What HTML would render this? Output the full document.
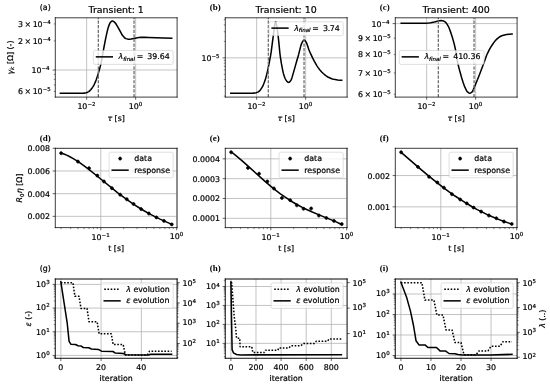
<!DOCTYPE html>
<html lang="en">
<head>
<meta charset="utf-8">
<title>Figure</title>
<style>html,body{margin:0;padding:0;background:#fff;width:550px;height:385px;overflow:hidden}svg text{font-family:"DejaVu Sans","Liberation Sans",sans-serif;stroke:#000;stroke-width:0.28px;paint-order:stroke}svg g[id^=plabel] text{stroke:none;font-family:"Liberation Serif",serif}</style>
</head>
<body>
<svg width="550" height="385" viewBox="0 0 720 504" style="display:block;position:absolute;left:0;top:0">
 <defs>
  <style type="text/css">*{stroke-linejoin: round; stroke-linecap: butt}</style>
 </defs>
 <g id="figure_1">
  <g id="patch_1">
   <path d="M 0 504 L 720 504 L 720 0 L 0 0 z" style="fill: #ffffff"/>
  </g>
  <g id="axes_1">
   <g id="patch_2">
    <path d="M 72.392727 127.112727 L 231.84 127.112727 L 231.84 23.301818 L 72.392727 23.301818 z" style="fill: #ffffff"/>
   </g>
   <g id="matplotlib.axis_1">
    <g id="xtick_1">
     <g id="line2d_1">
      <path d="M 113.432727 127.112727 L 113.432727 23.301818" clip-path="url(#pb1dede0f49)" style="fill: none; stroke: #b0b0b0; stroke-linecap: square"/>
     </g>
     <g id="line2d_2">
      <g>
       <path d="M 0 0 L 0 3.5" transform="translate(113.432727 127.112727)" style="stroke: #000000; stroke-width: 0.8; stroke: #000000; stroke-width: 0.8"/>
      </g>
     </g>
     <g id="text_1">
      <g transform="translate(101.330227 143.439118)">
       <text xml:space="preserve"><tspan x="0 6.521" y="-0.977" style="font-size: 10.3px; font-family: 'DejaVu Sans', 'Liberation Sans', sans-serif">10</tspan><tspan x="13.138 19.15" y="-4.805" style="font-size: 7.21px; font-family: 'DejaVu Sans', 'Liberation Sans', sans-serif">−2</tspan></text>
      </g>
     </g>
    </g>
    <g id="xtick_2">
     <g id="line2d_3">
      <path d="M 177.578182 127.112727 L 177.578182 23.301818" clip-path="url(#pb1dede0f49)" style="fill: none; stroke: #b0b0b0; stroke-linecap: square"/>
     </g>
     <g id="line2d_4">
      <g>
       <path d="M 0 0 L 0 3.5" transform="translate(177.578182 127.112727)" style="stroke: #000000; stroke-width: 0.8; stroke: #000000; stroke-width: 0.8"/>
      </g>
     </g>
     <g id="text_2">
      <g transform="translate(168.514182 143.439118)">
       <text xml:space="preserve"><tspan x="0 6.521" y="-0.977" style="font-size: 10.3px; font-family: 'DejaVu Sans', 'Liberation Sans', sans-serif">10</tspan><tspan x="13.138" y="-4.805" style="font-size: 7.21px; font-family: 'DejaVu Sans', 'Liberation Sans', sans-serif">0</tspan></text>
      </g>
     </g>
    </g>
    <g id="text_3">
     <g transform="translate(140.631864 158.407587)">
      <text xml:space="preserve"><tspan x="0" y="-0.406" style="font-style: oblique; font-size: 10.3px; font-family: 'DejaVu Sans', 'Liberation Sans', sans-serif">τ</tspan><tspan x="6.171 9.429 13.428 18.768" y="-0.406" style="font-size: 10.3px; font-family: 'DejaVu Sans', 'Liberation Sans', sans-serif"> [s]</tspan></text>
     </g>
    </g>
   </g>
   <g id="matplotlib.axis_2">
    <g id="ytick_1">
     <g id="line2d_5">
      <path d="M 72.392727 91.636364 L 231.84 91.636364" clip-path="url(#pb1dede0f49)" style="fill: none; stroke: #b0b0b0; stroke-linecap: square"/>
     </g>
     <g id="line2d_6">
      <g>
       <path d="M 0 0 L -3.5 0" transform="translate(72.392727 91.636364)" style="stroke: #000000; stroke-width: 0.8; stroke: #000000; stroke-width: 0.8"/>
      </g>
     </g>
     <g id="text_4">
      <g transform="translate(41.187727 95.549559)">
       <text xml:space="preserve"><tspan x="0 6.521" y="-0.064" style="font-size: 10.3px; font-family: 'DejaVu Sans', 'Liberation Sans', sans-serif">10</tspan><tspan x="13.138 19.15" y="-3.892" style="font-size: 7.21px; font-family: 'DejaVu Sans', 'Liberation Sans', sans-serif">−4</tspan></text>
      </g>
     </g>
    </g>
    <g id="ytick_2">
     <g id="line2d_7">
      <g>
       <path d="M 0 0 L -2 0" transform="translate(72.392727 119.690953)" style="stroke: #000000; stroke-width: 0.6; stroke: #000000; stroke-width: 0.6"/>
      </g>
     </g>
     <g id="text_5">
      <g transform="translate(23.629727 123.604148)">
       <text xml:space="preserve"><tspan x="0 8.518 19.104 25.625" y="-0.064" style="font-size: 10.3px; font-family: 'DejaVu Sans', 'Liberation Sans', sans-serif">6×10</tspan><tspan x="32.242 38.254" y="-3.892" style="font-size: 7.21px; font-family: 'DejaVu Sans', 'Liberation Sans', sans-serif">−5</tspan></text>
      </g>
     </g>
    </g>
    <g id="ytick_3">
     <g id="line2d_8">
      <g>
       <path d="M 0 0 L -2 0" transform="translate(72.392727 111.224984)" style="stroke: #000000; stroke-width: 0.6; stroke: #000000; stroke-width: 0.6"/>
      </g>
     </g>
    </g>
    <g id="ytick_4">
     <g id="line2d_9">
      <g>
       <path d="M 0 0 L -2 0" transform="translate(72.392727 103.891428)" style="stroke: #000000; stroke-width: 0.6; stroke: #000000; stroke-width: 0.6"/>
      </g>
     </g>
    </g>
    <g id="ytick_5">
     <g id="line2d_10">
      <g>
       <path d="M 0 0 L -2 0" transform="translate(72.392727 97.422773)" style="stroke: #000000; stroke-width: 0.6; stroke: #000000; stroke-width: 0.6"/>
      </g>
     </g>
    </g>
    <g id="ytick_6">
     <g id="line2d_11">
      <g>
       <path d="M 0 0 L -2 0" transform="translate(72.392727 53.568658)" style="stroke: #000000; stroke-width: 0.6; stroke: #000000; stroke-width: 0.6"/>
      </g>
     </g>
     <g id="text_6">
      <g transform="translate(23.629727 57.481853)">
       <text xml:space="preserve"><tspan x="0 8.518 19.104 25.625" y="-0.064" style="font-size: 10.3px; font-family: 'DejaVu Sans', 'Liberation Sans', sans-serif">2×10</tspan><tspan x="32.242 38.254" y="-3.892" style="font-size: 7.21px; font-family: 'DejaVu Sans', 'Liberation Sans', sans-serif">−4</tspan></text>
      </g>
     </g>
    </g>
    <g id="ytick_7">
     <g id="line2d_12">
      <g>
       <path d="M 0 0 L -2 0" transform="translate(72.392727 31.300477)" style="stroke: #000000; stroke-width: 0.6; stroke: #000000; stroke-width: 0.6"/>
      </g>
     </g>
     <g id="text_7">
      <g transform="translate(23.629727 35.213673)">
       <text xml:space="preserve"><tspan x="0 8.518 19.104 25.625" y="-0.064" style="font-size: 10.3px; font-family: 'DejaVu Sans', 'Liberation Sans', sans-serif">3×10</tspan><tspan x="32.242 38.254" y="-3.892" style="font-size: 7.21px; font-family: 'DejaVu Sans', 'Liberation Sans', sans-serif">−4</tspan></text>
      </g>
     </g>
    </g>
    <g id="text_8">
     <g transform="translate(17.466727 97.609773) rotate(-90)">
      <text xml:space="preserve"><tspan x="0" y="-0.406" style="font-style: oblique; font-size: 10.3px; font-family: 'DejaVu Sans', 'Liberation Sans', sans-serif">γ</tspan><tspan x="6.066" y="1.234" style="font-style: oblique; font-size: 7.21px; font-family: 'DejaVu Sans', 'Liberation Sans', sans-serif">k</tspan><tspan x="10.494 13.753 17.751 25.584 29.583 32.841 36.84 40.539" y="-0.406" style="font-size: 10.3px; font-family: 'DejaVu Sans', 'Liberation Sans', sans-serif"> [Ω] (-)</tspan></text>
     </g>
    </g>
   </g>
   <g id="line2d_13">
    <path d="M 79.069091 122.007273 L 109.72779 121.907386 L 111.479716 121.762266 L 112.939654 121.374355 L 114.69158 120.666497 L 116.151518 119.905834 L 117.319468 118.953635 L 118.779406 117.393918 L 120.823319 114.811337 L 121.99127 113.013508 L 123.451208 110.329868 L 124.911146 107.218744 L 126.079096 104.166756 L 128.12301 98.008544 L 129.874935 92.159902 L 131.626861 85.62304 L 132.502824 81.677151 L 133.962762 73.61335 L 136.006675 62.199534 L 138.342576 50.257694 L 140.678477 39.763743 L 141.846427 35.511917 L 143.306365 31.579251 L 144.182328 29.819543 L 144.766304 29.076799 L 145.934254 27.991368 L 146.518229 27.636454 L 147.102204 27.491545 L 147.68618 27.578454 L 148.562142 28.0222 L 149.730093 28.968817 L 151.190031 30.428769 L 152.357981 32.133916 L 154.693882 36.113827 L 159.365684 44.768052 L 160.533635 46.490426 L 162.869535 49.165682 L 164.037486 50.135105 L 164.913449 50.565864 L 166.957362 51.186299 L 168.4173 51.423478 L 169.877238 51.403213 L 171.629164 51.108335 L 178.636866 49.589699 L 181.556743 49.15656 L 185.060594 48.936782 L 189.440408 48.8301 L 194.404197 48.969861 L 213.967367 49.761663 L 224.770909 50.007273 L 224.770909 50.007273" clip-path="url(#pb1dede0f49)" style="fill: none; stroke: #000000; stroke-width: 2; stroke-linecap: square"/>
   </g>
   <g id="line2d_14">
    <path d="M 128.735307 127.112727 L 128.735307 23.301818" clip-path="url(#pb1dede0f49)" style="fill: none; stroke-dasharray: 4.2,1.8025; stroke-dashoffset: 0; stroke: #707070; stroke-width: 1.75"/>
   </g>
   <g id="line2d_15">
    <path d="M 175.477369 127.112727 L 175.477369 23.301818" clip-path="url(#pb1dede0f49)" style="fill: none; stroke-dasharray: 4.2,1.8025; stroke-dashoffset: 0; stroke: #707070; stroke-width: 1.75"/>
   </g>
   <g id="patch_3">
    <path d="M 72.392727 127.112727 L 72.392727 23.301818" style="fill: none; stroke: #000000; stroke-linejoin: miter; stroke-linecap: square"/>
   </g>
   <g id="patch_4">
    <path d="M 231.84 127.112727 L 231.84 23.301818" style="fill: none; stroke: #000000; stroke-linejoin: miter; stroke-linecap: square"/>
   </g>
   <g id="patch_5">
    <path d="M 72.392727 127.112727 L 231.84 127.112727" style="fill: none; stroke: #000000; stroke-linejoin: miter; stroke-linecap: square"/>
   </g>
   <g id="patch_6">
    <path d="M 72.392727 23.301818 L 231.84 23.301818" style="fill: none; stroke: #000000; stroke-linejoin: miter; stroke-linecap: square"/>
   </g>
   <g id="text_9">
    <text style="font-size: 12.36px; font-family: 'DejaVu Sans', 'Liberation Sans', sans-serif; text-anchor: middle" x="152.116364" y="17.301818" transform="rotate(-0 152.116364 17.301818)">Transient: 1</text>
   </g>
   <g id="legend_1">
    <g id="patch_7">
     <path d="M 124.308 84.311507 L 224.63 84.311507 Q 226.69 84.311507 226.69 82.251507 L 226.69 68.163038 Q 226.69 66.103038 224.63 66.103038 L 124.308 66.103038 Q 122.248 66.103038 122.248 68.163038 L 122.248 82.251507 Q 122.248 84.311507 124.308 84.311507 z" style="fill: #ffffff; opacity: 0.8; stroke: #cccccc; stroke-linejoin: miter"/>
    </g>
    <g id="line2d_16">
     <path d="M 126.368 74.444429 L 136.668 74.444429 L 146.968 74.444429" style="fill: none; stroke: #000000; stroke-width: 2; stroke-linecap: square"/>
    </g>
    <g id="text_10">
     <g transform="translate(155.208 78.049429)">
      <text xml:space="preserve"><tspan x="0" y="-0.406" style="font-style: oblique; font-size: 10.3px; font-family: 'DejaVu Sans', 'Liberation Sans', sans-serif">λ</tspan><tspan x="6.066 8.592 10.585 15.133 19.53" y="1.234" style="font-style: oblique; font-size: 7.21px; font-family: 'DejaVu Sans', 'Liberation Sans', sans-serif">final</tspan><tspan x="23.793 34.379 37.637 44.158 50.68 53.938 60.459" y="-0.406" style="font-size: 10.3px; font-family: 'DejaVu Sans', 'Liberation Sans', sans-serif">= 39.64</tspan></text>
     </g>
    </g>
   </g>
  </g>
  <g id="axes_2">
   <g id="patch_8">
    <path d="M 294.938182 127.112727 L 454.385455 127.112727 L 454.385455 23.301818 L 294.938182 23.301818 z" style="fill: #ffffff"/>
   </g>
   <g id="matplotlib.axis_3">
    <g id="xtick_3">
     <g id="line2d_17">
      <path d="M 335.978182 127.112727 L 335.978182 23.301818" clip-path="url(#p7236c7cf03)" style="fill: none; stroke: #b0b0b0; stroke-linecap: square"/>
     </g>
     <g id="line2d_18">
      <g>
       <path d="M 0 0 L 0 3.5" transform="translate(335.978182 127.112727)" style="stroke: #000000; stroke-width: 0.8; stroke: #000000; stroke-width: 0.8"/>
      </g>
     </g>
     <g id="text_11">
      <g transform="translate(323.875682 143.439118)">
       <text xml:space="preserve"><tspan x="0 6.521" y="-0.977" style="font-size: 10.3px; font-family: 'DejaVu Sans', 'Liberation Sans', sans-serif">10</tspan><tspan x="13.138 19.15" y="-4.805" style="font-size: 7.21px; font-family: 'DejaVu Sans', 'Liberation Sans', sans-serif">−2</tspan></text>
      </g>
     </g>
    </g>
    <g id="xtick_4">
     <g id="line2d_19">
      <path d="M 400.123636 127.112727 L 400.123636 23.301818" clip-path="url(#p7236c7cf03)" style="fill: none; stroke: #b0b0b0; stroke-linecap: square"/>
     </g>
     <g id="line2d_20">
      <g>
       <path d="M 0 0 L 0 3.5" transform="translate(400.123636 127.112727)" style="stroke: #000000; stroke-width: 0.8; stroke: #000000; stroke-width: 0.8"/>
      </g>
     </g>
     <g id="text_12">
      <g transform="translate(391.059636 143.439118)">
       <text xml:space="preserve"><tspan x="0 6.521" y="-0.977" style="font-size: 10.3px; font-family: 'DejaVu Sans', 'Liberation Sans', sans-serif">10</tspan><tspan x="13.138" y="-4.805" style="font-size: 7.21px; font-family: 'DejaVu Sans', 'Liberation Sans', sans-serif">0</tspan></text>
      </g>
     </g>
    </g>
    <g id="text_13">
     <g transform="translate(363.177318 158.407587)">
      <text xml:space="preserve"><tspan x="0" y="-0.406" style="font-style: oblique; font-size: 10.3px; font-family: 'DejaVu Sans', 'Liberation Sans', sans-serif">τ</tspan><tspan x="6.171 9.429 13.428 18.768" y="-0.406" style="font-size: 10.3px; font-family: 'DejaVu Sans', 'Liberation Sans', sans-serif"> [s]</tspan></text>
     </g>
    </g>
   </g>
   <g id="matplotlib.axis_4">
    <g id="ytick_8">
     <g id="line2d_21">
      <path d="M 294.938182 75.730909 L 454.385455 75.730909" clip-path="url(#p7236c7cf03)" style="fill: none; stroke: #b0b0b0; stroke-linecap: square"/>
     </g>
     <g id="line2d_22">
      <g>
       <path d="M 0 0 L -3.5 0" transform="translate(294.938182 75.730909)" style="stroke: #000000; stroke-width: 0.8; stroke: #000000; stroke-width: 0.8"/>
      </g>
     </g>
     <g id="text_14">
      <g transform="translate(263.733182 79.644104)">
       <text xml:space="preserve"><tspan x="0 6.521" y="-0.064" style="font-size: 10.3px; font-family: 'DejaVu Sans', 'Liberation Sans', sans-serif">10</tspan><tspan x="13.138 19.15" y="-3.892" style="font-size: 7.21px; font-family: 'DejaVu Sans', 'Liberation Sans', sans-serif">−5</tspan></text>
      </g>
     </g>
    </g>
    <g id="ytick_9">
     <g id="line2d_23">
      <g>
       <path d="M 0 0 L -2 0" transform="translate(294.938182 125.782245)" style="stroke: #000000; stroke-width: 0.6; stroke: #000000; stroke-width: 0.6"/>
      </g>
     </g>
    </g>
    <g id="ytick_10">
     <g id="line2d_24">
      <g>
       <path d="M 0 0 L -2 0" transform="translate(294.938182 113.17283)" style="stroke: #000000; stroke-width: 0.6; stroke: #000000; stroke-width: 0.6"/>
      </g>
     </g>
    </g>
    <g id="ytick_11">
     <g id="line2d_25">
      <g>
       <path d="M 0 0 L -2 0" transform="translate(294.938182 104.226308)" style="stroke: #000000; stroke-width: 0.6; stroke: #000000; stroke-width: 0.6"/>
      </g>
     </g>
    </g>
    <g id="ytick_12">
     <g id="line2d_26">
      <g>
       <path d="M 0 0 L -2 0" transform="translate(294.938182 97.286846)" style="stroke: #000000; stroke-width: 0.6; stroke: #000000; stroke-width: 0.6"/>
      </g>
     </g>
    </g>
    <g id="ytick_13">
     <g id="line2d_27">
      <g>
       <path d="M 0 0 L -2 0" transform="translate(294.938182 91.616893)" style="stroke: #000000; stroke-width: 0.6; stroke: #000000; stroke-width: 0.6"/>
      </g>
     </g>
    </g>
    <g id="ytick_14">
     <g id="line2d_28">
      <g>
       <path d="M 0 0 L -2 0" transform="translate(294.938182 86.823016)" style="stroke: #000000; stroke-width: 0.6; stroke: #000000; stroke-width: 0.6"/>
      </g>
     </g>
    </g>
    <g id="ytick_15">
     <g id="line2d_29">
      <g>
       <path d="M 0 0 L -2 0" transform="translate(294.938182 82.670371)" style="stroke: #000000; stroke-width: 0.6; stroke: #000000; stroke-width: 0.6"/>
      </g>
     </g>
    </g>
    <g id="ytick_16">
     <g id="line2d_30">
      <g>
       <path d="M 0 0 L -2 0" transform="translate(294.938182 79.007478)" style="stroke: #000000; stroke-width: 0.6; stroke: #000000; stroke-width: 0.6"/>
      </g>
     </g>
    </g>
    <g id="ytick_17">
     <g id="line2d_31">
      <g>
       <path d="M 0 0 L -2 0" transform="translate(294.938182 54.174972)" style="stroke: #000000; stroke-width: 0.6; stroke: #000000; stroke-width: 0.6"/>
      </g>
     </g>
    </g>
    <g id="ytick_18">
     <g id="line2d_32">
      <g>
       <path d="M 0 0 L -2 0" transform="translate(294.938182 41.565557)" style="stroke: #000000; stroke-width: 0.6; stroke: #000000; stroke-width: 0.6"/>
      </g>
     </g>
    </g>
    <g id="ytick_19">
     <g id="line2d_33">
      <g>
       <path d="M 0 0 L -2 0" transform="translate(294.938182 32.619035)" style="stroke: #000000; stroke-width: 0.6; stroke: #000000; stroke-width: 0.6"/>
      </g>
     </g>
    </g>
    <g id="ytick_20">
     <g id="line2d_34">
      <g>
       <path d="M 0 0 L -2 0" transform="translate(294.938182 25.679573)" style="stroke: #000000; stroke-width: 0.6; stroke: #000000; stroke-width: 0.6"/>
      </g>
     </g>
    </g>
   </g>
   <g id="line2d_35">
    <path d="M 302.138182 122.007273 L 331.522944 121.903623 L 333.559512 121.718175 L 335.305141 121.311092 L 337.341709 120.588964 L 338.505462 120.036613 L 339.378277 119.348882 L 340.54203 118.074339 L 341.996721 116.065172 L 343.451412 113.748193 L 344.615165 111.338572 L 346.069856 107.630965 L 347.524547 103.375731 L 348.6883 99.300223 L 350.142991 93.350143 L 351.306744 87.755292 L 353.343312 77.290465 L 354.216127 72.887484 L 355.088942 67.356886 L 356.543633 56.255505 L 359.453015 33.486517 L 360.32583 29.382414 L 360.616768 28.618304 L 360.907706 28.420589 L 361.198645 28.866487 L 361.780521 31.118436 L 362.944274 37.568557 L 364.108027 46.841004 L 364.980842 55.136455 L 366.435533 70.021083 L 367.308348 76.561022 L 368.472101 83.704777 L 370.21773 92.764853 L 371.090545 96.411561 L 372.254298 100.140229 L 373.127112 102.399205 L 373.999927 104.141301 L 375.16368 105.973443 L 376.036495 106.872244 L 377.200248 107.671125 L 377.782124 107.85951 L 378.364001 107.782969 L 378.945877 107.426854 L 379.818692 106.518265 L 380.982445 104.90155 L 381.564321 103.594649 L 382.437136 100.96855 L 385.928395 88.830408 L 388.255901 80.612255 L 390.874345 71.573775 L 393.783727 60.002612 L 394.94748 56.77359 L 395.820295 54.991939 L 397.274986 53.037456 L 397.856863 52.585594 L 398.438739 52.523661 L 399.020616 52.866689 L 399.602492 53.513009 L 400.766245 55.297244 L 401.348122 56.356985 L 402.220936 58.725969 L 404.257504 64.831327 L 406.294072 69.610343 L 409.203454 75.796268 L 411.53096 80.292227 L 414.731281 85.890235 L 416.47691 88.521737 L 418.804416 91.527152 L 421.131922 94.168205 L 423.16849 96.163484 L 426.077872 98.659231 L 428.11444 100.150998 L 429.860069 101.170078 L 432.769452 102.502843 L 435.096958 103.321451 L 437.133525 103.784982 L 442.079475 104.608677 L 445.279796 104.925498 L 447.316364 104.989091 L 447.316364 104.989091" clip-path="url(#p7236c7cf03)" style="fill: none; stroke: #000000; stroke-width: 2; stroke-linecap: square"/>
   </g>
   <g id="line2d_36">
    <path d="M 351.280762 127.112727 L 351.280762 23.301818" clip-path="url(#p7236c7cf03)" style="fill: none; stroke-dasharray: 4.2,1.8025; stroke-dashoffset: 0; stroke: #707070; stroke-width: 1.75"/>
   </g>
   <g id="line2d_37">
    <path d="M 398.022823 127.112727 L 398.022823 23.301818" clip-path="url(#p7236c7cf03)" style="fill: none; stroke-dasharray: 4.2,1.8025; stroke-dashoffset: 0; stroke: #707070; stroke-width: 1.75"/>
   </g>
   <g id="patch_9">
    <path d="M 294.938182 127.112727 L 294.938182 23.301818" style="fill: none; stroke: #000000; stroke-linejoin: miter; stroke-linecap: square"/>
   </g>
   <g id="patch_10">
    <path d="M 454.385455 127.112727 L 454.385455 23.301818" style="fill: none; stroke: #000000; stroke-linejoin: miter; stroke-linecap: square"/>
   </g>
   <g id="patch_11">
    <path d="M 294.938182 127.112727 L 454.385455 127.112727" style="fill: none; stroke: #000000; stroke-linejoin: miter; stroke-linecap: square"/>
   </g>
   <g id="patch_12">
    <path d="M 294.938182 23.301818 L 454.385455 23.301818" style="fill: none; stroke: #000000; stroke-linejoin: miter; stroke-linecap: square"/>
   </g>
   <g id="text_15">
    <text style="font-size: 12.36px; font-family: 'DejaVu Sans', 'Liberation Sans', sans-serif; text-anchor: middle" x="374.661818" y="17.301818" transform="rotate(-0 374.661818 17.301818)">Transient: 10</text>
   </g>
   <g id="legend_2">
    <g id="patch_13">
     <path d="M 354.166455 46.660287 L 447.175455 46.660287 Q 449.235455 46.660287 449.235455 44.600287 L 449.235455 30.511818 Q 449.235455 28.451818 447.175455 28.451818 L 354.166455 28.451818 Q 352.106455 28.451818 352.106455 30.511818 L 352.106455 44.600287 Q 352.106455 46.660287 354.166455 46.660287 z" style="fill: #ffffff; opacity: 0.8; stroke: #cccccc; stroke-linejoin: miter"/>
    </g>
    <g id="line2d_38">
     <path d="M 356.226455 36.793209 L 366.526455 36.793209 L 376.826455 36.793209" style="fill: none; stroke: #000000; stroke-width: 2; stroke-linecap: square"/>
    </g>
    <g id="text_16">
     <g transform="translate(385.066455 40.398209)">
      <text xml:space="preserve"><tspan x="0" y="-0.406" style="font-style: oblique; font-size: 10.3px; font-family: 'DejaVu Sans', 'Liberation Sans', sans-serif">λ</tspan><tspan x="6.066 8.592 10.585 15.133 19.53" y="1.234" style="font-style: oblique; font-size: 7.21px; font-family: 'DejaVu Sans', 'Liberation Sans', sans-serif">final</tspan><tspan x="23.793 34.379 37.637 44.158 46.666 53.188" y="-0.406" style="font-size: 10.3px; font-family: 'DejaVu Sans', 'Liberation Sans', sans-serif">= 3.74</tspan></text>
     </g>
    </g>
   </g>
  </g>
  <g id="axes_3">
   <g id="patch_14">
    <path d="M 517.483636 127.112727 L 676.930909 127.112727 L 676.930909 23.301818 L 517.483636 23.301818 z" style="fill: #ffffff"/>
   </g>
   <g id="matplotlib.axis_5">
    <g id="xtick_5">
     <g id="line2d_39">
      <path d="M 558.523636 127.112727 L 558.523636 23.301818" clip-path="url(#p503ab55e07)" style="fill: none; stroke: #b0b0b0; stroke-linecap: square"/>
     </g>
     <g id="line2d_40">
      <g>
       <path d="M 0 0 L 0 3.5" transform="translate(558.523636 127.112727)" style="stroke: #000000; stroke-width: 0.8; stroke: #000000; stroke-width: 0.8"/>
      </g>
     </g>
     <g id="text_17">
      <g transform="translate(546.421136 143.439118)">
       <text xml:space="preserve"><tspan x="0 6.521" y="-0.977" style="font-size: 10.3px; font-family: 'DejaVu Sans', 'Liberation Sans', sans-serif">10</tspan><tspan x="13.138 19.15" y="-4.805" style="font-size: 7.21px; font-family: 'DejaVu Sans', 'Liberation Sans', sans-serif">−2</tspan></text>
      </g>
     </g>
    </g>
    <g id="xtick_6">
     <g id="line2d_41">
      <path d="M 622.669091 127.112727 L 622.669091 23.301818" clip-path="url(#p503ab55e07)" style="fill: none; stroke: #b0b0b0; stroke-linecap: square"/>
     </g>
     <g id="line2d_42">
      <g>
       <path d="M 0 0 L 0 3.5" transform="translate(622.669091 127.112727)" style="stroke: #000000; stroke-width: 0.8; stroke: #000000; stroke-width: 0.8"/>
      </g>
     </g>
     <g id="text_18">
      <g transform="translate(613.605091 143.439118)">
       <text xml:space="preserve"><tspan x="0 6.521" y="-0.977" style="font-size: 10.3px; font-family: 'DejaVu Sans', 'Liberation Sans', sans-serif">10</tspan><tspan x="13.138" y="-4.805" style="font-size: 7.21px; font-family: 'DejaVu Sans', 'Liberation Sans', sans-serif">0</tspan></text>
      </g>
     </g>
    </g>
    <g id="text_19">
     <g transform="translate(585.722773 158.407587)">
      <text xml:space="preserve"><tspan x="0" y="-0.406" style="font-style: oblique; font-size: 10.3px; font-family: 'DejaVu Sans', 'Liberation Sans', sans-serif">τ</tspan><tspan x="6.171 9.429 13.428 18.768" y="-0.406" style="font-size: 10.3px; font-family: 'DejaVu Sans', 'Liberation Sans', sans-serif"> [s]</tspan></text>
     </g>
    </g>
   </g>
   <g id="matplotlib.axis_6">
    <g id="ytick_21">
     <g id="line2d_43">
      <path d="M 517.483636 30.894545 L 676.930909 30.894545" clip-path="url(#p503ab55e07)" style="fill: none; stroke: #b0b0b0; stroke-linecap: square"/>
     </g>
     <g id="line2d_44">
      <g>
       <path d="M 0 0 L -3.5 0" transform="translate(517.483636 30.894545)" style="stroke: #000000; stroke-width: 0.8; stroke: #000000; stroke-width: 0.8"/>
      </g>
     </g>
     <g id="text_20">
      <g transform="translate(486.278636 34.807741)">
       <text xml:space="preserve"><tspan x="0 6.521" y="-0.064" style="font-size: 10.3px; font-family: 'DejaVu Sans', 'Liberation Sans', sans-serif">10</tspan><tspan x="13.138 19.15" y="-3.892" style="font-size: 7.21px; font-family: 'DejaVu Sans', 'Liberation Sans', sans-serif">−4</tspan></text>
      </g>
     </g>
    </g>
    <g id="ytick_22">
     <g id="line2d_45">
      <g>
       <path d="M 0 0 L -2 0" transform="translate(517.483636 123.393373)" style="stroke: #000000; stroke-width: 0.6; stroke: #000000; stroke-width: 0.6"/>
      </g>
     </g>
     <g id="text_21">
      <g transform="translate(468.720636 127.306569)">
       <text xml:space="preserve"><tspan x="0 8.518 19.104 25.625" y="-0.064" style="font-size: 10.3px; font-family: 'DejaVu Sans', 'Liberation Sans', sans-serif">6×10</tspan><tspan x="32.242 38.254" y="-3.892" style="font-size: 7.21px; font-family: 'DejaVu Sans', 'Liberation Sans', sans-serif">−5</tspan></text>
      </g>
     </g>
    </g>
    <g id="ytick_23">
     <g id="line2d_46">
      <g>
       <path d="M 0 0 L -2 0" transform="translate(517.483636 95.480214)" style="stroke: #000000; stroke-width: 0.6; stroke: #000000; stroke-width: 0.6"/>
      </g>
     </g>
     <g id="text_22">
      <g transform="translate(468.720636 99.393409)">
       <text xml:space="preserve"><tspan x="0 8.518 19.104 25.625" y="-0.064" style="font-size: 10.3px; font-family: 'DejaVu Sans', 'Liberation Sans', sans-serif">7×10</tspan><tspan x="32.242 38.254" y="-3.892" style="font-size: 7.21px; font-family: 'DejaVu Sans', 'Liberation Sans', sans-serif">−5</tspan></text>
      </g>
     </g>
    </g>
    <g id="ytick_24">
     <g id="line2d_47">
      <g>
       <path d="M 0 0 L -2 0" transform="translate(517.483636 71.300735)" style="stroke: #000000; stroke-width: 0.6; stroke: #000000; stroke-width: 0.6"/>
      </g>
     </g>
     <g id="text_23">
      <g transform="translate(468.720636 75.21393)">
       <text xml:space="preserve"><tspan x="0 8.518 19.104 25.625" y="-0.064" style="font-size: 10.3px; font-family: 'DejaVu Sans', 'Liberation Sans', sans-serif">8×10</tspan><tspan x="32.242 38.254" y="-3.892" style="font-size: 7.21px; font-family: 'DejaVu Sans', 'Liberation Sans', sans-serif">−5</tspan></text>
      </g>
     </g>
    </g>
    <g id="ytick_25">
     <g id="line2d_48">
      <g>
       <path d="M 0 0 L -2 0" transform="translate(517.483636 49.972923)" style="stroke: #000000; stroke-width: 0.6; stroke: #000000; stroke-width: 0.6"/>
      </g>
     </g>
     <g id="text_24">
      <g transform="translate(468.720636 53.886118)">
       <text xml:space="preserve"><tspan x="0 8.518 19.104 25.625" y="-0.064" style="font-size: 10.3px; font-family: 'DejaVu Sans', 'Liberation Sans', sans-serif">9×10</tspan><tspan x="32.242 38.254" y="-3.892" style="font-size: 7.21px; font-family: 'DejaVu Sans', 'Liberation Sans', sans-serif">−5</tspan></text>
      </g>
     </g>
    </g>
   </g>
   <g id="line2d_49">
    <path d="M 525.207273 30.501818 L 557.792356 30.397783 L 560.992676 30.222471 L 563.902059 29.803004 L 568.557071 28.896662 L 575.24865 27.256458 L 577.576156 26.975098 L 578.739909 27.027174 L 579.903662 27.309565 L 581.358353 27.893493 L 582.522106 28.4925 L 583.394921 29.237605 L 584.558674 30.646109 L 586.013365 32.846745 L 586.88618 34.378898 L 588.049933 37.06457 L 590.377439 43.38187 L 592.123068 48.679305 L 593.868697 54.780718 L 595.323389 60.599118 L 596.487142 66.050567 L 597.359956 71.428353 L 598.523709 79.021554 L 599.396524 83.278331 L 600.851215 89.157534 L 604.342474 101.78353 L 606.379042 108.229852 L 607.833733 112.397192 L 608.997486 115.130427 L 610.743115 118.634464 L 611.61593 119.910116 L 612.488745 120.730841 L 613.652498 121.606166 L 614.525312 121.969728 L 615.107189 121.993587 L 615.980004 121.715812 L 616.852818 121.164272 L 618.016571 120.18478 L 618.598448 119.384797 L 619.471263 117.630878 L 625.290027 103.835446 L 628.490348 95.57677 L 634.890989 78.496377 L 636.927557 72.736353 L 638.382248 69.429721 L 640.418816 65.331056 L 642.455383 61.723629 L 644.491951 58.544411 L 647.110395 54.82308 L 648.856025 52.667777 L 650.310716 51.176182 L 652.347284 49.513562 L 654.383851 48.097193 L 656.129481 47.134345 L 657.87511 46.452817 L 660.493554 45.699925 L 663.111999 45.171253 L 666.603257 44.744629 L 669.803578 44.520367 L 670.385455 44.509091 L 670.385455 44.509091" clip-path="url(#p503ab55e07)" style="fill: none; stroke: #000000; stroke-width: 2; stroke-linecap: square"/>
   </g>
   <g id="line2d_50">
    <path d="M 573.826216 127.112727 L 573.826216 23.301818" clip-path="url(#p503ab55e07)" style="fill: none; stroke-dasharray: 4.2,1.8025; stroke-dashoffset: 0; stroke: #707070; stroke-width: 1.75"/>
   </g>
   <g id="line2d_51">
    <path d="M 620.568278 127.112727 L 620.568278 23.301818" clip-path="url(#p503ab55e07)" style="fill: none; stroke-dasharray: 4.2,1.8025; stroke-dashoffset: 0; stroke: #707070; stroke-width: 1.75"/>
   </g>
   <g id="patch_15">
    <path d="M 517.483636 127.112727 L 517.483636 23.301818" style="fill: none; stroke: #000000; stroke-linejoin: miter; stroke-linecap: square"/>
   </g>
   <g id="patch_16">
    <path d="M 676.930909 127.112727 L 676.930909 23.301818" style="fill: none; stroke: #000000; stroke-linejoin: miter; stroke-linecap: square"/>
   </g>
   <g id="patch_17">
    <path d="M 517.483636 127.112727 L 676.930909 127.112727" style="fill: none; stroke: #000000; stroke-linejoin: miter; stroke-linecap: square"/>
   </g>
   <g id="patch_18">
    <path d="M 517.483636 23.301818 L 676.930909 23.301818" style="fill: none; stroke: #000000; stroke-linejoin: miter; stroke-linecap: square"/>
   </g>
   <g id="text_25">
    <text style="font-size: 12.36px; font-family: 'DejaVu Sans', 'Liberation Sans', sans-serif; text-anchor: middle" x="597.207273" y="17.301818" transform="rotate(-0 597.207273 17.301818)">Transient: 400</text>
   </g>
   <g id="legend_3">
    <g id="patch_19">
     <path d="M 524.693636 84.311507 L 631.607636 84.311507 Q 633.667636 84.311507 633.667636 82.251507 L 633.667636 68.163038 Q 633.667636 66.103038 631.607636 66.103038 L 524.693636 66.103038 Q 522.633636 66.103038 522.633636 68.163038 L 522.633636 82.251507 Q 522.633636 84.311507 524.693636 84.311507 z" style="fill: #ffffff; opacity: 0.8; stroke: #cccccc; stroke-linejoin: miter"/>
    </g>
    <g id="line2d_52">
     <path d="M 526.753636 74.444429 L 537.053636 74.444429 L 547.353636 74.444429" style="fill: none; stroke: #000000; stroke-width: 2; stroke-linecap: square"/>
    </g>
    <g id="text_26">
     <g transform="translate(555.593636 78.049429)">
      <text xml:space="preserve"><tspan x="0" y="-0.406" style="font-style: oblique; font-size: 10.3px; font-family: 'DejaVu Sans', 'Liberation Sans', sans-serif">λ</tspan><tspan x="6.066 8.592 10.585 15.133 19.53" y="1.234" style="font-style: oblique; font-size: 7.21px; font-family: 'DejaVu Sans', 'Liberation Sans', sans-serif">final</tspan><tspan x="23.793 34.379 37.637 44.158 50.68 57.201 60.459 66.981" y="-0.406" style="font-size: 10.3px; font-family: 'DejaVu Sans', 'Liberation Sans', sans-serif">= 410.36</tspan></text>
     </g>
    </g>
   </g>
  </g>
  <g id="axes_4">
   <g id="patch_20">
    <path d="M 72.392727 297.949091 L 231.84 297.949091 L 231.84 194.138182 L 72.392727 194.138182 z" style="fill: #ffffff"/>
   </g>
   <g id="matplotlib.axis_7">
    <g id="xtick_7">
     <g id="line2d_53">
      <path d="M 131.956364 297.949091 L 131.956364 194.138182" clip-path="url(#p05bd576114)" style="fill: none; stroke: #b0b0b0; stroke-linecap: square"/>
     </g>
     <g id="line2d_54">
      <g>
       <path d="M 0 0 L 0 3.5" transform="translate(131.956364 297.949091)" style="stroke: #000000; stroke-width: 0.8; stroke: #000000; stroke-width: 0.8"/>
      </g>
     </g>
     <g id="text_27">
      <g transform="translate(119.853864 314.275482)">
       <text xml:space="preserve"><tspan x="0 6.521" y="-0.064" style="font-size: 10.3px; font-family: 'DejaVu Sans', 'Liberation Sans', sans-serif">10</tspan><tspan x="13.138 19.15" y="-3.892" style="font-size: 7.21px; font-family: 'DejaVu Sans', 'Liberation Sans', sans-serif">−1</tspan></text>
      </g>
     </g>
    </g>
    <g id="xtick_8">
     <g id="line2d_55">
      <path d="M 231.316364 297.949091 L 231.316364 194.138182" clip-path="url(#p05bd576114)" style="fill: none; stroke: #b0b0b0; stroke-linecap: square"/>
     </g>
     <g id="line2d_56">
      <g>
       <path d="M 0 0 L 0 3.5" transform="translate(231.316364 297.949091)" style="stroke: #000000; stroke-width: 0.8; stroke: #000000; stroke-width: 0.8"/>
      </g>
     </g>
     <g id="text_28">
      <g transform="translate(222.252364 314.275482)">
       <text xml:space="preserve"><tspan x="0 6.521" y="-0.977" style="font-size: 10.3px; font-family: 'DejaVu Sans', 'Liberation Sans', sans-serif">10</tspan><tspan x="13.138" y="-4.805" style="font-size: 7.21px; font-family: 'DejaVu Sans', 'Liberation Sans', sans-serif">0</tspan></text>
      </g>
     </g>
    </g>
    <g id="xtick_9">
     <g id="line2d_57">
      <g>
       <path d="M 0 0 L 0 2" transform="translate(80.003132 297.949091)" style="stroke: #000000; stroke-width: 0.6; stroke: #000000; stroke-width: 0.6"/>
      </g>
     </g>
    </g>
    <g id="xtick_10">
     <g id="line2d_58">
      <g>
       <path d="M 0 0 L 0 2" transform="translate(92.417044 297.949091)" style="stroke: #000000; stroke-width: 0.6; stroke: #000000; stroke-width: 0.6"/>
      </g>
     </g>
    </g>
    <g id="xtick_11">
     <g id="line2d_59">
      <g>
       <path d="M 0 0 L 0 2" transform="translate(102.046023 297.949091)" style="stroke: #000000; stroke-width: 0.6; stroke: #000000; stroke-width: 0.6"/>
      </g>
     </g>
    </g>
    <g id="xtick_12">
     <g id="line2d_60">
      <g>
       <path d="M 0 0 L 0 2" transform="translate(109.913472 297.949091)" style="stroke: #000000; stroke-width: 0.6; stroke: #000000; stroke-width: 0.6"/>
      </g>
     </g>
    </g>
    <g id="xtick_13">
     <g id="line2d_61">
      <g>
       <path d="M 0 0 L 0 2" transform="translate(116.565305 297.949091)" style="stroke: #000000; stroke-width: 0.6; stroke: #000000; stroke-width: 0.6"/>
      </g>
     </g>
    </g>
    <g id="xtick_14">
     <g id="line2d_62">
      <g>
       <path d="M 0 0 L 0 2" transform="translate(122.327385 297.949091)" style="stroke: #000000; stroke-width: 0.6; stroke: #000000; stroke-width: 0.6"/>
      </g>
     </g>
    </g>
    <g id="xtick_15">
     <g id="line2d_63">
      <g>
       <path d="M 0 0 L 0 2" transform="translate(127.409899 297.949091)" style="stroke: #000000; stroke-width: 0.6; stroke: #000000; stroke-width: 0.6"/>
      </g>
     </g>
    </g>
    <g id="xtick_16">
     <g id="line2d_64">
      <g>
       <path d="M 0 0 L 0 2" transform="translate(161.866704 297.949091)" style="stroke: #000000; stroke-width: 0.6; stroke: #000000; stroke-width: 0.6"/>
      </g>
     </g>
    </g>
    <g id="xtick_17">
     <g id="line2d_65">
      <g>
       <path d="M 0 0 L 0 2" transform="translate(179.363132 297.949091)" style="stroke: #000000; stroke-width: 0.6; stroke: #000000; stroke-width: 0.6"/>
      </g>
     </g>
    </g>
    <g id="xtick_18">
     <g id="line2d_66">
      <g>
       <path d="M 0 0 L 0 2" transform="translate(191.777044 297.949091)" style="stroke: #000000; stroke-width: 0.6; stroke: #000000; stroke-width: 0.6"/>
      </g>
     </g>
    </g>
    <g id="xtick_19">
     <g id="line2d_67">
      <g>
       <path d="M 0 0 L 0 2" transform="translate(201.406023 297.949091)" style="stroke: #000000; stroke-width: 0.6; stroke: #000000; stroke-width: 0.6"/>
      </g>
     </g>
    </g>
    <g id="xtick_20">
     <g id="line2d_68">
      <g>
       <path d="M 0 0 L 0 2" transform="translate(209.273472 297.949091)" style="stroke: #000000; stroke-width: 0.6; stroke: #000000; stroke-width: 0.6"/>
      </g>
     </g>
    </g>
    <g id="xtick_21">
     <g id="line2d_69">
      <g>
       <path d="M 0 0 L 0 2" transform="translate(215.925305 297.949091)" style="stroke: #000000; stroke-width: 0.6; stroke: #000000; stroke-width: 0.6"/>
      </g>
     </g>
    </g>
    <g id="xtick_22">
     <g id="line2d_70">
      <g>
       <path d="M 0 0 L 0 2" transform="translate(221.687385 297.949091)" style="stroke: #000000; stroke-width: 0.6; stroke: #000000; stroke-width: 0.6"/>
      </g>
     </g>
    </g>
    <g id="xtick_23">
     <g id="line2d_71">
      <g>
       <path d="M 0 0 L 0 2" transform="translate(226.769899 297.949091)" style="stroke: #000000; stroke-width: 0.6; stroke: #000000; stroke-width: 0.6"/>
      </g>
     </g>
    </g>
    <g id="text_29">
     <text style="font-size: 10.3px; font-family: 'DejaVu Sans', 'Liberation Sans', sans-serif; text-anchor: middle" x="152.116364" y="329.24395" transform="rotate(-0 152.116364 329.24395)">t [s]</text>
    </g>
   </g>
   <g id="matplotlib.axis_8">
    <g id="ytick_26">
     <g id="line2d_72">
      <path d="M 72.392727 283.203223 L 231.84 283.203223" clip-path="url(#p05bd576114)" style="fill: none; stroke: #b0b0b0; stroke-linecap: square"/>
     </g>
     <g id="line2d_73">
      <g>
       <path d="M 0 0 L -3.5 0" transform="translate(72.392727 283.203223)" style="stroke: #000000; stroke-width: 0.8; stroke: #000000; stroke-width: 0.8"/>
      </g>
     </g>
     <g id="text_30">
      <text style="font-size: 10.3px; font-family: 'DejaVu Sans', 'Liberation Sans', sans-serif; text-anchor: end" x="65.392727" y="287.116418" transform="rotate(-0 65.392727 287.116418)">0.002</text>
     </g>
    </g>
    <g id="ytick_27">
     <g id="line2d_74">
      <path d="M 72.392727 253.514876 L 231.84 253.514876" clip-path="url(#p05bd576114)" style="fill: none; stroke: #b0b0b0; stroke-linecap: square"/>
     </g>
     <g id="line2d_75">
      <g>
       <path d="M 0 0 L -3.5 0" transform="translate(72.392727 253.514876)" style="stroke: #000000; stroke-width: 0.8; stroke: #000000; stroke-width: 0.8"/>
      </g>
     </g>
     <g id="text_31">
      <text style="font-size: 10.3px; font-family: 'DejaVu Sans', 'Liberation Sans', sans-serif; text-anchor: end" x="65.392727" y="257.428071" transform="rotate(-0 65.392727 257.428071)">0.004</text>
     </g>
    </g>
    <g id="ytick_28">
     <g id="line2d_76">
      <path d="M 72.392727 223.826529 L 231.84 223.826529" clip-path="url(#p05bd576114)" style="fill: none; stroke: #b0b0b0; stroke-linecap: square"/>
     </g>
     <g id="line2d_77">
      <g>
       <path d="M 0 0 L -3.5 0" transform="translate(72.392727 223.826529)" style="stroke: #000000; stroke-width: 0.8; stroke: #000000; stroke-width: 0.8"/>
      </g>
     </g>
     <g id="text_32">
      <text style="font-size: 10.3px; font-family: 'DejaVu Sans', 'Liberation Sans', sans-serif; text-anchor: end" x="65.392727" y="227.739724" transform="rotate(-0 65.392727 227.739724)">0.006</text>
     </g>
    </g>
    <g id="ytick_29">
     <g id="line2d_78">
      <path d="M 72.392727 194.138182 L 231.84 194.138182" clip-path="url(#p05bd576114)" style="fill: none; stroke: #b0b0b0; stroke-linecap: square"/>
     </g>
     <g id="line2d_79">
      <g>
       <path d="M 0 0 L -3.5 0" transform="translate(72.392727 194.138182)" style="stroke: #000000; stroke-width: 0.8; stroke: #000000; stroke-width: 0.8"/>
      </g>
     </g>
     <g id="text_33">
      <text style="font-size: 10.3px; font-family: 'DejaVu Sans', 'Liberation Sans', sans-serif; text-anchor: end" x="65.392727" y="198.051377" transform="rotate(-0 65.392727 198.051377)">0.008</text>
     </g>
    </g>
    <g id="text_34">
     <g transform="translate(29.742759 264.944136) rotate(-90)">
      <text xml:space="preserve"><tspan x="0 11.96" y="-0.406" style="font-style: oblique; font-size: 10.3px; font-family: 'DejaVu Sans', 'Liberation Sans', sans-serif">Rη</tspan><tspan x="7.122" y="1.234" style="font-size: 7.21px; font-family: 'DejaVu Sans', 'Liberation Sans', sans-serif">0</tspan><tspan x="18.457 21.715 25.714 33.546" y="-0.406" style="font-size: 10.3px; font-family: 'DejaVu Sans', 'Liberation Sans', sans-serif"> [Ω]</tspan></text>
     </g>
    </g>
   </g>
   <g id="line2d_80">
    <g clip-path="url(#p05bd576114)">
     <path d="M 0 1.95 C 0.517146 1.95 1.013181 1.744536 1.378858 1.378858 C 1.744536 1.013181 1.95 0.517146 1.95 0 C 1.95 -0.517146 1.744536 -1.013181 1.378858 -1.378858 C 1.013181 -1.744536 0.517146 -1.95 0 -1.95 C -0.517146 -1.95 -1.013181 -1.744536 -1.378858 -1.378858 C -1.744536 -1.013181 -1.95 -0.517146 -1.95 0 C -1.95 0.517146 -1.744536 1.013181 -1.378858 1.378858 C -1.013181 1.744536 -0.517146 1.95 0 1.95 z" transform="translate(80.003132 200.552727)" style="stroke: #000000; stroke: #000000"/>
     <path d="M 0 1.95 C 0.517146 1.95 1.013181 1.744536 1.378858 1.378858 C 1.744536 1.013181 1.95 0.517146 1.95 0 C 1.95 -0.517146 1.744536 -1.013181 1.378858 -1.378858 C 1.013181 -1.744536 0.517146 -1.95 0 -1.95 C -0.517146 -1.95 -1.013181 -1.744536 -1.378858 -1.378858 C -1.744536 -1.013181 -1.95 -0.517146 -1.95 0 C -1.95 0.517146 -1.744536 1.013181 -1.378858 1.378858 C -1.013181 1.744536 -0.517146 1.95 0 1.95 z" transform="translate(102.046023 211.549091)" style="stroke: #000000; stroke: #000000"/>
     <path d="M 0 1.95 C 0.517146 1.95 1.013181 1.744536 1.378858 1.378858 C 1.744536 1.013181 1.95 0.517146 1.95 0 C 1.95 -0.517146 1.744536 -1.013181 1.378858 -1.378858 C 1.013181 -1.744536 0.517146 -1.95 0 -1.95 C -0.517146 -1.95 -1.013181 -1.744536 -1.378858 -1.378858 C -1.744536 -1.013181 -1.95 -0.517146 -1.95 0 C -1.95 0.517146 -1.744536 1.013181 -1.378858 1.378858 C -1.013181 1.744536 -0.517146 1.95 0 1.95 z" transform="translate(116.565305 220.189091)" style="stroke: #000000; stroke: #000000"/>
     <path d="M 0 1.95 C 0.517146 1.95 1.013181 1.744536 1.378858 1.378858 C 1.744536 1.013181 1.95 0.517146 1.95 0 C 1.95 -0.517146 1.744536 -1.013181 1.378858 -1.378858 C 1.013181 -1.744536 0.517146 -1.95 0 -1.95 C -0.517146 -1.95 -1.013181 -1.744536 -1.378858 -1.378858 C -1.744536 -1.013181 -1.95 -0.517146 -1.95 0 C -1.95 0.517146 -1.744536 1.013181 -1.378858 1.378858 C -1.013181 1.744536 -0.517146 1.95 0 1.95 z" transform="translate(127.409899 229.876364)" style="stroke: #000000; stroke: #000000"/>
     <path d="M 0 1.95 C 0.517146 1.95 1.013181 1.744536 1.378858 1.378858 C 1.744536 1.013181 1.95 0.517146 1.95 0 C 1.95 -0.517146 1.744536 -1.013181 1.378858 -1.378858 C 1.013181 -1.744536 0.517146 -1.95 0 -1.95 C -0.517146 -1.95 -1.013181 -1.744536 -1.378858 -1.378858 C -1.744536 -1.013181 -1.95 -0.517146 -1.95 0 C -1.95 0.517146 -1.744536 1.013181 -1.378858 1.378858 C -1.013181 1.744536 -0.517146 1.95 0 1.95 z" transform="translate(136.069141 237.6)" style="stroke: #000000; stroke: #000000"/>
     <path d="M 0 1.95 C 0.517146 1.95 1.013181 1.744536 1.378858 1.378858 C 1.744536 1.013181 1.95 0.517146 1.95 0 C 1.95 -0.517146 1.744536 -1.013181 1.378858 -1.378858 C 1.013181 -1.744536 0.517146 -1.95 0 -1.95 C -0.517146 -1.95 -1.013181 -1.744536 -1.378858 -1.378858 C -1.744536 -1.013181 -1.95 -0.517146 -1.95 0 C -1.95 0.517146 -1.744536 1.013181 -1.378858 1.378858 C -1.013181 1.744536 -0.517146 1.95 0 1.95 z" transform="translate(146.475645 246.370909)" style="stroke: #000000; stroke: #000000"/>
     <path d="M 0 1.95 C 0.517146 1.95 1.013181 1.744536 1.378858 1.378858 C 1.744536 1.013181 1.95 0.517146 1.95 0 C 1.95 -0.517146 1.744536 -1.013181 1.378858 -1.378858 C 1.013181 -1.744536 0.517146 -1.95 0 -1.95 C -0.517146 -1.95 -1.013181 -1.744536 -1.378858 -1.378858 C -1.744536 -1.013181 -1.95 -0.517146 -1.95 0 C -1.95 0.517146 -1.744536 1.013181 -1.378858 1.378858 C -1.013181 1.744536 -0.517146 1.95 0 1.95 z" transform="translate(157.32024 254.88)" style="stroke: #000000; stroke: #000000"/>
     <path d="M 0 1.95 C 0.517146 1.95 1.013181 1.744536 1.378858 1.378858 C 1.744536 1.013181 1.95 0.517146 1.95 0 C 1.95 -0.517146 1.744536 -1.013181 1.378858 -1.378858 C 1.013181 -1.744536 0.517146 -1.95 0 -1.95 C -0.517146 -1.95 -1.013181 -1.744536 -1.378858 -1.378858 C -1.744536 -1.013181 -1.95 -0.517146 -1.95 0 C -1.95 0.517146 -1.744536 1.013181 -1.378858 1.378858 C -1.013181 1.744536 -0.517146 1.95 0 1.95 z" transform="translate(165.979481 260.901818)" style="stroke: #000000; stroke: #000000"/>
     <path d="M 0 1.95 C 0.517146 1.95 1.013181 1.744536 1.378858 1.378858 C 1.744536 1.013181 1.95 0.517146 1.95 0 C 1.95 -0.517146 1.744536 -1.013181 1.378858 -1.378858 C 1.013181 -1.744536 0.517146 -1.95 0 -1.95 C -0.517146 -1.95 -1.013181 -1.744536 -1.378858 -1.378858 C -1.744536 -1.013181 -1.95 -0.517146 -1.95 0 C -1.95 0.517146 -1.744536 1.013181 -1.378858 1.378858 C -1.013181 1.744536 -0.517146 1.95 0 1.95 z" transform="translate(174.816667 267.054545)" style="stroke: #000000; stroke: #000000"/>
     <path d="M 0 1.95 C 0.517146 1.95 1.013181 1.744536 1.378858 1.378858 C 1.744536 1.013181 1.95 0.517146 1.95 0 C 1.95 -0.517146 1.744536 -1.013181 1.378858 -1.378858 C 1.013181 -1.744536 0.517146 -1.95 0 -1.95 C -0.517146 -1.95 -1.013181 -1.744536 -1.378858 -1.378858 C -1.744536 -1.013181 -1.95 -0.517146 -1.95 0 C -1.95 0.517146 -1.744536 1.013181 -1.378858 1.378858 C -1.013181 1.744536 -0.517146 1.95 0 1.95 z" transform="translate(184.764109 273.730909)" style="stroke: #000000; stroke: #000000"/>
     <path d="M 0 1.95 C 0.517146 1.95 1.013181 1.744536 1.378858 1.378858 C 1.744536 1.013181 1.95 0.517146 1.95 0 C 1.95 -0.517146 1.744536 -1.013181 1.378858 -1.378858 C 1.013181 -1.744536 0.517146 -1.95 0 -1.95 C -0.517146 -1.95 -1.013181 -1.744536 -1.378858 -1.378858 C -1.744536 -1.013181 -1.95 -0.517146 -1.95 0 C -1.95 0.517146 -1.744536 1.013181 -1.378858 1.378858 C -1.013181 1.744536 -0.517146 1.95 0 1.95 z" transform="translate(194.897789 279.490909)" style="stroke: #000000; stroke: #000000"/>
     <path d="M 0 1.95 C 0.517146 1.95 1.013181 1.744536 1.378858 1.378858 C 1.744536 1.013181 1.95 0.517146 1.95 0 C 1.95 -0.517146 1.744536 -1.013181 1.378858 -1.378858 C 1.013181 -1.744536 0.517146 -1.95 0 -1.95 C -0.517146 -1.95 -1.013181 -1.744536 -1.378858 -1.378858 C -1.744536 -1.013181 -1.95 -0.517146 -1.95 0 C -1.95 0.517146 -1.744536 1.013181 -1.378858 1.378858 C -1.013181 1.744536 -0.517146 1.95 0 1.95 z" transform="translate(204.727008 284.596364)" style="stroke: #000000; stroke: #000000"/>
     <path d="M 0 1.95 C 0.517146 1.95 1.013181 1.744536 1.378858 1.378858 C 1.744536 1.013181 1.95 0.517146 1.95 0 C 1.95 -0.517146 1.744536 -1.013181 1.378858 -1.378858 C 1.013181 -1.744536 0.517146 -1.95 0 -1.95 C -0.517146 -1.95 -1.013181 -1.744536 -1.378858 -1.378858 C -1.744536 -1.013181 -1.95 -0.517146 -1.95 0 C -1.95 0.517146 -1.744536 1.013181 -1.378858 1.378858 C -1.013181 1.744536 -0.517146 1.95 0 1.95 z" transform="translate(214.674449 289.178182)" style="stroke: #000000; stroke: #000000"/>
     <path d="M 0 1.95 C 0.517146 1.95 1.013181 1.744536 1.378858 1.378858 C 1.744536 1.013181 1.95 0.517146 1.95 0 C 1.95 -0.517146 1.744536 -1.013181 1.378858 -1.378858 C 1.013181 -1.744536 0.517146 -1.95 0 -1.95 C -0.517146 -1.95 -1.013181 -1.744536 -1.378858 -1.378858 C -1.744536 -1.013181 -1.95 -0.517146 -1.95 0 C -1.95 0.517146 -1.744536 1.013181 -1.378858 1.378858 C -1.013181 1.744536 -0.517146 1.95 0 1.95 z" transform="translate(224.80813 293.76)" style="stroke: #000000; stroke: #000000"/>
    </g>
   </g>
   <g id="line2d_81">
    <path d="M 80.003132 200.266556 L 83.641448 201.537665 L 87.279765 203.067861 L 90.918081 204.832416 L 95.284061 207.225797 L 99.650041 209.883087 L 104.743684 213.266998 L 110.56499 217.440106 L 117.11396 222.431928 L 125.84592 229.408638 L 154.224789 252.370807 L 162.229085 258.435655 L 169.505718 263.666776 L 176.054688 268.115855 L 182.603658 272.304976 L 189.152628 276.230055 L 195.701597 279.896786 L 202.250567 283.320637 L 209.5272 286.871094 L 217.531497 290.525211 L 224.80813 293.688512 L 224.80813 293.688512" clip-path="url(#p05bd576114)" style="fill: none; stroke: #000000; stroke-width: 2; stroke-linecap: square"/>
   </g>
   <g id="patch_21">
    <path d="M 72.392727 297.949091 L 72.392727 194.138182" style="fill: none; stroke: #000000; stroke-linejoin: miter; stroke-linecap: square"/>
   </g>
   <g id="patch_22">
    <path d="M 231.84 297.949091 L 231.84 194.138182" style="fill: none; stroke: #000000; stroke-linejoin: miter; stroke-linecap: square"/>
   </g>
   <g id="patch_23">
    <path d="M 72.392727 297.949091 L 231.84 297.949091" style="fill: none; stroke: #000000; stroke-linejoin: miter; stroke-linecap: square"/>
   </g>
   <g id="patch_24">
    <path d="M 72.392727 194.138182 L 231.84 194.138182" style="fill: none; stroke: #000000; stroke-linejoin: miter; stroke-linecap: square"/>
   </g>
   <g id="legend_4">
    <g id="patch_25">
     <path d="M 144.891906 232.615119 L 224.63 232.615119 Q 226.69 232.615119 226.69 230.555119 L 226.69 201.348182 Q 226.69 199.288182 224.63 199.288182 L 144.891906 199.288182 Q 142.831906 199.288182 142.831906 201.348182 L 142.831906 230.555119 Q 142.831906 232.615119 144.891906 232.615119 z" style="fill: #ffffff; opacity: 0.8; stroke: #cccccc; stroke-linejoin: miter"/>
    </g>
    <g id="line2d_82">
     <g>
      <path d="M 0 1.95 C 0.517146 1.95 1.013181 1.744536 1.378858 1.378858 C 1.744536 1.013181 1.95 0.517146 1.95 0 C 1.95 -0.517146 1.744536 -1.013181 1.378858 -1.378858 C 1.013181 -1.744536 0.517146 -1.95 0 -1.95 C -0.517146 -1.95 -1.013181 -1.744536 -1.378858 -1.378858 C -1.744536 -1.013181 -1.95 -0.517146 -1.95 0 C -1.95 0.517146 -1.744536 1.013181 -1.378858 1.378858 C -1.013181 1.744536 -0.517146 1.95 0 1.95 z" transform="translate(157.251906 207.629572)" style="stroke: #000000; stroke: #000000"/>
     </g>
    </g>
    <g id="text_35">
     <text style="font-size: 10.3px; font-family: 'DejaVu Sans', 'Liberation Sans', sans-serif; text-anchor: start" x="175.791906" y="211.234572" transform="rotate(-0 175.791906 211.234572)">data</text>
    </g>
    <g id="line2d_83">
     <path d="M 146.951906 222.748041 L 157.251906 222.748041 L 167.551906 222.748041" style="fill: none; stroke: #000000; stroke-width: 2; stroke-linecap: square"/>
    </g>
    <g id="text_36">
     <text style="font-size: 10.3px; font-family: 'DejaVu Sans', 'Liberation Sans', sans-serif; text-anchor: start" x="175.791906" y="226.353041" transform="rotate(-0 175.791906 226.353041)">response</text>
    </g>
   </g>
  </g>
  <g id="axes_5">
   <g id="patch_26">
    <path d="M 294.938182 297.949091 L 454.385455 297.949091 L 454.385455 194.138182 L 294.938182 194.138182 z" style="fill: #ffffff"/>
   </g>
   <g id="matplotlib.axis_9">
    <g id="xtick_24">
     <g id="line2d_84">
      <path d="M 354.501818 297.949091 L 354.501818 194.138182" clip-path="url(#p1e324e6f9f)" style="fill: none; stroke: #b0b0b0; stroke-linecap: square"/>
     </g>
     <g id="line2d_85">
      <g>
       <path d="M 0 0 L 0 3.5" transform="translate(354.501818 297.949091)" style="stroke: #000000; stroke-width: 0.8; stroke: #000000; stroke-width: 0.8"/>
      </g>
     </g>
     <g id="text_37">
      <g transform="translate(342.399318 314.275482)">
       <text xml:space="preserve"><tspan x="0 6.521" y="-0.064" style="font-size: 10.3px; font-family: 'DejaVu Sans', 'Liberation Sans', sans-serif">10</tspan><tspan x="13.138 19.15" y="-3.892" style="font-size: 7.21px; font-family: 'DejaVu Sans', 'Liberation Sans', sans-serif">−1</tspan></text>
      </g>
     </g>
    </g>
    <g id="xtick_25">
     <g id="line2d_86">
      <path d="M 453.861818 297.949091 L 453.861818 194.138182" clip-path="url(#p1e324e6f9f)" style="fill: none; stroke: #b0b0b0; stroke-linecap: square"/>
     </g>
     <g id="line2d_87">
      <g>
       <path d="M 0 0 L 0 3.5" transform="translate(453.861818 297.949091)" style="stroke: #000000; stroke-width: 0.8; stroke: #000000; stroke-width: 0.8"/>
      </g>
     </g>
     <g id="text_38">
      <g transform="translate(444.797818 314.275482)">
       <text xml:space="preserve"><tspan x="0 6.521" y="-0.977" style="font-size: 10.3px; font-family: 'DejaVu Sans', 'Liberation Sans', sans-serif">10</tspan><tspan x="13.138" y="-4.805" style="font-size: 7.21px; font-family: 'DejaVu Sans', 'Liberation Sans', sans-serif">0</tspan></text>
      </g>
     </g>
    </g>
    <g id="xtick_26">
     <g id="line2d_88">
      <g>
       <path d="M 0 0 L 0 2" transform="translate(302.548586 297.949091)" style="stroke: #000000; stroke-width: 0.6; stroke: #000000; stroke-width: 0.6"/>
      </g>
     </g>
    </g>
    <g id="xtick_27">
     <g id="line2d_89">
      <g>
       <path d="M 0 0 L 0 2" transform="translate(314.962499 297.949091)" style="stroke: #000000; stroke-width: 0.6; stroke: #000000; stroke-width: 0.6"/>
      </g>
     </g>
    </g>
    <g id="xtick_28">
     <g id="line2d_90">
      <g>
       <path d="M 0 0 L 0 2" transform="translate(324.591478 297.949091)" style="stroke: #000000; stroke-width: 0.6; stroke: #000000; stroke-width: 0.6"/>
      </g>
     </g>
    </g>
    <g id="xtick_29">
     <g id="line2d_91">
      <g>
       <path d="M 0 0 L 0 2" transform="translate(332.458926 297.949091)" style="stroke: #000000; stroke-width: 0.6; stroke: #000000; stroke-width: 0.6"/>
      </g>
     </g>
    </g>
    <g id="xtick_30">
     <g id="line2d_92">
      <g>
       <path d="M 0 0 L 0 2" transform="translate(339.110759 297.949091)" style="stroke: #000000; stroke-width: 0.6; stroke: #000000; stroke-width: 0.6"/>
      </g>
     </g>
    </g>
    <g id="xtick_31">
     <g id="line2d_93">
      <g>
       <path d="M 0 0 L 0 2" transform="translate(344.872839 297.949091)" style="stroke: #000000; stroke-width: 0.6; stroke: #000000; stroke-width: 0.6"/>
      </g>
     </g>
    </g>
    <g id="xtick_32">
     <g id="line2d_94">
      <g>
       <path d="M 0 0 L 0 2" transform="translate(349.955354 297.949091)" style="stroke: #000000; stroke-width: 0.6; stroke: #000000; stroke-width: 0.6"/>
      </g>
     </g>
    </g>
    <g id="xtick_33">
     <g id="line2d_95">
      <g>
       <path d="M 0 0 L 0 2" transform="translate(384.412159 297.949091)" style="stroke: #000000; stroke-width: 0.6; stroke: #000000; stroke-width: 0.6"/>
      </g>
     </g>
    </g>
    <g id="xtick_34">
     <g id="line2d_96">
      <g>
       <path d="M 0 0 L 0 2" transform="translate(401.908586 297.949091)" style="stroke: #000000; stroke-width: 0.6; stroke: #000000; stroke-width: 0.6"/>
      </g>
     </g>
    </g>
    <g id="xtick_35">
     <g id="line2d_97">
      <g>
       <path d="M 0 0 L 0 2" transform="translate(414.322499 297.949091)" style="stroke: #000000; stroke-width: 0.6; stroke: #000000; stroke-width: 0.6"/>
      </g>
     </g>
    </g>
    <g id="xtick_36">
     <g id="line2d_98">
      <g>
       <path d="M 0 0 L 0 2" transform="translate(423.951478 297.949091)" style="stroke: #000000; stroke-width: 0.6; stroke: #000000; stroke-width: 0.6"/>
      </g>
     </g>
    </g>
    <g id="xtick_37">
     <g id="line2d_99">
      <g>
       <path d="M 0 0 L 0 2" transform="translate(431.818926 297.949091)" style="stroke: #000000; stroke-width: 0.6; stroke: #000000; stroke-width: 0.6"/>
      </g>
     </g>
    </g>
    <g id="xtick_38">
     <g id="line2d_100">
      <g>
       <path d="M 0 0 L 0 2" transform="translate(438.470759 297.949091)" style="stroke: #000000; stroke-width: 0.6; stroke: #000000; stroke-width: 0.6"/>
      </g>
     </g>
    </g>
    <g id="xtick_39">
     <g id="line2d_101">
      <g>
       <path d="M 0 0 L 0 2" transform="translate(444.232839 297.949091)" style="stroke: #000000; stroke-width: 0.6; stroke: #000000; stroke-width: 0.6"/>
      </g>
     </g>
    </g>
    <g id="xtick_40">
     <g id="line2d_102">
      <g>
       <path d="M 0 0 L 0 2" transform="translate(449.315354 297.949091)" style="stroke: #000000; stroke-width: 0.6; stroke: #000000; stroke-width: 0.6"/>
      </g>
     </g>
    </g>
    <g id="text_39">
     <text style="font-size: 10.3px; font-family: 'DejaVu Sans', 'Liberation Sans', sans-serif; text-anchor: middle" x="374.661818" y="329.24395" transform="rotate(-0 374.661818 329.24395)">t [s]</text>
    </g>
   </g>
   <g id="matplotlib.axis_10">
    <g id="ytick_30">
     <g id="line2d_103">
      <path d="M 294.938182 285.787636 L 454.385455 285.787636" clip-path="url(#p1e324e6f9f)" style="fill: none; stroke: #b0b0b0; stroke-linecap: square"/>
     </g>
     <g id="line2d_104">
      <g>
       <path d="M 0 0 L -3.5 0" transform="translate(294.938182 285.787636)" style="stroke: #000000; stroke-width: 0.8; stroke: #000000; stroke-width: 0.8"/>
      </g>
     </g>
     <g id="text_40">
      <text style="font-size: 10.3px; font-family: 'DejaVu Sans', 'Liberation Sans', sans-serif; text-anchor: end" x="287.938182" y="289.700832" transform="rotate(-0 287.938182 289.700832)">0.0001</text>
     </g>
    </g>
    <g id="ytick_31">
     <g id="line2d_105">
      <path d="M 294.938182 259.841455 L 454.385455 259.841455" clip-path="url(#p1e324e6f9f)" style="fill: none; stroke: #b0b0b0; stroke-linecap: square"/>
     </g>
     <g id="line2d_106">
      <g>
       <path d="M 0 0 L -3.5 0" transform="translate(294.938182 259.841455)" style="stroke: #000000; stroke-width: 0.8; stroke: #000000; stroke-width: 0.8"/>
      </g>
     </g>
     <g id="text_41">
      <text style="font-size: 10.3px; font-family: 'DejaVu Sans', 'Liberation Sans', sans-serif; text-anchor: end" x="287.938182" y="263.75465" transform="rotate(-0 287.938182 263.75465)">0.0002</text>
     </g>
    </g>
    <g id="ytick_32">
     <g id="line2d_107">
      <path d="M 294.938182 233.895273 L 454.385455 233.895273" clip-path="url(#p1e324e6f9f)" style="fill: none; stroke: #b0b0b0; stroke-linecap: square"/>
     </g>
     <g id="line2d_108">
      <g>
       <path d="M 0 0 L -3.5 0" transform="translate(294.938182 233.895273)" style="stroke: #000000; stroke-width: 0.8; stroke: #000000; stroke-width: 0.8"/>
      </g>
     </g>
     <g id="text_42">
      <text style="font-size: 10.3px; font-family: 'DejaVu Sans', 'Liberation Sans', sans-serif; text-anchor: end" x="287.938182" y="237.808468" transform="rotate(-0 287.938182 237.808468)">0.0003</text>
     </g>
    </g>
    <g id="ytick_33">
     <g id="line2d_109">
      <path d="M 294.938182 207.949091 L 454.385455 207.949091" clip-path="url(#p1e324e6f9f)" style="fill: none; stroke: #b0b0b0; stroke-linecap: square"/>
     </g>
     <g id="line2d_110">
      <g>
       <path d="M 0 0 L -3.5 0" transform="translate(294.938182 207.949091)" style="stroke: #000000; stroke-width: 0.8; stroke: #000000; stroke-width: 0.8"/>
      </g>
     </g>
     <g id="text_43">
      <text style="font-size: 10.3px; font-family: 'DejaVu Sans', 'Liberation Sans', sans-serif; text-anchor: end" x="287.938182" y="211.862286" transform="rotate(-0 287.938182 211.862286)">0.0004</text>
     </g>
    </g>
   </g>
   <g id="line2d_111">
    <g clip-path="url(#p1e324e6f9f)">
     <path d="M 0 1.95 C 0.517146 1.95 1.013181 1.744536 1.378858 1.378858 C 1.744536 1.013181 1.95 0.517146 1.95 0 C 1.95 -0.517146 1.744536 -1.013181 1.378858 -1.378858 C 1.013181 -1.744536 0.517146 -1.95 0 -1.95 C -0.517146 -1.95 -1.013181 -1.744536 -1.378858 -1.378858 C -1.744536 -1.013181 -1.95 -0.517146 -1.95 0 C -1.95 0.517146 -1.744536 1.013181 -1.378858 1.378858 C -1.013181 1.744536 -0.517146 1.95 0 1.95 z" transform="translate(302.548586 199.374545)" style="stroke: #000000; stroke: #000000"/>
     <path d="M 0 1.95 C 0.517146 1.95 1.013181 1.744536 1.378858 1.378858 C 1.744536 1.013181 1.95 0.517146 1.95 0 C 1.95 -0.517146 1.744536 -1.013181 1.378858 -1.378858 C 1.013181 -1.744536 0.517146 -1.95 0 -1.95 C -0.517146 -1.95 -1.013181 -1.744536 -1.378858 -1.378858 C -1.744536 -1.013181 -1.95 -0.517146 -1.95 0 C -1.95 0.517146 -1.744536 1.013181 -1.378858 1.378858 C -1.013181 1.744536 -0.517146 1.95 0 1.95 z" transform="translate(324.591478 219.796364)" style="stroke: #000000; stroke: #000000"/>
     <path d="M 0 1.95 C 0.517146 1.95 1.013181 1.744536 1.378858 1.378858 C 1.744536 1.013181 1.95 0.517146 1.95 0 C 1.95 -0.517146 1.744536 -1.013181 1.378858 -1.378858 C 1.013181 -1.744536 0.517146 -1.95 0 -1.95 C -0.517146 -1.95 -1.013181 -1.744536 -1.378858 -1.378858 C -1.744536 -1.013181 -1.95 -0.517146 -1.95 0 C -1.95 0.517146 -1.744536 1.013181 -1.378858 1.378858 C -1.013181 1.744536 -0.517146 1.95 0 1.95 z" transform="translate(339.110759 227.389091)" style="stroke: #000000; stroke: #000000"/>
     <path d="M 0 1.95 C 0.517146 1.95 1.013181 1.744536 1.378858 1.378858 C 1.744536 1.013181 1.95 0.517146 1.95 0 C 1.95 -0.517146 1.744536 -1.013181 1.378858 -1.378858 C 1.013181 -1.744536 0.517146 -1.95 0 -1.95 C -0.517146 -1.95 -1.013181 -1.744536 -1.378858 -1.378858 C -1.744536 -1.013181 -1.95 -0.517146 -1.95 0 C -1.95 0.517146 -1.744536 1.013181 -1.378858 1.378858 C -1.013181 1.744536 -0.517146 1.95 0 1.95 z" transform="translate(349.955354 237.6)" style="stroke: #000000; stroke: #000000"/>
     <path d="M 0 1.95 C 0.517146 1.95 1.013181 1.744536 1.378858 1.378858 C 1.744536 1.013181 1.95 0.517146 1.95 0 C 1.95 -0.517146 1.744536 -1.013181 1.378858 -1.378858 C 1.013181 -1.744536 0.517146 -1.95 0 -1.95 C -0.517146 -1.95 -1.013181 -1.744536 -1.378858 -1.378858 C -1.744536 -1.013181 -1.95 -0.517146 -1.95 0 C -1.95 0.517146 -1.744536 1.013181 -1.378858 1.378858 C -1.013181 1.744536 -0.517146 1.95 0 1.95 z" transform="translate(358.614595 246.763636)" style="stroke: #000000; stroke: #000000"/>
     <path d="M 0 1.95 C 0.517146 1.95 1.013181 1.744536 1.378858 1.378858 C 1.744536 1.013181 1.95 0.517146 1.95 0 C 1.95 -0.517146 1.744536 -1.013181 1.378858 -1.378858 C 1.013181 -1.744536 0.517146 -1.95 0 -1.95 C -0.517146 -1.95 -1.013181 -1.744536 -1.378858 -1.378858 C -1.744536 -1.013181 -1.95 -0.517146 -1.95 0 C -1.95 0.517146 -1.744536 1.013181 -1.378858 1.378858 C -1.013181 1.744536 -0.517146 1.95 0 1.95 z" transform="translate(369.0211 259.2)" style="stroke: #000000; stroke: #000000"/>
     <path d="M 0 1.95 C 0.517146 1.95 1.013181 1.744536 1.378858 1.378858 C 1.744536 1.013181 1.95 0.517146 1.95 0 C 1.95 -0.517146 1.744536 -1.013181 1.378858 -1.378858 C 1.013181 -1.744536 0.517146 -1.95 0 -1.95 C -0.517146 -1.95 -1.013181 -1.744536 -1.378858 -1.378858 C -1.744536 -1.013181 -1.95 -0.517146 -1.95 0 C -1.95 0.517146 -1.744536 1.013181 -1.378858 1.378858 C -1.013181 1.744536 -0.517146 1.95 0 1.95 z" transform="translate(379.865694 262.08)" style="stroke: #000000; stroke: #000000"/>
     <path d="M 0 1.95 C 0.517146 1.95 1.013181 1.744536 1.378858 1.378858 C 1.744536 1.013181 1.95 0.517146 1.95 0 C 1.95 -0.517146 1.744536 -1.013181 1.378858 -1.378858 C 1.013181 -1.744536 0.517146 -1.95 0 -1.95 C -0.517146 -1.95 -1.013181 -1.744536 -1.378858 -1.378858 C -1.744536 -1.013181 -1.95 -0.517146 -1.95 0 C -1.95 0.517146 -1.744536 1.013181 -1.378858 1.378858 C -1.013181 1.744536 -0.517146 1.95 0 1.95 z" transform="translate(388.524936 268.756364)" style="stroke: #000000; stroke: #000000"/>
     <path d="M 0 1.95 C 0.517146 1.95 1.013181 1.744536 1.378858 1.378858 C 1.744536 1.013181 1.95 0.517146 1.95 0 C 1.95 -0.517146 1.744536 -1.013181 1.378858 -1.378858 C 1.013181 -1.744536 0.517146 -1.95 0 -1.95 C -0.517146 -1.95 -1.013181 -1.744536 -1.378858 -1.378858 C -1.744536 -1.013181 -1.95 -0.517146 -1.95 0 C -1.95 0.517146 -1.744536 1.013181 -1.378858 1.378858 C -1.013181 1.744536 -0.517146 1.95 0 1.95 z" transform="translate(397.362122 273.338182)" style="stroke: #000000; stroke: #000000"/>
     <path d="M 0 1.95 C 0.517146 1.95 1.013181 1.744536 1.378858 1.378858 C 1.744536 1.013181 1.95 0.517146 1.95 0 C 1.95 -0.517146 1.744536 -1.013181 1.378858 -1.378858 C 1.013181 -1.744536 0.517146 -1.95 0 -1.95 C -0.517146 -1.95 -1.013181 -1.744536 -1.378858 -1.378858 C -1.744536 -1.013181 -1.95 -0.517146 -1.95 0 C -1.95 0.517146 -1.744536 1.013181 -1.378858 1.378858 C -1.013181 1.744536 -0.517146 1.95 0 1.95 z" transform="translate(407.309563 272.945455)" style="stroke: #000000; stroke: #000000"/>
     <path d="M 0 1.95 C 0.517146 1.95 1.013181 1.744536 1.378858 1.378858 C 1.744536 1.013181 1.95 0.517146 1.95 0 C 1.95 -0.517146 1.744536 -1.013181 1.378858 -1.378858 C 1.013181 -1.744536 0.517146 -1.95 0 -1.95 C -0.517146 -1.95 -1.013181 -1.744536 -1.378858 -1.378858 C -1.744536 -1.013181 -1.95 -0.517146 -1.95 0 C -1.95 0.517146 -1.744536 1.013181 -1.378858 1.378858 C -1.013181 1.744536 -0.517146 1.95 0 1.95 z" transform="translate(417.443244 282.109091)" style="stroke: #000000; stroke: #000000"/>
     <path d="M 0 1.95 C 0.517146 1.95 1.013181 1.744536 1.378858 1.378858 C 1.744536 1.013181 1.95 0.517146 1.95 0 C 1.95 -0.517146 1.744536 -1.013181 1.378858 -1.378858 C 1.013181 -1.744536 0.517146 -1.95 0 -1.95 C -0.517146 -1.95 -1.013181 -1.744536 -1.378858 -1.378858 C -1.744536 -1.013181 -1.95 -0.517146 -1.95 0 C -1.95 0.517146 -1.744536 1.013181 -1.378858 1.378858 C -1.013181 1.744536 -0.517146 1.95 0 1.95 z" transform="translate(427.272462 285.381818)" style="stroke: #000000; stroke: #000000"/>
     <path d="M 0 1.95 C 0.517146 1.95 1.013181 1.744536 1.378858 1.378858 C 1.744536 1.013181 1.95 0.517146 1.95 0 C 1.95 -0.517146 1.744536 -1.013181 1.378858 -1.378858 C 1.013181 -1.744536 0.517146 -1.95 0 -1.95 C -0.517146 -1.95 -1.013181 -1.744536 -1.378858 -1.378858 C -1.744536 -1.013181 -1.95 -0.517146 -1.95 0 C -1.95 0.517146 -1.744536 1.013181 -1.378858 1.378858 C -1.013181 1.744536 -0.517146 1.95 0 1.95 z" transform="translate(437.219904 289.178182)" style="stroke: #000000; stroke: #000000"/>
     <path d="M 0 1.95 C 0.517146 1.95 1.013181 1.744536 1.378858 1.378858 C 1.744536 1.013181 1.95 0.517146 1.95 0 C 1.95 -0.517146 1.744536 -1.013181 1.378858 -1.378858 C 1.013181 -1.744536 0.517146 -1.95 0 -1.95 C -0.517146 -1.95 -1.013181 -1.744536 -1.378858 -1.378858 C -1.744536 -1.013181 -1.95 -0.517146 -1.95 0 C -1.95 0.517146 -1.744536 1.013181 -1.378858 1.378858 C -1.013181 1.744536 -0.517146 1.95 0 1.95 z" transform="translate(447.353584 293.367273)" style="stroke: #000000; stroke: #000000"/>
    </g>
   </g>
   <g id="line2d_112">
    <path d="M 302.548586 198.921788 L 306.914566 202.19727 L 312.008209 206.29464 L 318.557179 211.889026 L 327.289139 219.696034 L 346.936048 237.377181 L 354.212681 243.585176 L 360.761651 248.892495 L 366.582957 253.348983 L 372.404264 257.536646 L 378.22557 261.442879 L 384.046877 265.064316 L 389.868183 268.406828 L 395.689489 271.485528 L 401.510796 274.324769 L 408.059766 277.27487 L 416.064062 280.618416 L 439.349288 290.140294 L 445.170594 292.892411 L 447.353584 294.006438 L 447.353584 294.006438" clip-path="url(#p1e324e6f9f)" style="fill: none; stroke: #000000; stroke-width: 2; stroke-linecap: square"/>
   </g>
   <g id="patch_27">
    <path d="M 294.938182 297.949091 L 294.938182 194.138182" style="fill: none; stroke: #000000; stroke-linejoin: miter; stroke-linecap: square"/>
   </g>
   <g id="patch_28">
    <path d="M 454.385455 297.949091 L 454.385455 194.138182" style="fill: none; stroke: #000000; stroke-linejoin: miter; stroke-linecap: square"/>
   </g>
   <g id="patch_29">
    <path d="M 294.938182 297.949091 L 454.385455 297.949091" style="fill: none; stroke: #000000; stroke-linejoin: miter; stroke-linecap: square"/>
   </g>
   <g id="patch_30">
    <path d="M 294.938182 194.138182 L 454.385455 194.138182" style="fill: none; stroke: #000000; stroke-linejoin: miter; stroke-linecap: square"/>
   </g>
   <g id="legend_5">
    <g id="patch_31">
     <path d="M 367.437361 232.615119 L 447.175455 232.615119 Q 449.235455 232.615119 449.235455 230.555119 L 449.235455 201.348182 Q 449.235455 199.288182 447.175455 199.288182 L 367.437361 199.288182 Q 365.377361 199.288182 365.377361 201.348182 L 365.377361 230.555119 Q 365.377361 232.615119 367.437361 232.615119 z" style="fill: #ffffff; opacity: 0.8; stroke: #cccccc; stroke-linejoin: miter"/>
    </g>
    <g id="line2d_113">
     <g>
      <path d="M 0 1.95 C 0.517146 1.95 1.013181 1.744536 1.378858 1.378858 C 1.744536 1.013181 1.95 0.517146 1.95 0 C 1.95 -0.517146 1.744536 -1.013181 1.378858 -1.378858 C 1.013181 -1.744536 0.517146 -1.95 0 -1.95 C -0.517146 -1.95 -1.013181 -1.744536 -1.378858 -1.378858 C -1.744536 -1.013181 -1.95 -0.517146 -1.95 0 C -1.95 0.517146 -1.744536 1.013181 -1.378858 1.378858 C -1.013181 1.744536 -0.517146 1.95 0 1.95 z" transform="translate(379.797361 207.629572)" style="stroke: #000000; stroke: #000000"/>
     </g>
    </g>
    <g id="text_44">
     <text style="font-size: 10.3px; font-family: 'DejaVu Sans', 'Liberation Sans', sans-serif; text-anchor: start" x="398.337361" y="211.234572" transform="rotate(-0 398.337361 211.234572)">data</text>
    </g>
    <g id="line2d_114">
     <path d="M 369.497361 222.748041 L 379.797361 222.748041 L 390.097361 222.748041" style="fill: none; stroke: #000000; stroke-width: 2; stroke-linecap: square"/>
    </g>
    <g id="text_45">
     <text style="font-size: 10.3px; font-family: 'DejaVu Sans', 'Liberation Sans', sans-serif; text-anchor: start" x="398.337361" y="226.353041" transform="rotate(-0 398.337361 226.353041)">response</text>
    </g>
   </g>
  </g>
  <g id="axes_6">
   <g id="patch_32">
    <path d="M 517.483636 297.949091 L 676.930909 297.949091 L 676.930909 194.138182 L 517.483636 194.138182 z" style="fill: #ffffff"/>
   </g>
   <g id="matplotlib.axis_11">
    <g id="xtick_41">
     <g id="line2d_115">
      <path d="M 577.047273 297.949091 L 577.047273 194.138182" clip-path="url(#p9fcfd8e012)" style="fill: none; stroke: #b0b0b0; stroke-linecap: square"/>
     </g>
     <g id="line2d_116">
      <g>
       <path d="M 0 0 L 0 3.5" transform="translate(577.047273 297.949091)" style="stroke: #000000; stroke-width: 0.8; stroke: #000000; stroke-width: 0.8"/>
      </g>
     </g>
     <g id="text_46">
      <g transform="translate(564.944773 314.275482)">
       <text xml:space="preserve"><tspan x="0 6.521" y="-0.064" style="font-size: 10.3px; font-family: 'DejaVu Sans', 'Liberation Sans', sans-serif">10</tspan><tspan x="13.138 19.15" y="-3.892" style="font-size: 7.21px; font-family: 'DejaVu Sans', 'Liberation Sans', sans-serif">−1</tspan></text>
      </g>
     </g>
    </g>
    <g id="xtick_42">
     <g id="line2d_117">
      <path d="M 676.407273 297.949091 L 676.407273 194.138182" clip-path="url(#p9fcfd8e012)" style="fill: none; stroke: #b0b0b0; stroke-linecap: square"/>
     </g>
     <g id="line2d_118">
      <g>
       <path d="M 0 0 L 0 3.5" transform="translate(676.407273 297.949091)" style="stroke: #000000; stroke-width: 0.8; stroke: #000000; stroke-width: 0.8"/>
      </g>
     </g>
     <g id="text_47">
      <g transform="translate(667.343273 314.275482)">
       <text xml:space="preserve"><tspan x="0 6.521" y="-0.977" style="font-size: 10.3px; font-family: 'DejaVu Sans', 'Liberation Sans', sans-serif">10</tspan><tspan x="13.138" y="-4.805" style="font-size: 7.21px; font-family: 'DejaVu Sans', 'Liberation Sans', sans-serif">0</tspan></text>
      </g>
     </g>
    </g>
    <g id="xtick_43">
     <g id="line2d_119">
      <g>
       <path d="M 0 0 L 0 2" transform="translate(525.094041 297.949091)" style="stroke: #000000; stroke-width: 0.6; stroke: #000000; stroke-width: 0.6"/>
      </g>
     </g>
    </g>
    <g id="xtick_44">
     <g id="line2d_120">
      <g>
       <path d="M 0 0 L 0 2" transform="translate(537.507953 297.949091)" style="stroke: #000000; stroke-width: 0.6; stroke: #000000; stroke-width: 0.6"/>
      </g>
     </g>
    </g>
    <g id="xtick_45">
     <g id="line2d_121">
      <g>
       <path d="M 0 0 L 0 2" transform="translate(547.136932 297.949091)" style="stroke: #000000; stroke-width: 0.6; stroke: #000000; stroke-width: 0.6"/>
      </g>
     </g>
    </g>
    <g id="xtick_46">
     <g id="line2d_122">
      <g>
       <path d="M 0 0 L 0 2" transform="translate(555.004381 297.949091)" style="stroke: #000000; stroke-width: 0.6; stroke: #000000; stroke-width: 0.6"/>
      </g>
     </g>
    </g>
    <g id="xtick_47">
     <g id="line2d_123">
      <g>
       <path d="M 0 0 L 0 2" transform="translate(561.656214 297.949091)" style="stroke: #000000; stroke-width: 0.6; stroke: #000000; stroke-width: 0.6"/>
      </g>
     </g>
    </g>
    <g id="xtick_48">
     <g id="line2d_124">
      <g>
       <path d="M 0 0 L 0 2" transform="translate(567.418294 297.949091)" style="stroke: #000000; stroke-width: 0.6; stroke: #000000; stroke-width: 0.6"/>
      </g>
     </g>
    </g>
    <g id="xtick_49">
     <g id="line2d_125">
      <g>
       <path d="M 0 0 L 0 2" transform="translate(572.500808 297.949091)" style="stroke: #000000; stroke-width: 0.6; stroke: #000000; stroke-width: 0.6"/>
      </g>
     </g>
    </g>
    <g id="xtick_50">
     <g id="line2d_126">
      <g>
       <path d="M 0 0 L 0 2" transform="translate(606.957613 297.949091)" style="stroke: #000000; stroke-width: 0.6; stroke: #000000; stroke-width: 0.6"/>
      </g>
     </g>
    </g>
    <g id="xtick_51">
     <g id="line2d_127">
      <g>
       <path d="M 0 0 L 0 2" transform="translate(624.454041 297.949091)" style="stroke: #000000; stroke-width: 0.6; stroke: #000000; stroke-width: 0.6"/>
      </g>
     </g>
    </g>
    <g id="xtick_52">
     <g id="line2d_128">
      <g>
       <path d="M 0 0 L 0 2" transform="translate(636.867953 297.949091)" style="stroke: #000000; stroke-width: 0.6; stroke: #000000; stroke-width: 0.6"/>
      </g>
     </g>
    </g>
    <g id="xtick_53">
     <g id="line2d_129">
      <g>
       <path d="M 0 0 L 0 2" transform="translate(646.496932 297.949091)" style="stroke: #000000; stroke-width: 0.6; stroke: #000000; stroke-width: 0.6"/>
      </g>
     </g>
    </g>
    <g id="xtick_54">
     <g id="line2d_130">
      <g>
       <path d="M 0 0 L 0 2" transform="translate(654.364381 297.949091)" style="stroke: #000000; stroke-width: 0.6; stroke: #000000; stroke-width: 0.6"/>
      </g>
     </g>
    </g>
    <g id="xtick_55">
     <g id="line2d_131">
      <g>
       <path d="M 0 0 L 0 2" transform="translate(661.016214 297.949091)" style="stroke: #000000; stroke-width: 0.6; stroke: #000000; stroke-width: 0.6"/>
      </g>
     </g>
    </g>
    <g id="xtick_56">
     <g id="line2d_132">
      <g>
       <path d="M 0 0 L 0 2" transform="translate(666.778294 297.949091)" style="stroke: #000000; stroke-width: 0.6; stroke: #000000; stroke-width: 0.6"/>
      </g>
     </g>
    </g>
    <g id="xtick_57">
     <g id="line2d_133">
      <g>
       <path d="M 0 0 L 0 2" transform="translate(671.860808 297.949091)" style="stroke: #000000; stroke-width: 0.6; stroke: #000000; stroke-width: 0.6"/>
      </g>
     </g>
    </g>
    <g id="text_48">
     <text style="font-size: 10.3px; font-family: 'DejaVu Sans', 'Liberation Sans', sans-serif; text-anchor: middle" x="597.207273" y="329.24395" transform="rotate(-0 597.207273 329.24395)">t [s]</text>
    </g>
   </g>
   <g id="matplotlib.axis_12">
    <g id="ytick_34">
     <g id="line2d_134">
      <path d="M 517.483636 270.785455 L 676.930909 270.785455" clip-path="url(#p9fcfd8e012)" style="fill: none; stroke: #b0b0b0; stroke-linecap: square"/>
     </g>
     <g id="line2d_135">
      <g>
       <path d="M 0 0 L -3.5 0" transform="translate(517.483636 270.785455)" style="stroke: #000000; stroke-width: 0.8; stroke: #000000; stroke-width: 0.8"/>
      </g>
     </g>
     <g id="text_49">
      <text style="font-size: 10.3px; font-family: 'DejaVu Sans', 'Liberation Sans', sans-serif; text-anchor: end" x="510.483636" y="274.69865" transform="rotate(-0 510.483636 274.69865)">0.001</text>
     </g>
    </g>
    <g id="ytick_35">
     <g id="line2d_136">
      <path d="M 517.483636 229.810909 L 676.930909 229.810909" clip-path="url(#p9fcfd8e012)" style="fill: none; stroke: #b0b0b0; stroke-linecap: square"/>
     </g>
     <g id="line2d_137">
      <g>
       <path d="M 0 0 L -3.5 0" transform="translate(517.483636 229.810909)" style="stroke: #000000; stroke-width: 0.8; stroke: #000000; stroke-width: 0.8"/>
      </g>
     </g>
     <g id="text_50">
      <text style="font-size: 10.3px; font-family: 'DejaVu Sans', 'Liberation Sans', sans-serif; text-anchor: end" x="510.483636" y="233.724104" transform="rotate(-0 510.483636 233.724104)">0.002</text>
     </g>
    </g>
   </g>
   <g id="line2d_138">
    <g clip-path="url(#p9fcfd8e012)">
     <path d="M 0 1.95 C 0.517146 1.95 1.013181 1.744536 1.378858 1.378858 C 1.744536 1.013181 1.95 0.517146 1.95 0 C 1.95 -0.517146 1.744536 -1.013181 1.378858 -1.378858 C 1.013181 -1.744536 0.517146 -1.95 0 -1.95 C -0.517146 -1.95 -1.013181 -1.744536 -1.378858 -1.378858 C -1.744536 -1.013181 -1.95 -0.517146 -1.95 0 C -1.95 0.517146 -1.744536 1.013181 -1.378858 1.378858 C -1.013181 1.744536 -0.517146 1.95 0 1.95 z" transform="translate(525.094041 199.374545)" style="stroke: #000000; stroke: #000000"/>
     <path d="M 0 1.95 C 0.517146 1.95 1.013181 1.744536 1.378858 1.378858 C 1.744536 1.013181 1.95 0.517146 1.95 0 C 1.95 -0.517146 1.744536 -1.013181 1.378858 -1.378858 C 1.013181 -1.744536 0.517146 -1.95 0 -1.95 C -0.517146 -1.95 -1.013181 -1.744536 -1.378858 -1.378858 C -1.744536 -1.013181 -1.95 -0.517146 -1.95 0 C -1.95 0.517146 -1.744536 1.013181 -1.378858 1.378858 C -1.013181 1.744536 -0.517146 1.95 0 1.95 z" transform="translate(547.136932 218.487273)" style="stroke: #000000; stroke: #000000"/>
     <path d="M 0 1.95 C 0.517146 1.95 1.013181 1.744536 1.378858 1.378858 C 1.744536 1.013181 1.95 0.517146 1.95 0 C 1.95 -0.517146 1.744536 -1.013181 1.378858 -1.378858 C 1.013181 -1.744536 0.517146 -1.95 0 -1.95 C -0.517146 -1.95 -1.013181 -1.744536 -1.378858 -1.378858 C -1.744536 -1.013181 -1.95 -0.517146 -1.95 0 C -1.95 0.517146 -1.744536 1.013181 -1.378858 1.378858 C -1.013181 1.744536 -0.517146 1.95 0 1.95 z" transform="translate(561.656214 231.447273)" style="stroke: #000000; stroke: #000000"/>
     <path d="M 0 1.95 C 0.517146 1.95 1.013181 1.744536 1.378858 1.378858 C 1.744536 1.013181 1.95 0.517146 1.95 0 C 1.95 -0.517146 1.744536 -1.013181 1.378858 -1.378858 C 1.013181 -1.744536 0.517146 -1.95 0 -1.95 C -0.517146 -1.95 -1.013181 -1.744536 -1.378858 -1.378858 C -1.744536 -1.013181 -1.95 -0.517146 -1.95 0 C -1.95 0.517146 -1.744536 1.013181 -1.378858 1.378858 C -1.013181 1.744536 -0.517146 1.95 0 1.95 z" transform="translate(572.500808 238.778182)" style="stroke: #000000; stroke: #000000"/>
     <path d="M 0 1.95 C 0.517146 1.95 1.013181 1.744536 1.378858 1.378858 C 1.744536 1.013181 1.95 0.517146 1.95 0 C 1.95 -0.517146 1.744536 -1.013181 1.378858 -1.378858 C 1.013181 -1.744536 0.517146 -1.95 0 -1.95 C -0.517146 -1.95 -1.013181 -1.744536 -1.378858 -1.378858 C -1.744536 -1.013181 -1.95 -0.517146 -1.95 0 C -1.95 0.517146 -1.744536 1.013181 -1.378858 1.378858 C -1.013181 1.744536 -0.517146 1.95 0 1.95 z" transform="translate(581.16005 245.716364)" style="stroke: #000000; stroke: #000000"/>
     <path d="M 0 1.95 C 0.517146 1.95 1.013181 1.744536 1.378858 1.378858 C 1.744536 1.013181 1.95 0.517146 1.95 0 C 1.95 -0.517146 1.744536 -1.013181 1.378858 -1.378858 C 1.013181 -1.744536 0.517146 -1.95 0 -1.95 C -0.517146 -1.95 -1.013181 -1.744536 -1.378858 -1.378858 C -1.744536 -1.013181 -1.95 -0.517146 -1.95 0 C -1.95 0.517146 -1.744536 1.013181 -1.378858 1.378858 C -1.013181 1.744536 -0.517146 1.95 0 1.95 z" transform="translate(591.566554 254.225455)" style="stroke: #000000; stroke: #000000"/>
     <path d="M 0 1.95 C 0.517146 1.95 1.013181 1.744536 1.378858 1.378858 C 1.744536 1.013181 1.95 0.517146 1.95 0 C 1.95 -0.517146 1.744536 -1.013181 1.378858 -1.378858 C 1.013181 -1.744536 0.517146 -1.95 0 -1.95 C -0.517146 -1.95 -1.013181 -1.744536 -1.378858 -1.378858 C -1.744536 -1.013181 -1.95 -0.517146 -1.95 0 C -1.95 0.517146 -1.744536 1.013181 -1.378858 1.378858 C -1.013181 1.744536 -0.517146 1.95 0 1.95 z" transform="translate(602.411149 261.163636)" style="stroke: #000000; stroke: #000000"/>
     <path d="M 0 1.95 C 0.517146 1.95 1.013181 1.744536 1.378858 1.378858 C 1.744536 1.013181 1.95 0.517146 1.95 0 C 1.95 -0.517146 1.744536 -1.013181 1.378858 -1.378858 C 1.013181 -1.744536 0.517146 -1.95 0 -1.95 C -0.517146 -1.95 -1.013181 -1.744536 -1.378858 -1.378858 C -1.744536 -1.013181 -1.95 -0.517146 -1.95 0 C -1.95 0.517146 -1.744536 1.013181 -1.378858 1.378858 C -1.013181 1.744536 -0.517146 1.95 0 1.95 z" transform="translate(611.07039 266.269091)" style="stroke: #000000; stroke: #000000"/>
     <path d="M 0 1.95 C 0.517146 1.95 1.013181 1.744536 1.378858 1.378858 C 1.744536 1.013181 1.95 0.517146 1.95 0 C 1.95 -0.517146 1.744536 -1.013181 1.378858 -1.378858 C 1.013181 -1.744536 0.517146 -1.95 0 -1.95 C -0.517146 -1.95 -1.013181 -1.744536 -1.378858 -1.378858 C -1.744536 -1.013181 -1.95 -0.517146 -1.95 0 C -1.95 0.517146 -1.744536 1.013181 -1.378858 1.378858 C -1.013181 1.744536 -0.517146 1.95 0 1.95 z" transform="translate(619.907576 271.767273)" style="stroke: #000000; stroke: #000000"/>
     <path d="M 0 1.95 C 0.517146 1.95 1.013181 1.744536 1.378858 1.378858 C 1.744536 1.013181 1.95 0.517146 1.95 0 C 1.95 -0.517146 1.744536 -1.013181 1.378858 -1.378858 C 1.013181 -1.744536 0.517146 -1.95 0 -1.95 C -0.517146 -1.95 -1.013181 -1.744536 -1.378858 -1.378858 C -1.744536 -1.013181 -1.95 -0.517146 -1.95 0 C -1.95 0.517146 -1.744536 1.013181 -1.378858 1.378858 C -1.013181 1.744536 -0.517146 1.95 0 1.95 z" transform="translate(629.855018 277.003636)" style="stroke: #000000; stroke: #000000"/>
     <path d="M 0 1.95 C 0.517146 1.95 1.013181 1.744536 1.378858 1.378858 C 1.744536 1.013181 1.95 0.517146 1.95 0 C 1.95 -0.517146 1.744536 -1.013181 1.378858 -1.378858 C 1.013181 -1.744536 0.517146 -1.95 0 -1.95 C -0.517146 -1.95 -1.013181 -1.744536 -1.378858 -1.378858 C -1.744536 -1.013181 -1.95 -0.517146 -1.95 0 C -1.95 0.517146 -1.744536 1.013181 -1.378858 1.378858 C -1.013181 1.744536 -0.517146 1.95 0 1.95 z" transform="translate(639.988698 282.109091)" style="stroke: #000000; stroke: #000000"/>
     <path d="M 0 1.95 C 0.517146 1.95 1.013181 1.744536 1.378858 1.378858 C 1.744536 1.013181 1.95 0.517146 1.95 0 C 1.95 -0.517146 1.744536 -1.013181 1.378858 -1.378858 C 1.013181 -1.744536 0.517146 -1.95 0 -1.95 C -0.517146 -1.95 -1.013181 -1.744536 -1.378858 -1.378858 C -1.744536 -1.013181 -1.95 -0.517146 -1.95 0 C -1.95 0.517146 -1.744536 1.013181 -1.378858 1.378858 C -1.013181 1.744536 -0.517146 1.95 0 1.95 z" transform="translate(649.817917 285.774545)" style="stroke: #000000; stroke: #000000"/>
     <path d="M 0 1.95 C 0.517146 1.95 1.013181 1.744536 1.378858 1.378858 C 1.744536 1.013181 1.95 0.517146 1.95 0 C 1.95 -0.517146 1.744536 -1.013181 1.378858 -1.378858 C 1.013181 -1.744536 0.517146 -1.95 0 -1.95 C -0.517146 -1.95 -1.013181 -1.744536 -1.378858 -1.378858 C -1.744536 -1.013181 -1.95 -0.517146 -1.95 0 C -1.95 0.517146 -1.744536 1.013181 -1.378858 1.378858 C -1.013181 1.744536 -0.517146 1.95 0 1.95 z" transform="translate(659.765358 290.094545)" style="stroke: #000000; stroke: #000000"/>
     <path d="M 0 1.95 C 0.517146 1.95 1.013181 1.744536 1.378858 1.378858 C 1.744536 1.013181 1.95 0.517146 1.95 0 C 1.95 -0.517146 1.744536 -1.013181 1.378858 -1.378858 C 1.013181 -1.744536 0.517146 -1.95 0 -1.95 C -0.517146 -1.95 -1.013181 -1.744536 -1.378858 -1.378858 C -1.744536 -1.013181 -1.95 -0.517146 -1.95 0 C -1.95 0.517146 -1.744536 1.013181 -1.378858 1.378858 C -1.013181 1.744536 -0.517146 1.95 0 1.95 z" transform="translate(669.899039 293.236364)" style="stroke: #000000; stroke: #000000"/>
    </g>
   </g>
   <g id="line2d_139">
    <path d="M 525.094041 199.383164 L 551.28992 222.087264 L 562.204869 231.21443 L 571.664492 238.835957 L 580.396452 245.579305 L 588.400748 251.480251 L 595.677381 256.590467 L 602.954015 261.443122 L 610.230648 266.026869 L 617.507281 270.333814 L 624.783914 274.359525 L 631.332884 277.74133 L 637.881853 280.896178 L 644.430823 283.82802 L 651.707456 286.83171 L 658.984089 289.579626 L 666.260722 292.087036 L 669.899039 293.256269 L 669.899039 293.256269" clip-path="url(#p9fcfd8e012)" style="fill: none; stroke: #000000; stroke-width: 2; stroke-linecap: square"/>
   </g>
   <g id="patch_33">
    <path d="M 517.483636 297.949091 L 517.483636 194.138182" style="fill: none; stroke: #000000; stroke-linejoin: miter; stroke-linecap: square"/>
   </g>
   <g id="patch_34">
    <path d="M 676.930909 297.949091 L 676.930909 194.138182" style="fill: none; stroke: #000000; stroke-linejoin: miter; stroke-linecap: square"/>
   </g>
   <g id="patch_35">
    <path d="M 517.483636 297.949091 L 676.930909 297.949091" style="fill: none; stroke: #000000; stroke-linejoin: miter; stroke-linecap: square"/>
   </g>
   <g id="patch_36">
    <path d="M 517.483636 194.138182 L 676.930909 194.138182" style="fill: none; stroke: #000000; stroke-linejoin: miter; stroke-linecap: square"/>
   </g>
   <g id="legend_6">
    <g id="patch_37">
     <path d="M 589.982815 232.615119 L 669.720909 232.615119 Q 671.780909 232.615119 671.780909 230.555119 L 671.780909 201.348182 Q 671.780909 199.288182 669.720909 199.288182 L 589.982815 199.288182 Q 587.922815 199.288182 587.922815 201.348182 L 587.922815 230.555119 Q 587.922815 232.615119 589.982815 232.615119 z" style="fill: #ffffff; opacity: 0.8; stroke: #cccccc; stroke-linejoin: miter"/>
    </g>
    <g id="line2d_140">
     <g>
      <path d="M 0 1.95 C 0.517146 1.95 1.013181 1.744536 1.378858 1.378858 C 1.744536 1.013181 1.95 0.517146 1.95 0 C 1.95 -0.517146 1.744536 -1.013181 1.378858 -1.378858 C 1.013181 -1.744536 0.517146 -1.95 0 -1.95 C -0.517146 -1.95 -1.013181 -1.744536 -1.378858 -1.378858 C -1.744536 -1.013181 -1.95 -0.517146 -1.95 0 C -1.95 0.517146 -1.744536 1.013181 -1.378858 1.378858 C -1.013181 1.744536 -0.517146 1.95 0 1.95 z" transform="translate(602.342815 207.629572)" style="stroke: #000000; stroke: #000000"/>
     </g>
    </g>
    <g id="text_51">
     <text style="font-size: 10.3px; font-family: 'DejaVu Sans', 'Liberation Sans', sans-serif; text-anchor: start" x="620.882815" y="211.234572" transform="rotate(-0 620.882815 211.234572)">data</text>
    </g>
    <g id="line2d_141">
     <path d="M 592.042815 222.748041 L 602.342815 222.748041 L 612.642815 222.748041" style="fill: none; stroke: #000000; stroke-width: 2; stroke-linecap: square"/>
    </g>
    <g id="text_52">
     <text style="font-size: 10.3px; font-family: 'DejaVu Sans', 'Liberation Sans', sans-serif; text-anchor: start" x="620.882815" y="226.353041" transform="rotate(-0 620.882815 226.353041)">response</text>
    </g>
   </g>
  </g>
  <g id="axes_7">
   <g id="patch_38">
    <path d="M 72.392727 469.047273 L 231.84 469.047273 L 231.84 365.236364 L 72.392727 365.236364 z" style="fill: #ffffff"/>
   </g>
   <g id="matplotlib.axis_13">
    <g id="xtick_58">
     <g id="line2d_142">
      <path d="M 79.645091 469.047273 L 79.645091 365.236364" clip-path="url(#p233d3f415a)" style="fill: none; stroke: #b0b0b0; stroke-linecap: square"/>
     </g>
     <g id="line2d_143">
      <g>
       <path d="M 0 0 L 0 3.5" transform="translate(79.645091 469.047273)" style="stroke: #000000; stroke-width: 0.8; stroke: #000000; stroke-width: 0.8"/>
      </g>
     </g>
     <g id="text_53">
      <text style="font-size: 10.3px; font-family: 'DejaVu Sans', 'Liberation Sans', sans-serif; text-anchor: middle" x="79.645091" y="484.673663" transform="rotate(-0 79.645091 484.673663)">0</text>
     </g>
    </g>
    <g id="xtick_59">
     <g id="line2d_144">
      <path d="M 132.349091 469.047273 L 132.349091 365.236364" clip-path="url(#p233d3f415a)" style="fill: none; stroke: #b0b0b0; stroke-linecap: square"/>
     </g>
     <g id="line2d_145">
      <g>
       <path d="M 0 0 L 0 3.5" transform="translate(132.349091 469.047273)" style="stroke: #000000; stroke-width: 0.8; stroke: #000000; stroke-width: 0.8"/>
      </g>
     </g>
     <g id="text_54">
      <text style="font-size: 10.3px; font-family: 'DejaVu Sans', 'Liberation Sans', sans-serif; text-anchor: middle" x="132.349091" y="484.673663" transform="rotate(-0 132.349091 484.673663)">20</text>
     </g>
    </g>
    <g id="xtick_60">
     <g id="line2d_146">
      <path d="M 185.053091 469.047273 L 185.053091 365.236364" clip-path="url(#p233d3f415a)" style="fill: none; stroke: #b0b0b0; stroke-linecap: square"/>
     </g>
     <g id="line2d_147">
      <g>
       <path d="M 0 0 L 0 3.5" transform="translate(185.053091 469.047273)" style="stroke: #000000; stroke-width: 0.8; stroke: #000000; stroke-width: 0.8"/>
      </g>
     </g>
     <g id="text_55">
      <text style="font-size: 10.3px; font-family: 'DejaVu Sans', 'Liberation Sans', sans-serif; text-anchor: middle" x="185.053091" y="484.673663" transform="rotate(-0 185.053091 484.673663)">40</text>
     </g>
    </g>
    <g id="text_56">
     <text style="font-size: 10.3px; font-family: 'DejaVu Sans', 'Liberation Sans', sans-serif; text-anchor: middle" x="152.116364" y="498.942132" transform="rotate(-0 152.116364 498.942132)">iteration</text>
    </g>
   </g>
   <g id="matplotlib.axis_14">
    <g id="ytick_36">
     <g id="line2d_148">
      <path d="M 72.392727 465.264 L 231.84 465.264" clip-path="url(#p233d3f415a)" style="fill: none; stroke: #b0b0b0; stroke-linecap: square"/>
     </g>
     <g id="line2d_149">
      <g>
       <path d="M 0 0 L -3.5 0" transform="translate(72.392727 465.264)" style="stroke: #000000; stroke-width: 0.8; stroke: #000000; stroke-width: 0.8"/>
      </g>
     </g>
     <g id="text_57">
      <g transform="translate(47.264727 469.177195)">
       <text xml:space="preserve"><tspan x="0 6.521" y="-0.977" style="font-size: 10.3px; font-family: 'DejaVu Sans', 'Liberation Sans', sans-serif">10</tspan><tspan x="13.138" y="-4.805" style="font-size: 7.21px; font-family: 'DejaVu Sans', 'Liberation Sans', sans-serif">0</tspan></text>
      </g>
     </g>
    </g>
    <g id="ytick_37">
     <g id="line2d_150">
      <path d="M 72.392727 434.277818 L 231.84 434.277818" clip-path="url(#p233d3f415a)" style="fill: none; stroke: #b0b0b0; stroke-linecap: square"/>
     </g>
     <g id="line2d_151">
      <g>
       <path d="M 0 0 L -3.5 0" transform="translate(72.392727 434.277818)" style="stroke: #000000; stroke-width: 0.8; stroke: #000000; stroke-width: 0.8"/>
      </g>
     </g>
     <g id="text_58">
      <g transform="translate(47.264727 438.191013)">
       <text xml:space="preserve"><tspan x="0 6.521" y="-0.064" style="font-size: 10.3px; font-family: 'DejaVu Sans', 'Liberation Sans', sans-serif">10</tspan><tspan x="13.138" y="-3.892" style="font-size: 7.21px; font-family: 'DejaVu Sans', 'Liberation Sans', sans-serif">1</tspan></text>
      </g>
     </g>
    </g>
    <g id="ytick_38">
     <g id="line2d_152">
      <path d="M 72.392727 403.291636 L 231.84 403.291636" clip-path="url(#p233d3f415a)" style="fill: none; stroke: #b0b0b0; stroke-linecap: square"/>
     </g>
     <g id="line2d_153">
      <g>
       <path d="M 0 0 L -3.5 0" transform="translate(72.392727 403.291636)" style="stroke: #000000; stroke-width: 0.8; stroke: #000000; stroke-width: 0.8"/>
      </g>
     </g>
     <g id="text_59">
      <g transform="translate(47.264727 407.204832)">
       <text xml:space="preserve"><tspan x="0 6.521" y="-0.977" style="font-size: 10.3px; font-family: 'DejaVu Sans', 'Liberation Sans', sans-serif">10</tspan><tspan x="13.138" y="-4.805" style="font-size: 7.21px; font-family: 'DejaVu Sans', 'Liberation Sans', sans-serif">2</tspan></text>
      </g>
     </g>
    </g>
    <g id="ytick_39">
     <g id="line2d_154">
      <path d="M 72.392727 372.305455 L 231.84 372.305455" clip-path="url(#p233d3f415a)" style="fill: none; stroke: #b0b0b0; stroke-linecap: square"/>
     </g>
     <g id="line2d_155">
      <g>
       <path d="M 0 0 L -3.5 0" transform="translate(72.392727 372.305455)" style="stroke: #000000; stroke-width: 0.8; stroke: #000000; stroke-width: 0.8"/>
      </g>
     </g>
     <g id="text_60">
      <g transform="translate(47.264727 376.21865)">
       <text xml:space="preserve"><tspan x="0 6.521" y="-0.977" style="font-size: 10.3px; font-family: 'DejaVu Sans', 'Liberation Sans', sans-serif">10</tspan><tspan x="13.138" y="-4.805" style="font-size: 7.21px; font-family: 'DejaVu Sans', 'Liberation Sans', sans-serif">3</tspan></text>
      </g>
     </g>
    </g>
    <g id="ytick_40">
     <g id="line2d_156">
      <g>
       <path d="M 0 0 L -2 0" transform="translate(72.392727 468.266871)" style="stroke: #000000; stroke-width: 0.6; stroke: #000000; stroke-width: 0.6"/>
      </g>
     </g>
    </g>
    <g id="ytick_41">
     <g id="line2d_157">
      <g>
       <path d="M 0 0 L -2 0" transform="translate(72.392727 466.68185)" style="stroke: #000000; stroke-width: 0.6; stroke: #000000; stroke-width: 0.6"/>
      </g>
     </g>
    </g>
    <g id="ytick_42">
     <g id="line2d_158">
      <g>
       <path d="M 0 0 L -2 0" transform="translate(72.392727 455.93623)" style="stroke: #000000; stroke-width: 0.6; stroke: #000000; stroke-width: 0.6"/>
      </g>
     </g>
    </g>
    <g id="ytick_43">
     <g id="line2d_159">
      <g>
       <path d="M 0 0 L -2 0" transform="translate(72.392727 450.479834)" style="stroke: #000000; stroke-width: 0.6; stroke: #000000; stroke-width: 0.6"/>
      </g>
     </g>
    </g>
    <g id="ytick_44">
     <g id="line2d_160">
      <g>
       <path d="M 0 0 L -2 0" transform="translate(72.392727 446.60846)" style="stroke: #000000; stroke-width: 0.6; stroke: #000000; stroke-width: 0.6"/>
      </g>
     </g>
    </g>
    <g id="ytick_45">
     <g id="line2d_161">
      <g>
       <path d="M 0 0 L -2 0" transform="translate(72.392727 443.605588)" style="stroke: #000000; stroke-width: 0.6; stroke: #000000; stroke-width: 0.6"/>
      </g>
     </g>
    </g>
    <g id="ytick_46">
     <g id="line2d_162">
      <g>
       <path d="M 0 0 L -2 0" transform="translate(72.392727 441.152064)" style="stroke: #000000; stroke-width: 0.6; stroke: #000000; stroke-width: 0.6"/>
      </g>
     </g>
    </g>
    <g id="ytick_47">
     <g id="line2d_163">
      <g>
       <path d="M 0 0 L -2 0" transform="translate(72.392727 439.077638)" style="stroke: #000000; stroke-width: 0.6; stroke: #000000; stroke-width: 0.6"/>
      </g>
     </g>
    </g>
    <g id="ytick_48">
     <g id="line2d_164">
      <g>
       <path d="M 0 0 L -2 0" transform="translate(72.392727 437.280689)" style="stroke: #000000; stroke-width: 0.6; stroke: #000000; stroke-width: 0.6"/>
      </g>
     </g>
    </g>
    <g id="ytick_49">
     <g id="line2d_165">
      <g>
       <path d="M 0 0 L -2 0" transform="translate(72.392727 435.695668)" style="stroke: #000000; stroke-width: 0.6; stroke: #000000; stroke-width: 0.6"/>
      </g>
     </g>
    </g>
    <g id="ytick_50">
     <g id="line2d_166">
      <g>
       <path d="M 0 0 L -2 0" transform="translate(72.392727 424.950048)" style="stroke: #000000; stroke-width: 0.6; stroke: #000000; stroke-width: 0.6"/>
      </g>
     </g>
    </g>
    <g id="ytick_51">
     <g id="line2d_167">
      <g>
       <path d="M 0 0 L -2 0" transform="translate(72.392727 419.493652)" style="stroke: #000000; stroke-width: 0.6; stroke: #000000; stroke-width: 0.6"/>
      </g>
     </g>
    </g>
    <g id="ytick_52">
     <g id="line2d_168">
      <g>
       <path d="M 0 0 L -2 0" transform="translate(72.392727 415.622278)" style="stroke: #000000; stroke-width: 0.6; stroke: #000000; stroke-width: 0.6"/>
      </g>
     </g>
    </g>
    <g id="ytick_53">
     <g id="line2d_169">
      <g>
       <path d="M 0 0 L -2 0" transform="translate(72.392727 412.619407)" style="stroke: #000000; stroke-width: 0.6; stroke: #000000; stroke-width: 0.6"/>
      </g>
     </g>
    </g>
    <g id="ytick_54">
     <g id="line2d_170">
      <g>
       <path d="M 0 0 L -2 0" transform="translate(72.392727 410.165882)" style="stroke: #000000; stroke-width: 0.6; stroke: #000000; stroke-width: 0.6"/>
      </g>
     </g>
    </g>
    <g id="ytick_55">
     <g id="line2d_171">
      <g>
       <path d="M 0 0 L -2 0" transform="translate(72.392727 408.091457)" style="stroke: #000000; stroke-width: 0.6; stroke: #000000; stroke-width: 0.6"/>
      </g>
     </g>
    </g>
    <g id="ytick_56">
     <g id="line2d_172">
      <g>
       <path d="M 0 0 L -2 0" transform="translate(72.392727 406.294508)" style="stroke: #000000; stroke-width: 0.6; stroke: #000000; stroke-width: 0.6"/>
      </g>
     </g>
    </g>
    <g id="ytick_57">
     <g id="line2d_173">
      <g>
       <path d="M 0 0 L -2 0" transform="translate(72.392727 404.709486)" style="stroke: #000000; stroke-width: 0.6; stroke: #000000; stroke-width: 0.6"/>
      </g>
     </g>
    </g>
    <g id="ytick_58">
     <g id="line2d_174">
      <g>
       <path d="M 0 0 L -2 0" transform="translate(72.392727 393.963866)" style="stroke: #000000; stroke-width: 0.6; stroke: #000000; stroke-width: 0.6"/>
      </g>
     </g>
    </g>
    <g id="ytick_59">
     <g id="line2d_175">
      <g>
       <path d="M 0 0 L -2 0" transform="translate(72.392727 388.50747)" style="stroke: #000000; stroke-width: 0.6; stroke: #000000; stroke-width: 0.6"/>
      </g>
     </g>
    </g>
    <g id="ytick_60">
     <g id="line2d_176">
      <g>
       <path d="M 0 0 L -2 0" transform="translate(72.392727 384.636096)" style="stroke: #000000; stroke-width: 0.6; stroke: #000000; stroke-width: 0.6"/>
      </g>
     </g>
    </g>
    <g id="ytick_61">
     <g id="line2d_177">
      <g>
       <path d="M 0 0 L -2 0" transform="translate(72.392727 381.633225)" style="stroke: #000000; stroke-width: 0.6; stroke: #000000; stroke-width: 0.6"/>
      </g>
     </g>
    </g>
    <g id="ytick_62">
     <g id="line2d_178">
      <g>
       <path d="M 0 0 L -2 0" transform="translate(72.392727 379.1797)" style="stroke: #000000; stroke-width: 0.6; stroke: #000000; stroke-width: 0.6"/>
      </g>
     </g>
    </g>
    <g id="ytick_63">
     <g id="line2d_179">
      <g>
       <path d="M 0 0 L -2 0" transform="translate(72.392727 377.105275)" style="stroke: #000000; stroke-width: 0.6; stroke: #000000; stroke-width: 0.6"/>
      </g>
     </g>
    </g>
    <g id="ytick_64">
     <g id="line2d_180">
      <g>
       <path d="M 0 0 L -2 0" transform="translate(72.392727 375.308326)" style="stroke: #000000; stroke-width: 0.6; stroke: #000000; stroke-width: 0.6"/>
      </g>
     </g>
    </g>
    <g id="ytick_65">
     <g id="line2d_181">
      <g>
       <path d="M 0 0 L -2 0" transform="translate(72.392727 373.723304)" style="stroke: #000000; stroke-width: 0.6; stroke: #000000; stroke-width: 0.6"/>
      </g>
     </g>
    </g>
    <g id="text_61">
     <g transform="translate(41.122649 427.441818) rotate(-90)">
      <text xml:space="preserve"><tspan x="0" y="-0.406" style="font-style: oblique; font-size: 10.3px; font-family: 'DejaVu Sans', 'Liberation Sans', sans-serif">ε</tspan><tspan x="5.54 8.799 12.797 16.496" y="-0.406" style="font-size: 10.3px; font-family: 'DejaVu Sans', 'Liberation Sans', sans-serif"> (-)</tspan></text>
     </g>
    </g>
   </g>
   <g id="line2d_182">
    <path d="M 79.645091 369.032727 L 87.970909 422.836364 L 90.458182 446.923636 L 92.945455 450.72 L 98.836364 450.981818 L 102.109091 452.683636 L 106.298182 453.076364 L 109.047273 454.909091 L 116.247273 455.170909 L 119.650909 456.872727 L 128.814545 457.396364 L 132.872727 459.752727 L 147.927273 460.145455 L 150.938182 462.24 L 161.541818 462.763636 L 164.814545 464.334545 L 194.007273 464.596364 L 197.28 463.68 L 224.64 463.810909" clip-path="url(#p233d3f415a)" style="fill: none; stroke: #000000; stroke-width: 2; stroke-linecap: square"/>
   </g>
   <g id="patch_39">
    <path d="M 72.392727 469.047273 L 72.392727 365.236364" style="fill: none; stroke: #000000; stroke-linejoin: miter; stroke-linecap: square"/>
   </g>
   <g id="patch_40">
    <path d="M 231.84 469.047273 L 231.84 365.236364" style="fill: none; stroke: #000000; stroke-linejoin: miter; stroke-linecap: square"/>
   </g>
   <g id="patch_41">
    <path d="M 72.392727 469.047273 L 231.84 469.047273" style="fill: none; stroke: #000000; stroke-linejoin: miter; stroke-linecap: square"/>
   </g>
   <g id="patch_42">
    <path d="M 72.392727 365.236364 L 231.84 365.236364" style="fill: none; stroke: #000000; stroke-linejoin: miter; stroke-linecap: square"/>
   </g>
  </g>
  <g id="axes_8">
   <g id="matplotlib.axis_15">
    <g id="ytick_66">
     <g id="line2d_183">
      <g>
       <path d="M 0 0 L 3.5 0" transform="translate(231.84 449.659636)" style="stroke: #000000; stroke-width: 0.8; stroke: #000000; stroke-width: 0.8"/>
      </g>
     </g>
     <g id="text_62">
      <g transform="translate(238.84 453.572832)">
       <text xml:space="preserve"><tspan x="0 6.521" y="-0.977" style="font-size: 10.3px; font-family: 'DejaVu Sans', 'Liberation Sans', sans-serif">10</tspan><tspan x="13.138" y="-4.805" style="font-size: 7.21px; font-family: 'DejaVu Sans', 'Liberation Sans', sans-serif">2</tspan></text>
      </g>
     </g>
    </g>
    <g id="ytick_67">
     <g id="line2d_184">
      <g>
       <path d="M 0 0 L 3.5 0" transform="translate(231.84 423.111273)" style="stroke: #000000; stroke-width: 0.8; stroke: #000000; stroke-width: 0.8"/>
      </g>
     </g>
     <g id="text_63">
      <g transform="translate(238.84 427.024468)">
       <text xml:space="preserve"><tspan x="0 6.521" y="-0.977" style="font-size: 10.3px; font-family: 'DejaVu Sans', 'Liberation Sans', sans-serif">10</tspan><tspan x="13.138" y="-4.805" style="font-size: 7.21px; font-family: 'DejaVu Sans', 'Liberation Sans', sans-serif">3</tspan></text>
      </g>
     </g>
    </g>
    <g id="ytick_68">
     <g id="line2d_185">
      <g>
       <path d="M 0 0 L 3.5 0" transform="translate(231.84 396.562909)" style="stroke: #000000; stroke-width: 0.8; stroke: #000000; stroke-width: 0.8"/>
      </g>
     </g>
     <g id="text_64">
      <g transform="translate(238.84 400.476104)">
       <text xml:space="preserve"><tspan x="0 6.521" y="-0.064" style="font-size: 10.3px; font-family: 'DejaVu Sans', 'Liberation Sans', sans-serif">10</tspan><tspan x="13.138" y="-3.892" style="font-size: 7.21px; font-family: 'DejaVu Sans', 'Liberation Sans', sans-serif">4</tspan></text>
      </g>
     </g>
    </g>
    <g id="ytick_69">
     <g id="line2d_186">
      <g>
       <path d="M 0 0 L 3.5 0" transform="translate(231.84 370.014545)" style="stroke: #000000; stroke-width: 0.8; stroke: #000000; stroke-width: 0.8"/>
      </g>
     </g>
     <g id="text_65">
      <g transform="translate(238.84 373.927741)">
       <text xml:space="preserve"><tspan x="0 6.521" y="-0.064" style="font-size: 10.3px; font-family: 'DejaVu Sans', 'Liberation Sans', sans-serif">10</tspan><tspan x="13.138" y="-3.892" style="font-size: 7.21px; font-family: 'DejaVu Sans', 'Liberation Sans', sans-serif">5</tspan></text>
      </g>
     </g>
    </g>
    <g id="ytick_70">
     <g id="line2d_187">
      <g>
       <path d="M 0 0 L 2 0" transform="translate(231.84 468.216146)" style="stroke: #000000; stroke-width: 0.6; stroke: #000000; stroke-width: 0.6"/>
      </g>
     </g>
    </g>
    <g id="ytick_71">
     <g id="line2d_188">
      <g>
       <path d="M 0 0 L 2 0" transform="translate(231.84 463.541211)" style="stroke: #000000; stroke-width: 0.6; stroke: #000000; stroke-width: 0.6"/>
      </g>
     </g>
    </g>
    <g id="ytick_72">
     <g id="line2d_189">
      <g>
       <path d="M 0 0 L 2 0" transform="translate(231.84 460.224292)" style="stroke: #000000; stroke-width: 0.6; stroke: #000000; stroke-width: 0.6"/>
      </g>
     </g>
    </g>
    <g id="ytick_73">
     <g id="line2d_190">
      <g>
       <path d="M 0 0 L 2 0" transform="translate(231.84 457.65149)" style="stroke: #000000; stroke-width: 0.6; stroke: #000000; stroke-width: 0.6"/>
      </g>
     </g>
    </g>
    <g id="ytick_74">
     <g id="line2d_191">
      <g>
       <path d="M 0 0 L 2 0" transform="translate(231.84 455.549358)" style="stroke: #000000; stroke-width: 0.6; stroke: #000000; stroke-width: 0.6"/>
      </g>
     </g>
    </g>
    <g id="ytick_75">
     <g id="line2d_192">
      <g>
       <path d="M 0 0 L 2 0" transform="translate(231.84 453.77203)" style="stroke: #000000; stroke-width: 0.6; stroke: #000000; stroke-width: 0.6"/>
      </g>
     </g>
    </g>
    <g id="ytick_76">
     <g id="line2d_193">
      <g>
       <path d="M 0 0 L 2 0" transform="translate(231.84 452.232439)" style="stroke: #000000; stroke-width: 0.6; stroke: #000000; stroke-width: 0.6"/>
      </g>
     </g>
    </g>
    <g id="ytick_77">
     <g id="line2d_194">
      <g>
       <path d="M 0 0 L 2 0" transform="translate(231.84 450.874423)" style="stroke: #000000; stroke-width: 0.6; stroke: #000000; stroke-width: 0.6"/>
      </g>
     </g>
    </g>
    <g id="ytick_78">
     <g id="line2d_195">
      <g>
       <path d="M 0 0 L 2 0" transform="translate(231.84 441.667783)" style="stroke: #000000; stroke-width: 0.6; stroke: #000000; stroke-width: 0.6"/>
      </g>
     </g>
    </g>
    <g id="ytick_79">
     <g id="line2d_196">
      <g>
       <path d="M 0 0 L 2 0" transform="translate(231.84 436.992848)" style="stroke: #000000; stroke-width: 0.6; stroke: #000000; stroke-width: 0.6"/>
      </g>
     </g>
    </g>
    <g id="ytick_80">
     <g id="line2d_197">
      <g>
       <path d="M 0 0 L 2 0" transform="translate(231.84 433.675929)" style="stroke: #000000; stroke-width: 0.6; stroke: #000000; stroke-width: 0.6"/>
      </g>
     </g>
    </g>
    <g id="ytick_81">
     <g id="line2d_198">
      <g>
       <path d="M 0 0 L 2 0" transform="translate(231.84 431.103127)" style="stroke: #000000; stroke-width: 0.6; stroke: #000000; stroke-width: 0.6"/>
      </g>
     </g>
    </g>
    <g id="ytick_82">
     <g id="line2d_199">
      <g>
       <path d="M 0 0 L 2 0" transform="translate(231.84 429.000994)" style="stroke: #000000; stroke-width: 0.6; stroke: #000000; stroke-width: 0.6"/>
      </g>
     </g>
    </g>
    <g id="ytick_83">
     <g id="line2d_200">
      <g>
       <path d="M 0 0 L 2 0" transform="translate(231.84 427.223666)" style="stroke: #000000; stroke-width: 0.6; stroke: #000000; stroke-width: 0.6"/>
      </g>
     </g>
    </g>
    <g id="ytick_84">
     <g id="line2d_201">
      <g>
       <path d="M 0 0 L 2 0" transform="translate(231.84 425.684075)" style="stroke: #000000; stroke-width: 0.6; stroke: #000000; stroke-width: 0.6"/>
      </g>
     </g>
    </g>
    <g id="ytick_85">
     <g id="line2d_202">
      <g>
       <path d="M 0 0 L 2 0" transform="translate(231.84 424.326059)" style="stroke: #000000; stroke-width: 0.6; stroke: #000000; stroke-width: 0.6"/>
      </g>
     </g>
    </g>
    <g id="ytick_86">
     <g id="line2d_203">
      <g>
       <path d="M 0 0 L 2 0" transform="translate(231.84 415.119419)" style="stroke: #000000; stroke-width: 0.6; stroke: #000000; stroke-width: 0.6"/>
      </g>
     </g>
    </g>
    <g id="ytick_87">
     <g id="line2d_204">
      <g>
       <path d="M 0 0 L 2 0" transform="translate(231.84 410.444484)" style="stroke: #000000; stroke-width: 0.6; stroke: #000000; stroke-width: 0.6"/>
      </g>
     </g>
    </g>
    <g id="ytick_88">
     <g id="line2d_205">
      <g>
       <path d="M 0 0 L 2 0" transform="translate(231.84 407.127565)" style="stroke: #000000; stroke-width: 0.6; stroke: #000000; stroke-width: 0.6"/>
      </g>
     </g>
    </g>
    <g id="ytick_89">
     <g id="line2d_206">
      <g>
       <path d="M 0 0 L 2 0" transform="translate(231.84 404.554763)" style="stroke: #000000; stroke-width: 0.6; stroke: #000000; stroke-width: 0.6"/>
      </g>
     </g>
    </g>
    <g id="ytick_90">
     <g id="line2d_207">
      <g>
       <path d="M 0 0 L 2 0" transform="translate(231.84 402.45263)" style="stroke: #000000; stroke-width: 0.6; stroke: #000000; stroke-width: 0.6"/>
      </g>
     </g>
    </g>
    <g id="ytick_91">
     <g id="line2d_208">
      <g>
       <path d="M 0 0 L 2 0" transform="translate(231.84 400.675303)" style="stroke: #000000; stroke-width: 0.6; stroke: #000000; stroke-width: 0.6"/>
      </g>
     </g>
    </g>
    <g id="ytick_92">
     <g id="line2d_209">
      <g>
       <path d="M 0 0 L 2 0" transform="translate(231.84 399.135711)" style="stroke: #000000; stroke-width: 0.6; stroke: #000000; stroke-width: 0.6"/>
      </g>
     </g>
    </g>
    <g id="ytick_93">
     <g id="line2d_210">
      <g>
       <path d="M 0 0 L 2 0" transform="translate(231.84 397.777696)" style="stroke: #000000; stroke-width: 0.6; stroke: #000000; stroke-width: 0.6"/>
      </g>
     </g>
    </g>
    <g id="ytick_94">
     <g id="line2d_211">
      <g>
       <path d="M 0 0 L 2 0" transform="translate(231.84 388.571055)" style="stroke: #000000; stroke-width: 0.6; stroke: #000000; stroke-width: 0.6"/>
      </g>
     </g>
    </g>
    <g id="ytick_95">
     <g id="line2d_212">
      <g>
       <path d="M 0 0 L 2 0" transform="translate(231.84 383.896121)" style="stroke: #000000; stroke-width: 0.6; stroke: #000000; stroke-width: 0.6"/>
      </g>
     </g>
    </g>
    <g id="ytick_96">
     <g id="line2d_213">
      <g>
       <path d="M 0 0 L 2 0" transform="translate(231.84 380.579202)" style="stroke: #000000; stroke-width: 0.6; stroke: #000000; stroke-width: 0.6"/>
      </g>
     </g>
    </g>
    <g id="ytick_97">
     <g id="line2d_214">
      <g>
       <path d="M 0 0 L 2 0" transform="translate(231.84 378.006399)" style="stroke: #000000; stroke-width: 0.6; stroke: #000000; stroke-width: 0.6"/>
      </g>
     </g>
    </g>
    <g id="ytick_98">
     <g id="line2d_215">
      <g>
       <path d="M 0 0 L 2 0" transform="translate(231.84 375.904267)" style="stroke: #000000; stroke-width: 0.6; stroke: #000000; stroke-width: 0.6"/>
      </g>
     </g>
    </g>
    <g id="ytick_99">
     <g id="line2d_216">
      <g>
       <path d="M 0 0 L 2 0" transform="translate(231.84 374.126939)" style="stroke: #000000; stroke-width: 0.6; stroke: #000000; stroke-width: 0.6"/>
      </g>
     </g>
    </g>
    <g id="ytick_100">
     <g id="line2d_217">
      <g>
       <path d="M 0 0 L 2 0" transform="translate(231.84 372.587348)" style="stroke: #000000; stroke-width: 0.6; stroke: #000000; stroke-width: 0.6"/>
      </g>
     </g>
    </g>
    <g id="ytick_101">
     <g id="line2d_218">
      <g>
       <path d="M 0 0 L 2 0" transform="translate(231.84 371.229332)" style="stroke: #000000; stroke-width: 0.6; stroke: #000000; stroke-width: 0.6"/>
      </g>
     </g>
    </g>
   </g>
   <g id="line2d_219">
    <path d="M 79.645091 370.014545 L 95.432727 370.014545 L 98.050909 387.883636 L 103.418182 387.883636 L 106.036364 403.723636 L 113.890909 403.723636 L 116.509091 421.134545 L 127.112727 421.134545 L 129.730909 436.843636 L 145.570909 436.843636 L 148.189091 450.981818 L 161.28 450.981818 L 164.029091 464.596364 L 192.96 464.596364 L 195.578182 459.883636 L 224.64 459.883636" clip-path="url(#p233d3f415a)" style="fill: none; stroke-dasharray: 2.1,2.1; stroke-dashoffset: 0; stroke: #000000; stroke-width: 2"/>
   </g>
   <g id="patch_43">
    <path d="M 72.392727 469.047273 L 72.392727 365.236364" style="fill: none; stroke: #000000; stroke-width: 0.5; stroke-linejoin: miter; stroke-linecap: square"/>
   </g>
   <g id="patch_44">
    <path d="M 231.84 469.047273 L 231.84 365.236364" style="fill: none; stroke: #000000; stroke-width: 0.5; stroke-linejoin: miter; stroke-linecap: square"/>
   </g>
   <g id="patch_45">
    <path d="M 72.392727 469.047273 L 231.84 469.047273" style="fill: none; stroke: #000000; stroke-width: 0.5; stroke-linejoin: miter; stroke-linecap: square"/>
   </g>
   <g id="patch_46">
    <path d="M 72.392727 365.236364 L 231.84 365.236364" style="fill: none; stroke: #000000; stroke-width: 0.5; stroke-linejoin: miter; stroke-linecap: square"/>
   </g>
   <g id="legend_7">
    <g id="patch_47">
     <path d="M 134.402 403.713301 L 224.63 403.713301 Q 226.69 403.713301 226.69 401.653301 L 226.69 372.446364 Q 226.69 370.386364 224.63 370.386364 L 134.402 370.386364 Q 132.342 370.386364 132.342 372.446364 L 132.342 401.653301 Q 132.342 403.713301 134.402 403.713301 z" style="fill: #ffffff; opacity: 0.8; stroke: #cccccc; stroke-linejoin: miter"/>
    </g>
    <g id="line2d_220">
     <path d="M 136.462 378.727754 L 146.762 378.727754 L 157.062 378.727754" style="fill: none; stroke-dasharray: 2.1,2.1; stroke-dashoffset: 0; stroke: #000000; stroke-width: 2"/>
    </g>
    <g id="text_66">
     <g transform="translate(165.302 382.332754)">
      <text xml:space="preserve"><tspan x="0" y="-0.406" style="font-style: oblique; font-size: 10.3px; font-family: 'DejaVu Sans', 'Liberation Sans', sans-serif">λ</tspan><tspan x="6.066 9.324 15.63 21.696 27.967 30.815 37.311 41.33 44.178 50.449" y="-0.406" style="font-size: 10.3px; font-family: 'DejaVu Sans', 'Liberation Sans', sans-serif"> evolution</tspan></text>
     </g>
    </g>
    <g id="line2d_221">
     <path d="M 136.462 393.846223 L 146.762 393.846223 L 157.062 393.846223" style="fill: none; stroke: #000000; stroke-width: 2; stroke-linecap: square"/>
    </g>
    <g id="text_67">
     <g transform="translate(165.302 397.451223)">
      <text xml:space="preserve"><tspan x="0" y="-0.406" style="font-style: oblique; font-size: 10.3px; font-family: 'DejaVu Sans', 'Liberation Sans', sans-serif">ε</tspan><tspan x="5.54 8.799 15.105 21.171 27.442 30.29 36.786 40.805 43.653 49.924" y="-0.406" style="font-size: 10.3px; font-family: 'DejaVu Sans', 'Liberation Sans', sans-serif"> evolution</tspan></text>
     </g>
    </g>
   </g>
  </g>
  <g id="axes_9">
   <g id="patch_48">
    <path d="M 294.938182 469.047273 L 454.385455 469.047273 L 454.385455 365.236364 L 294.938182 365.236364 z" style="fill: #ffffff"/>
   </g>
   <g id="matplotlib.axis_16">
    <g id="xtick_61">
     <g id="line2d_222">
      <path d="M 302.269091 469.047273 L 302.269091 365.236364" clip-path="url(#pea5244794f)" style="fill: none; stroke: #b0b0b0; stroke-linecap: square"/>
     </g>
     <g id="line2d_223">
      <g>
       <path d="M 0 0 L 0 3.5" transform="translate(302.269091 469.047273)" style="stroke: #000000; stroke-width: 0.8; stroke: #000000; stroke-width: 0.8"/>
      </g>
     </g>
     <g id="text_68">
      <text style="font-size: 10.3px; font-family: 'DejaVu Sans', 'Liberation Sans', sans-serif; text-anchor: middle" x="302.269091" y="484.673663" transform="rotate(-0 302.269091 484.673663)">0</text>
     </g>
    </g>
    <g id="xtick_62">
     <g id="line2d_224">
      <path d="M 335.127273 469.047273 L 335.127273 365.236364" clip-path="url(#pea5244794f)" style="fill: none; stroke: #b0b0b0; stroke-linecap: square"/>
     </g>
     <g id="line2d_225">
      <g>
       <path d="M 0 0 L 0 3.5" transform="translate(335.127273 469.047273)" style="stroke: #000000; stroke-width: 0.8; stroke: #000000; stroke-width: 0.8"/>
      </g>
     </g>
     <g id="text_69">
      <text style="font-size: 10.3px; font-family: 'DejaVu Sans', 'Liberation Sans', sans-serif; text-anchor: middle" x="335.127273" y="484.673663" transform="rotate(-0 335.127273 484.673663)">200</text>
     </g>
    </g>
    <g id="xtick_63">
     <g id="line2d_226">
      <path d="M 367.985455 469.047273 L 367.985455 365.236364" clip-path="url(#pea5244794f)" style="fill: none; stroke: #b0b0b0; stroke-linecap: square"/>
     </g>
     <g id="line2d_227">
      <g>
       <path d="M 0 0 L 0 3.5" transform="translate(367.985455 469.047273)" style="stroke: #000000; stroke-width: 0.8; stroke: #000000; stroke-width: 0.8"/>
      </g>
     </g>
     <g id="text_70">
      <text style="font-size: 10.3px; font-family: 'DejaVu Sans', 'Liberation Sans', sans-serif; text-anchor: middle" x="367.985455" y="484.673663" transform="rotate(-0 367.985455 484.673663)">400</text>
     </g>
    </g>
    <g id="xtick_64">
     <g id="line2d_228">
      <path d="M 400.843636 469.047273 L 400.843636 365.236364" clip-path="url(#pea5244794f)" style="fill: none; stroke: #b0b0b0; stroke-linecap: square"/>
     </g>
     <g id="line2d_229">
      <g>
       <path d="M 0 0 L 0 3.5" transform="translate(400.843636 469.047273)" style="stroke: #000000; stroke-width: 0.8; stroke: #000000; stroke-width: 0.8"/>
      </g>
     </g>
     <g id="text_71">
      <text style="font-size: 10.3px; font-family: 'DejaVu Sans', 'Liberation Sans', sans-serif; text-anchor: middle" x="400.843636" y="484.673663" transform="rotate(-0 400.843636 484.673663)">600</text>
     </g>
    </g>
    <g id="xtick_65">
     <g id="line2d_230">
      <path d="M 433.701818 469.047273 L 433.701818 365.236364" clip-path="url(#pea5244794f)" style="fill: none; stroke: #b0b0b0; stroke-linecap: square"/>
     </g>
     <g id="line2d_231">
      <g>
       <path d="M 0 0 L 0 3.5" transform="translate(433.701818 469.047273)" style="stroke: #000000; stroke-width: 0.8; stroke: #000000; stroke-width: 0.8"/>
      </g>
     </g>
     <g id="text_72">
      <text style="font-size: 10.3px; font-family: 'DejaVu Sans', 'Liberation Sans', sans-serif; text-anchor: middle" x="433.701818" y="484.673663" transform="rotate(-0 433.701818 484.673663)">800</text>
     </g>
    </g>
    <g id="text_73">
     <text style="font-size: 10.3px; font-family: 'DejaVu Sans', 'Liberation Sans', sans-serif; text-anchor: middle" x="374.661818" y="498.942132" transform="rotate(-0 374.661818 498.942132)">iteration</text>
    </g>
   </g>
   <g id="matplotlib.axis_17">
    <g id="ytick_102">
     <g id="line2d_232">
      <path d="M 294.938182 449.476364 L 454.385455 449.476364" clip-path="url(#pea5244794f)" style="fill: none; stroke: #b0b0b0; stroke-linecap: square"/>
     </g>
     <g id="line2d_233">
      <g>
       <path d="M 0 0 L -3.5 0" transform="translate(294.938182 449.476364)" style="stroke: #000000; stroke-width: 0.8; stroke: #000000; stroke-width: 0.8"/>
      </g>
     </g>
     <g id="text_74">
      <g transform="translate(269.810182 453.389559)">
       <text xml:space="preserve"><tspan x="0 6.521" y="-0.064" style="font-size: 10.3px; font-family: 'DejaVu Sans', 'Liberation Sans', sans-serif">10</tspan><tspan x="13.138" y="-3.892" style="font-size: 7.21px; font-family: 'DejaVu Sans', 'Liberation Sans', sans-serif">1</tspan></text>
      </g>
     </g>
    </g>
    <g id="ytick_103">
     <g id="line2d_234">
      <path d="M 294.938182 424.669091 L 454.385455 424.669091" clip-path="url(#pea5244794f)" style="fill: none; stroke: #b0b0b0; stroke-linecap: square"/>
     </g>
     <g id="line2d_235">
      <g>
       <path d="M 0 0 L -3.5 0" transform="translate(294.938182 424.669091)" style="stroke: #000000; stroke-width: 0.8; stroke: #000000; stroke-width: 0.8"/>
      </g>
     </g>
     <g id="text_75">
      <g transform="translate(269.810182 428.582286)">
       <text xml:space="preserve"><tspan x="0 6.521" y="-0.977" style="font-size: 10.3px; font-family: 'DejaVu Sans', 'Liberation Sans', sans-serif">10</tspan><tspan x="13.138" y="-4.805" style="font-size: 7.21px; font-family: 'DejaVu Sans', 'Liberation Sans', sans-serif">2</tspan></text>
      </g>
     </g>
    </g>
    <g id="ytick_104">
     <g id="line2d_236">
      <path d="M 294.938182 399.861818 L 454.385455 399.861818" clip-path="url(#pea5244794f)" style="fill: none; stroke: #b0b0b0; stroke-linecap: square"/>
     </g>
     <g id="line2d_237">
      <g>
       <path d="M 0 0 L -3.5 0" transform="translate(294.938182 399.861818)" style="stroke: #000000; stroke-width: 0.8; stroke: #000000; stroke-width: 0.8"/>
      </g>
     </g>
     <g id="text_76">
      <g transform="translate(269.810182 403.775013)">
       <text xml:space="preserve"><tspan x="0 6.521" y="-0.977" style="font-size: 10.3px; font-family: 'DejaVu Sans', 'Liberation Sans', sans-serif">10</tspan><tspan x="13.138" y="-4.805" style="font-size: 7.21px; font-family: 'DejaVu Sans', 'Liberation Sans', sans-serif">3</tspan></text>
      </g>
     </g>
    </g>
    <g id="ytick_105">
     <g id="line2d_238">
      <path d="M 294.938182 375.054545 L 454.385455 375.054545" clip-path="url(#pea5244794f)" style="fill: none; stroke: #b0b0b0; stroke-linecap: square"/>
     </g>
     <g id="line2d_239">
      <g>
       <path d="M 0 0 L -3.5 0" transform="translate(294.938182 375.054545)" style="stroke: #000000; stroke-width: 0.8; stroke: #000000; stroke-width: 0.8"/>
      </g>
     </g>
     <g id="text_77">
      <g transform="translate(269.810182 378.967741)">
       <text xml:space="preserve"><tspan x="0 6.521" y="-0.064" style="font-size: 10.3px; font-family: 'DejaVu Sans', 'Liberation Sans', sans-serif">10</tspan><tspan x="13.138" y="-3.892" style="font-size: 7.21px; font-family: 'DejaVu Sans', 'Liberation Sans', sans-serif">4</tspan></text>
      </g>
     </g>
    </g>
    <g id="ytick_106">
     <g id="line2d_240">
      <g>
       <path d="M 0 0 L -2 0" transform="translate(294.938182 466.815903)" style="stroke: #000000; stroke-width: 0.6; stroke: #000000; stroke-width: 0.6"/>
      </g>
     </g>
    </g>
    <g id="ytick_107">
     <g id="line2d_241">
      <g>
       <path d="M 0 0 L -2 0" transform="translate(294.938182 462.447559)" style="stroke: #000000; stroke-width: 0.6; stroke: #000000; stroke-width: 0.6"/>
      </g>
     </g>
    </g>
    <g id="ytick_108">
     <g id="line2d_242">
      <g>
       <path d="M 0 0 L -2 0" transform="translate(294.938182 459.34817)" style="stroke: #000000; stroke-width: 0.6; stroke: #000000; stroke-width: 0.6"/>
      </g>
     </g>
    </g>
    <g id="ytick_109">
     <g id="line2d_243">
      <g>
       <path d="M 0 0 L -2 0" transform="translate(294.938182 456.944097)" style="stroke: #000000; stroke-width: 0.6; stroke: #000000; stroke-width: 0.6"/>
      </g>
     </g>
    </g>
    <g id="ytick_110">
     <g id="line2d_244">
      <g>
       <path d="M 0 0 L -2 0" transform="translate(294.938182 454.979826)" style="stroke: #000000; stroke-width: 0.6; stroke: #000000; stroke-width: 0.6"/>
      </g>
     </g>
    </g>
    <g id="ytick_111">
     <g id="line2d_245">
      <g>
       <path d="M 0 0 L -2 0" transform="translate(294.938182 453.319059)" style="stroke: #000000; stroke-width: 0.6; stroke: #000000; stroke-width: 0.6"/>
      </g>
     </g>
    </g>
    <g id="ytick_112">
     <g id="line2d_246">
      <g>
       <path d="M 0 0 L -2 0" transform="translate(294.938182 451.880437)" style="stroke: #000000; stroke-width: 0.6; stroke: #000000; stroke-width: 0.6"/>
      </g>
     </g>
    </g>
    <g id="ytick_113">
     <g id="line2d_247">
      <g>
       <path d="M 0 0 L -2 0" transform="translate(294.938182 450.611482)" style="stroke: #000000; stroke-width: 0.6; stroke: #000000; stroke-width: 0.6"/>
      </g>
     </g>
    </g>
    <g id="ytick_114">
     <g id="line2d_248">
      <g>
       <path d="M 0 0 L -2 0" transform="translate(294.938182 442.00863)" style="stroke: #000000; stroke-width: 0.6; stroke: #000000; stroke-width: 0.6"/>
      </g>
     </g>
    </g>
    <g id="ytick_115">
     <g id="line2d_249">
      <g>
       <path d="M 0 0 L -2 0" transform="translate(294.938182 437.640287)" style="stroke: #000000; stroke-width: 0.6; stroke: #000000; stroke-width: 0.6"/>
      </g>
     </g>
    </g>
    <g id="ytick_116">
     <g id="line2d_250">
      <g>
       <path d="M 0 0 L -2 0" transform="translate(294.938182 434.540897)" style="stroke: #000000; stroke-width: 0.6; stroke: #000000; stroke-width: 0.6"/>
      </g>
     </g>
    </g>
    <g id="ytick_117">
     <g id="line2d_251">
      <g>
       <path d="M 0 0 L -2 0" transform="translate(294.938182 432.136824)" style="stroke: #000000; stroke-width: 0.6; stroke: #000000; stroke-width: 0.6"/>
      </g>
     </g>
    </g>
    <g id="ytick_118">
     <g id="line2d_252">
      <g>
       <path d="M 0 0 L -2 0" transform="translate(294.938182 430.172553)" style="stroke: #000000; stroke-width: 0.6; stroke: #000000; stroke-width: 0.6"/>
      </g>
     </g>
    </g>
    <g id="ytick_119">
     <g id="line2d_253">
      <g>
       <path d="M 0 0 L -2 0" transform="translate(294.938182 428.511786)" style="stroke: #000000; stroke-width: 0.6; stroke: #000000; stroke-width: 0.6"/>
      </g>
     </g>
    </g>
    <g id="ytick_120">
     <g id="line2d_254">
      <g>
       <path d="M 0 0 L -2 0" transform="translate(294.938182 427.073164)" style="stroke: #000000; stroke-width: 0.6; stroke: #000000; stroke-width: 0.6"/>
      </g>
     </g>
    </g>
    <g id="ytick_121">
     <g id="line2d_255">
      <g>
       <path d="M 0 0 L -2 0" transform="translate(294.938182 425.804209)" style="stroke: #000000; stroke-width: 0.6; stroke: #000000; stroke-width: 0.6"/>
      </g>
     </g>
    </g>
    <g id="ytick_122">
     <g id="line2d_256">
      <g>
       <path d="M 0 0 L -2 0" transform="translate(294.938182 417.201358)" style="stroke: #000000; stroke-width: 0.6; stroke: #000000; stroke-width: 0.6"/>
      </g>
     </g>
    </g>
    <g id="ytick_123">
     <g id="line2d_257">
      <g>
       <path d="M 0 0 L -2 0" transform="translate(294.938182 412.833014)" style="stroke: #000000; stroke-width: 0.6; stroke: #000000; stroke-width: 0.6"/>
      </g>
     </g>
    </g>
    <g id="ytick_124">
     <g id="line2d_258">
      <g>
       <path d="M 0 0 L -2 0" transform="translate(294.938182 409.733625)" style="stroke: #000000; stroke-width: 0.6; stroke: #000000; stroke-width: 0.6"/>
      </g>
     </g>
    </g>
    <g id="ytick_125">
     <g id="line2d_259">
      <g>
       <path d="M 0 0 L -2 0" transform="translate(294.938182 407.329551)" style="stroke: #000000; stroke-width: 0.6; stroke: #000000; stroke-width: 0.6"/>
      </g>
     </g>
    </g>
    <g id="ytick_126">
     <g id="line2d_260">
      <g>
       <path d="M 0 0 L -2 0" transform="translate(294.938182 405.365281)" style="stroke: #000000; stroke-width: 0.6; stroke: #000000; stroke-width: 0.6"/>
      </g>
     </g>
    </g>
    <g id="ytick_127">
     <g id="line2d_261">
      <g>
       <path d="M 0 0 L -2 0" transform="translate(294.938182 403.704513)" style="stroke: #000000; stroke-width: 0.6; stroke: #000000; stroke-width: 0.6"/>
      </g>
     </g>
    </g>
    <g id="ytick_128">
     <g id="line2d_262">
      <g>
       <path d="M 0 0 L -2 0" transform="translate(294.938182 402.265891)" style="stroke: #000000; stroke-width: 0.6; stroke: #000000; stroke-width: 0.6"/>
      </g>
     </g>
    </g>
    <g id="ytick_129">
     <g id="line2d_263">
      <g>
       <path d="M 0 0 L -2 0" transform="translate(294.938182 400.996937)" style="stroke: #000000; stroke-width: 0.6; stroke: #000000; stroke-width: 0.6"/>
      </g>
     </g>
    </g>
    <g id="ytick_130">
     <g id="line2d_264">
      <g>
       <path d="M 0 0 L -2 0" transform="translate(294.938182 392.394085)" style="stroke: #000000; stroke-width: 0.6; stroke: #000000; stroke-width: 0.6"/>
      </g>
     </g>
    </g>
    <g id="ytick_131">
     <g id="line2d_265">
      <g>
       <path d="M 0 0 L -2 0" transform="translate(294.938182 388.025741)" style="stroke: #000000; stroke-width: 0.6; stroke: #000000; stroke-width: 0.6"/>
      </g>
     </g>
    </g>
    <g id="ytick_132">
     <g id="line2d_266">
      <g>
       <path d="M 0 0 L -2 0" transform="translate(294.938182 384.926352)" style="stroke: #000000; stroke-width: 0.6; stroke: #000000; stroke-width: 0.6"/>
      </g>
     </g>
    </g>
    <g id="ytick_133">
     <g id="line2d_267">
      <g>
       <path d="M 0 0 L -2 0" transform="translate(294.938182 382.522279)" style="stroke: #000000; stroke-width: 0.6; stroke: #000000; stroke-width: 0.6"/>
      </g>
     </g>
    </g>
    <g id="ytick_134">
     <g id="line2d_268">
      <g>
       <path d="M 0 0 L -2 0" transform="translate(294.938182 380.558008)" style="stroke: #000000; stroke-width: 0.6; stroke: #000000; stroke-width: 0.6"/>
      </g>
     </g>
    </g>
    <g id="ytick_135">
     <g id="line2d_269">
      <g>
       <path d="M 0 0 L -2 0" transform="translate(294.938182 378.897241)" style="stroke: #000000; stroke-width: 0.6; stroke: #000000; stroke-width: 0.6"/>
      </g>
     </g>
    </g>
    <g id="ytick_136">
     <g id="line2d_270">
      <g>
       <path d="M 0 0 L -2 0" transform="translate(294.938182 377.458619)" style="stroke: #000000; stroke-width: 0.6; stroke: #000000; stroke-width: 0.6"/>
      </g>
     </g>
    </g>
    <g id="ytick_137">
     <g id="line2d_271">
      <g>
       <path d="M 0 0 L -2 0" transform="translate(294.938182 376.189664)" style="stroke: #000000; stroke-width: 0.6; stroke: #000000; stroke-width: 0.6"/>
      </g>
     </g>
    </g>
    <g id="ytick_138">
     <g id="line2d_272">
      <g>
       <path d="M 0 0 L -2 0" transform="translate(294.938182 367.586812)" style="stroke: #000000; stroke-width: 0.6; stroke: #000000; stroke-width: 0.6"/>
      </g>
     </g>
    </g>
   </g>
   <g id="line2d_273">
    <path d="M 302.269091 369.032727 L 303.185455 422.836364 L 303.84 457.658182 L 305.541818 461.847273 L 309.6 464.072727 L 314.705455 464.596364 L 446.923636 464.334545" clip-path="url(#pea5244794f)" style="fill: none; stroke: #000000; stroke-width: 2; stroke-linecap: square"/>
   </g>
   <g id="patch_49">
    <path d="M 294.938182 469.047273 L 294.938182 365.236364" style="fill: none; stroke: #000000; stroke-linejoin: miter; stroke-linecap: square"/>
   </g>
   <g id="patch_50">
    <path d="M 454.385455 469.047273 L 454.385455 365.236364" style="fill: none; stroke: #000000; stroke-linejoin: miter; stroke-linecap: square"/>
   </g>
   <g id="patch_51">
    <path d="M 294.938182 469.047273 L 454.385455 469.047273" style="fill: none; stroke: #000000; stroke-linejoin: miter; stroke-linecap: square"/>
   </g>
   <g id="patch_52">
    <path d="M 294.938182 365.236364 L 454.385455 365.236364" style="fill: none; stroke: #000000; stroke-linejoin: miter; stroke-linecap: square"/>
   </g>
  </g>
  <g id="axes_10">
   <g id="matplotlib.axis_18">
    <g id="ytick_139">
     <g id="line2d_274">
      <g>
       <path d="M 0 0 L 3.5 0" transform="translate(454.385455 436.673455)" style="stroke: #000000; stroke-width: 0.8; stroke: #000000; stroke-width: 0.8"/>
      </g>
     </g>
     <g id="text_78">
      <g transform="translate(461.385455 440.58665)">
       <text xml:space="preserve"><tspan x="0 6.521" y="-0.064" style="font-size: 10.3px; font-family: 'DejaVu Sans', 'Liberation Sans', sans-serif">10</tspan><tspan x="13.138" y="-3.892" style="font-size: 7.21px; font-family: 'DejaVu Sans', 'Liberation Sans', sans-serif">1</tspan></text>
      </g>
     </g>
    </g>
    <g id="ytick_140">
     <g id="line2d_275">
      <g>
       <path d="M 0 0 L 3.5 0" transform="translate(454.385455 403.344)" style="stroke: #000000; stroke-width: 0.8; stroke: #000000; stroke-width: 0.8"/>
      </g>
     </g>
     <g id="text_79">
      <g transform="translate(461.385455 407.257195)">
       <text xml:space="preserve"><tspan x="0 6.521" y="-0.977" style="font-size: 10.3px; font-family: 'DejaVu Sans', 'Liberation Sans', sans-serif">10</tspan><tspan x="13.138" y="-4.805" style="font-size: 7.21px; font-family: 'DejaVu Sans', 'Liberation Sans', sans-serif">3</tspan></text>
      </g>
     </g>
    </g>
    <g id="ytick_141">
     <g id="line2d_276">
      <g>
       <path d="M 0 0 L 3.5 0" transform="translate(454.385455 370.014545)" style="stroke: #000000; stroke-width: 0.8; stroke: #000000; stroke-width: 0.8"/>
      </g>
     </g>
     <g id="text_80">
      <g transform="translate(461.385455 373.927741)">
       <text xml:space="preserve"><tspan x="0 6.521" y="-0.064" style="font-size: 10.3px; font-family: 'DejaVu Sans', 'Liberation Sans', sans-serif">10</tspan><tspan x="13.138" y="-3.892" style="font-size: 7.21px; font-family: 'DejaVu Sans', 'Liberation Sans', sans-serif">5</tspan></text>
      </g>
     </g>
    </g>
   </g>
   <g id="line2d_277">
    <path d="M 302.269091 370.014545 L 303.316364 370.014545 L 306.327273 411.054545 L 307.636364 422.705455 L 308.814545 432.654545 L 309.6 442.734545 L 313.789091 442.734545 L 314.312727 453.992727 L 329.629091 453.992727 L 330.938182 461.323636 L 346.254545 461.323636 L 347.694545 458.378182 L 363.796364 458.378182 L 364.974545 455.432727 L 378.196364 455.432727 L 380.945455 452.487273 L 394.036364 452.487273 L 397.309091 449.541818 L 411.578182 449.541818 L 414.065455 446.596364 L 428.989091 446.596364 L 430.690909 443.781818 L 446.923636 443.781818" clip-path="url(#pea5244794f)" style="fill: none; stroke-dasharray: 2.1,2.1; stroke-dashoffset: 0; stroke: #000000; stroke-width: 2"/>
   </g>
   <g id="patch_53">
    <path d="M 294.938182 469.047273 L 294.938182 365.236364" style="fill: none; stroke: #000000; stroke-width: 0.5; stroke-linejoin: miter; stroke-linecap: square"/>
   </g>
   <g id="patch_54">
    <path d="M 454.385455 469.047273 L 454.385455 365.236364" style="fill: none; stroke: #000000; stroke-width: 0.5; stroke-linejoin: miter; stroke-linecap: square"/>
   </g>
   <g id="patch_55">
    <path d="M 294.938182 469.047273 L 454.385455 469.047273" style="fill: none; stroke: #000000; stroke-width: 0.5; stroke-linejoin: miter; stroke-linecap: square"/>
   </g>
   <g id="patch_56">
    <path d="M 294.938182 365.236364 L 454.385455 365.236364" style="fill: none; stroke: #000000; stroke-width: 0.5; stroke-linejoin: miter; stroke-linecap: square"/>
   </g>
   <g id="legend_8">
    <g id="patch_57">
     <path d="M 356.947455 403.713301 L 447.175455 403.713301 Q 449.235455 403.713301 449.235455 401.653301 L 449.235455 372.446364 Q 449.235455 370.386364 447.175455 370.386364 L 356.947455 370.386364 Q 354.887455 370.386364 354.887455 372.446364 L 354.887455 401.653301 Q 354.887455 403.713301 356.947455 403.713301 z" style="fill: #ffffff; opacity: 0.8; stroke: #cccccc; stroke-linejoin: miter"/>
    </g>
    <g id="line2d_278">
     <path d="M 359.007455 378.727754 L 369.307455 378.727754 L 379.607455 378.727754" style="fill: none; stroke-dasharray: 2.1,2.1; stroke-dashoffset: 0; stroke: #000000; stroke-width: 2"/>
    </g>
    <g id="text_81">
     <g transform="translate(387.847455 382.332754)">
      <text xml:space="preserve"><tspan x="0" y="-0.406" style="font-style: oblique; font-size: 10.3px; font-family: 'DejaVu Sans', 'Liberation Sans', sans-serif">λ</tspan><tspan x="6.066 9.324 15.63 21.696 27.967 30.815 37.311 41.33 44.178 50.449" y="-0.406" style="font-size: 10.3px; font-family: 'DejaVu Sans', 'Liberation Sans', sans-serif"> evolution</tspan></text>
     </g>
    </g>
    <g id="line2d_279">
     <path d="M 359.007455 393.846223 L 369.307455 393.846223 L 379.607455 393.846223" style="fill: none; stroke: #000000; stroke-width: 2; stroke-linecap: square"/>
    </g>
    <g id="text_82">
     <g transform="translate(387.847455 397.451223)">
      <text xml:space="preserve"><tspan x="0" y="-0.406" style="font-style: oblique; font-size: 10.3px; font-family: 'DejaVu Sans', 'Liberation Sans', sans-serif">ε</tspan><tspan x="5.54 8.799 15.105 21.171 27.442 30.29 36.786 40.805 43.653 49.924" y="-0.406" style="font-size: 10.3px; font-family: 'DejaVu Sans', 'Liberation Sans', sans-serif"> evolution</tspan></text>
     </g>
    </g>
   </g>
  </g>
  <g id="axes_11">
   <g id="patch_58">
    <path d="M 517.483636 469.047273 L 676.930909 469.047273 L 676.930909 365.236364 L 517.483636 365.236364 z" style="fill: #ffffff"/>
   </g>
   <g id="matplotlib.axis_19">
    <g id="xtick_66">
     <g id="line2d_280">
      <path d="M 524.814545 469.047273 L 524.814545 365.236364" clip-path="url(#pf6d8da9178)" style="fill: none; stroke: #b0b0b0; stroke-linecap: square"/>
     </g>
     <g id="line2d_281">
      <g>
       <path d="M 0 0 L 0 3.5" transform="translate(524.814545 469.047273)" style="stroke: #000000; stroke-width: 0.8; stroke: #000000; stroke-width: 0.8"/>
      </g>
     </g>
     <g id="text_83">
      <text style="font-size: 10.3px; font-family: 'DejaVu Sans', 'Liberation Sans', sans-serif; text-anchor: middle" x="524.814545" y="484.673663" transform="rotate(-0 524.814545 484.673663)">0</text>
     </g>
    </g>
    <g id="xtick_67">
     <g id="line2d_282">
      <path d="M 564.152727 469.047273 L 564.152727 365.236364" clip-path="url(#pf6d8da9178)" style="fill: none; stroke: #b0b0b0; stroke-linecap: square"/>
     </g>
     <g id="line2d_283">
      <g>
       <path d="M 0 0 L 0 3.5" transform="translate(564.152727 469.047273)" style="stroke: #000000; stroke-width: 0.8; stroke: #000000; stroke-width: 0.8"/>
      </g>
     </g>
     <g id="text_84">
      <text style="font-size: 10.3px; font-family: 'DejaVu Sans', 'Liberation Sans', sans-serif; text-anchor: middle" x="564.152727" y="484.673663" transform="rotate(-0 564.152727 484.673663)">10</text>
     </g>
    </g>
    <g id="xtick_68">
     <g id="line2d_284">
      <path d="M 603.490909 469.047273 L 603.490909 365.236364" clip-path="url(#pf6d8da9178)" style="fill: none; stroke: #b0b0b0; stroke-linecap: square"/>
     </g>
     <g id="line2d_285">
      <g>
       <path d="M 0 0 L 0 3.5" transform="translate(603.490909 469.047273)" style="stroke: #000000; stroke-width: 0.8; stroke: #000000; stroke-width: 0.8"/>
      </g>
     </g>
     <g id="text_85">
      <text style="font-size: 10.3px; font-family: 'DejaVu Sans', 'Liberation Sans', sans-serif; text-anchor: middle" x="603.490909" y="484.673663" transform="rotate(-0 603.490909 484.673663)">20</text>
     </g>
    </g>
    <g id="xtick_69">
     <g id="line2d_286">
      <path d="M 642.829091 469.047273 L 642.829091 365.236364" clip-path="url(#pf6d8da9178)" style="fill: none; stroke: #b0b0b0; stroke-linecap: square"/>
     </g>
     <g id="line2d_287">
      <g>
       <path d="M 0 0 L 0 3.5" transform="translate(642.829091 469.047273)" style="stroke: #000000; stroke-width: 0.8; stroke: #000000; stroke-width: 0.8"/>
      </g>
     </g>
     <g id="text_86">
      <text style="font-size: 10.3px; font-family: 'DejaVu Sans', 'Liberation Sans', sans-serif; text-anchor: middle" x="642.829091" y="484.673663" transform="rotate(-0 642.829091 484.673663)">30</text>
     </g>
    </g>
    <g id="text_87">
     <text style="font-size: 10.3px; font-family: 'DejaVu Sans', 'Liberation Sans', sans-serif; text-anchor: middle" x="597.207273" y="498.942132" transform="rotate(-0 597.207273 498.942132)">iteration</text>
    </g>
   </g>
   <g id="matplotlib.axis_20">
    <g id="ytick_142">
     <g id="line2d_288">
      <path d="M 517.483636 465.381818 L 676.930909 465.381818" clip-path="url(#pf6d8da9178)" style="fill: none; stroke: #b0b0b0; stroke-linecap: square"/>
     </g>
     <g id="line2d_289">
      <g>
       <path d="M 0 0 L -3.5 0" transform="translate(517.483636 465.381818)" style="stroke: #000000; stroke-width: 0.8; stroke: #000000; stroke-width: 0.8"/>
      </g>
     </g>
     <g id="text_88">
      <g transform="translate(492.355636 469.295013)">
       <text xml:space="preserve"><tspan x="0 6.521" y="-0.977" style="font-size: 10.3px; font-family: 'DejaVu Sans', 'Liberation Sans', sans-serif">10</tspan><tspan x="13.138" y="-4.805" style="font-size: 7.21px; font-family: 'DejaVu Sans', 'Liberation Sans', sans-serif">0</tspan></text>
      </g>
     </g>
    </g>
    <g id="ytick_143">
     <g id="line2d_290">
      <path d="M 517.483636 438.545455 L 676.930909 438.545455" clip-path="url(#pf6d8da9178)" style="fill: none; stroke: #b0b0b0; stroke-linecap: square"/>
     </g>
     <g id="line2d_291">
      <g>
       <path d="M 0 0 L -3.5 0" transform="translate(517.483636 438.545455)" style="stroke: #000000; stroke-width: 0.8; stroke: #000000; stroke-width: 0.8"/>
      </g>
     </g>
     <g id="text_89">
      <g transform="translate(492.355636 442.45865)">
       <text xml:space="preserve"><tspan x="0 6.521" y="-0.064" style="font-size: 10.3px; font-family: 'DejaVu Sans', 'Liberation Sans', sans-serif">10</tspan><tspan x="13.138" y="-3.892" style="font-size: 7.21px; font-family: 'DejaVu Sans', 'Liberation Sans', sans-serif">1</tspan></text>
      </g>
     </g>
    </g>
    <g id="ytick_144">
     <g id="line2d_292">
      <path d="M 517.483636 411.709091 L 676.930909 411.709091" clip-path="url(#pf6d8da9178)" style="fill: none; stroke: #b0b0b0; stroke-linecap: square"/>
     </g>
     <g id="line2d_293">
      <g>
       <path d="M 0 0 L -3.5 0" transform="translate(517.483636 411.709091)" style="stroke: #000000; stroke-width: 0.8; stroke: #000000; stroke-width: 0.8"/>
      </g>
     </g>
     <g id="text_90">
      <g transform="translate(492.355636 415.622286)">
       <text xml:space="preserve"><tspan x="0 6.521" y="-0.977" style="font-size: 10.3px; font-family: 'DejaVu Sans', 'Liberation Sans', sans-serif">10</tspan><tspan x="13.138" y="-4.805" style="font-size: 7.21px; font-family: 'DejaVu Sans', 'Liberation Sans', sans-serif">2</tspan></text>
      </g>
     </g>
    </g>
    <g id="ytick_145">
     <g id="line2d_294">
      <path d="M 517.483636 384.872727 L 676.930909 384.872727" clip-path="url(#pf6d8da9178)" style="fill: none; stroke: #b0b0b0; stroke-linecap: square"/>
     </g>
     <g id="line2d_295">
      <g>
       <path d="M 0 0 L -3.5 0" transform="translate(517.483636 384.872727)" style="stroke: #000000; stroke-width: 0.8; stroke: #000000; stroke-width: 0.8"/>
      </g>
     </g>
     <g id="text_91">
      <g transform="translate(492.355636 388.785923)">
       <text xml:space="preserve"><tspan x="0 6.521" y="-0.977" style="font-size: 10.3px; font-family: 'DejaVu Sans', 'Liberation Sans', sans-serif">10</tspan><tspan x="13.138" y="-4.805" style="font-size: 7.21px; font-family: 'DejaVu Sans', 'Liberation Sans', sans-serif">3</tspan></text>
      </g>
     </g>
    </g>
    <g id="ytick_146">
     <g id="line2d_296">
      <g>
       <path d="M 0 0 L -2 0" transform="translate(517.483636 467.982531)" style="stroke: #000000; stroke-width: 0.6; stroke: #000000; stroke-width: 0.6"/>
      </g>
     </g>
    </g>
    <g id="ytick_147">
     <g id="line2d_297">
      <g>
       <path d="M 0 0 L -2 0" transform="translate(517.483636 466.609783)" style="stroke: #000000; stroke-width: 0.6; stroke: #000000; stroke-width: 0.6"/>
      </g>
     </g>
    </g>
    <g id="ytick_148">
     <g id="line2d_298">
      <g>
       <path d="M 0 0 L -2 0" transform="translate(517.483636 457.303268)" style="stroke: #000000; stroke-width: 0.6; stroke: #000000; stroke-width: 0.6"/>
      </g>
     </g>
    </g>
    <g id="ytick_149">
     <g id="line2d_299">
      <g>
       <path d="M 0 0 L -2 0" transform="translate(517.483636 452.577619)" style="stroke: #000000; stroke-width: 0.6; stroke: #000000; stroke-width: 0.6"/>
      </g>
     </g>
    </g>
    <g id="ytick_150">
     <g id="line2d_300">
      <g>
       <path d="M 0 0 L -2 0" transform="translate(517.483636 449.224717)" style="stroke: #000000; stroke-width: 0.6; stroke: #000000; stroke-width: 0.6"/>
      </g>
     </g>
    </g>
    <g id="ytick_151">
     <g id="line2d_301">
      <g>
       <path d="M 0 0 L -2 0" transform="translate(517.483636 446.624005)" style="stroke: #000000; stroke-width: 0.6; stroke: #000000; stroke-width: 0.6"/>
      </g>
     </g>
    </g>
    <g id="ytick_152">
     <g id="line2d_302">
      <g>
       <path d="M 0 0 L -2 0" transform="translate(517.483636 444.499068)" style="stroke: #000000; stroke-width: 0.6; stroke: #000000; stroke-width: 0.6"/>
      </g>
     </g>
    </g>
    <g id="ytick_153">
     <g id="line2d_303">
      <g>
       <path d="M 0 0 L -2 0" transform="translate(517.483636 442.70246)" style="stroke: #000000; stroke-width: 0.6; stroke: #000000; stroke-width: 0.6"/>
      </g>
     </g>
    </g>
    <g id="ytick_154">
     <g id="line2d_304">
      <g>
       <path d="M 0 0 L -2 0" transform="translate(517.483636 441.146167)" style="stroke: #000000; stroke-width: 0.6; stroke: #000000; stroke-width: 0.6"/>
      </g>
     </g>
    </g>
    <g id="ytick_155">
     <g id="line2d_305">
      <g>
       <path d="M 0 0 L -2 0" transform="translate(517.483636 439.773419)" style="stroke: #000000; stroke-width: 0.6; stroke: #000000; stroke-width: 0.6"/>
      </g>
     </g>
    </g>
    <g id="ytick_156">
     <g id="line2d_306">
      <g>
       <path d="M 0 0 L -2 0" transform="translate(517.483636 430.466904)" style="stroke: #000000; stroke-width: 0.6; stroke: #000000; stroke-width: 0.6"/>
      </g>
     </g>
    </g>
    <g id="ytick_157">
     <g id="line2d_307">
      <g>
       <path d="M 0 0 L -2 0" transform="translate(517.483636 425.741255)" style="stroke: #000000; stroke-width: 0.6; stroke: #000000; stroke-width: 0.6"/>
      </g>
     </g>
    </g>
    <g id="ytick_158">
     <g id="line2d_308">
      <g>
       <path d="M 0 0 L -2 0" transform="translate(517.483636 422.388354)" style="stroke: #000000; stroke-width: 0.6; stroke: #000000; stroke-width: 0.6"/>
      </g>
     </g>
    </g>
    <g id="ytick_159">
     <g id="line2d_309">
      <g>
       <path d="M 0 0 L -2 0" transform="translate(517.483636 419.787641)" style="stroke: #000000; stroke-width: 0.6; stroke: #000000; stroke-width: 0.6"/>
      </g>
     </g>
    </g>
    <g id="ytick_160">
     <g id="line2d_310">
      <g>
       <path d="M 0 0 L -2 0" transform="translate(517.483636 417.662705)" style="stroke: #000000; stroke-width: 0.6; stroke: #000000; stroke-width: 0.6"/>
      </g>
     </g>
    </g>
    <g id="ytick_161">
     <g id="line2d_311">
      <g>
       <path d="M 0 0 L -2 0" transform="translate(517.483636 415.866096)" style="stroke: #000000; stroke-width: 0.6; stroke: #000000; stroke-width: 0.6"/>
      </g>
     </g>
    </g>
    <g id="ytick_162">
     <g id="line2d_312">
      <g>
       <path d="M 0 0 L -2 0" transform="translate(517.483636 414.309803)" style="stroke: #000000; stroke-width: 0.6; stroke: #000000; stroke-width: 0.6"/>
      </g>
     </g>
    </g>
    <g id="ytick_163">
     <g id="line2d_313">
      <g>
       <path d="M 0 0 L -2 0" transform="translate(517.483636 412.937056)" style="stroke: #000000; stroke-width: 0.6; stroke: #000000; stroke-width: 0.6"/>
      </g>
     </g>
    </g>
    <g id="ytick_164">
     <g id="line2d_314">
      <g>
       <path d="M 0 0 L -2 0" transform="translate(517.483636 403.63054)" style="stroke: #000000; stroke-width: 0.6; stroke: #000000; stroke-width: 0.6"/>
      </g>
     </g>
    </g>
    <g id="ytick_165">
     <g id="line2d_315">
      <g>
       <path d="M 0 0 L -2 0" transform="translate(517.483636 398.904891)" style="stroke: #000000; stroke-width: 0.6; stroke: #000000; stroke-width: 0.6"/>
      </g>
     </g>
    </g>
    <g id="ytick_166">
     <g id="line2d_316">
      <g>
       <path d="M 0 0 L -2 0" transform="translate(517.483636 395.55199)" style="stroke: #000000; stroke-width: 0.6; stroke: #000000; stroke-width: 0.6"/>
      </g>
     </g>
    </g>
    <g id="ytick_167">
     <g id="line2d_317">
      <g>
       <path d="M 0 0 L -2 0" transform="translate(517.483636 392.951278)" style="stroke: #000000; stroke-width: 0.6; stroke: #000000; stroke-width: 0.6"/>
      </g>
     </g>
    </g>
    <g id="ytick_168">
     <g id="line2d_318">
      <g>
       <path d="M 0 0 L -2 0" transform="translate(517.483636 390.826341)" style="stroke: #000000; stroke-width: 0.6; stroke: #000000; stroke-width: 0.6"/>
      </g>
     </g>
    </g>
    <g id="ytick_169">
     <g id="line2d_319">
      <g>
       <path d="M 0 0 L -2 0" transform="translate(517.483636 389.029733)" style="stroke: #000000; stroke-width: 0.6; stroke: #000000; stroke-width: 0.6"/>
      </g>
     </g>
    </g>
    <g id="ytick_170">
     <g id="line2d_320">
      <g>
       <path d="M 0 0 L -2 0" transform="translate(517.483636 387.47344)" style="stroke: #000000; stroke-width: 0.6; stroke: #000000; stroke-width: 0.6"/>
      </g>
     </g>
    </g>
    <g id="ytick_171">
     <g id="line2d_321">
      <g>
       <path d="M 0 0 L -2 0" transform="translate(517.483636 386.100692)" style="stroke: #000000; stroke-width: 0.6; stroke: #000000; stroke-width: 0.6"/>
      </g>
     </g>
    </g>
    <g id="ytick_172">
     <g id="line2d_322">
      <g>
       <path d="M 0 0 L -2 0" transform="translate(517.483636 376.794177)" style="stroke: #000000; stroke-width: 0.6; stroke: #000000; stroke-width: 0.6"/>
      </g>
     </g>
    </g>
    <g id="ytick_173">
     <g id="line2d_323">
      <g>
       <path d="M 0 0 L -2 0" transform="translate(517.483636 372.068528)" style="stroke: #000000; stroke-width: 0.6; stroke: #000000; stroke-width: 0.6"/>
      </g>
     </g>
    </g>
    <g id="ytick_174">
     <g id="line2d_324">
      <g>
       <path d="M 0 0 L -2 0" transform="translate(517.483636 368.715626)" style="stroke: #000000; stroke-width: 0.6; stroke: #000000; stroke-width: 0.6"/>
      </g>
     </g>
    </g>
    <g id="ytick_175">
     <g id="line2d_325">
      <g>
       <path d="M 0 0 L -2 0" transform="translate(517.483636 366.114914)" style="stroke: #000000; stroke-width: 0.6; stroke: #000000; stroke-width: 0.6"/>
      </g>
     </g>
    </g>
   </g>
   <g id="line2d_326">
    <path d="M 524.814545 369.556364 L 532.145455 388.669091 L 537.250909 406.996364 L 541.309091 426.109091 L 544.581818 446.007273 L 548.509091 451.505455 L 556.363636 451.505455 L 560.290909 454.909091 L 571.418182 454.909091 L 576 459.36 L 583.069091 459.36 L 587.781818 462.763636 L 595.505455 463.025455 L 599.563636 464.203636 L 605.716364 464.727273 L 641.454545 464.727273 L 670.254545 463.810909" clip-path="url(#pf6d8da9178)" style="fill: none; stroke: #000000; stroke-width: 2; stroke-linecap: square"/>
   </g>
   <g id="patch_59">
    <path d="M 517.483636 469.047273 L 517.483636 365.236364" style="fill: none; stroke: #000000; stroke-linejoin: miter; stroke-linecap: square"/>
   </g>
   <g id="patch_60">
    <path d="M 676.930909 469.047273 L 676.930909 365.236364" style="fill: none; stroke: #000000; stroke-linejoin: miter; stroke-linecap: square"/>
   </g>
   <g id="patch_61">
    <path d="M 517.483636 469.047273 L 676.930909 469.047273" style="fill: none; stroke: #000000; stroke-linejoin: miter; stroke-linecap: square"/>
   </g>
   <g id="patch_62">
    <path d="M 517.483636 365.236364 L 676.930909 365.236364" style="fill: none; stroke: #000000; stroke-linejoin: miter; stroke-linecap: square"/>
   </g>
  </g>
  <g id="axes_12">
   <g id="matplotlib.axis_21">
    <g id="ytick_176">
     <g id="line2d_327">
      <g>
       <path d="M 0 0 L 3.5 0" transform="translate(676.930909 467.607273)" style="stroke: #000000; stroke-width: 0.8; stroke: #000000; stroke-width: 0.8"/>
      </g>
     </g>
     <g id="text_92">
      <g transform="translate(683.930909 471.520468)">
       <text xml:space="preserve"><tspan x="0 6.521" y="-0.977" style="font-size: 10.3px; font-family: 'DejaVu Sans', 'Liberation Sans', sans-serif">10</tspan><tspan x="13.138" y="-4.805" style="font-size: 7.21px; font-family: 'DejaVu Sans', 'Liberation Sans', sans-serif">2</tspan></text>
      </g>
     </g>
    </g>
    <g id="ytick_177">
     <g id="line2d_328">
      <g>
       <path d="M 0 0 L 3.5 0" transform="translate(676.930909 435.076364)" style="stroke: #000000; stroke-width: 0.8; stroke: #000000; stroke-width: 0.8"/>
      </g>
     </g>
     <g id="text_93">
      <g transform="translate(683.930909 438.989559)">
       <text xml:space="preserve"><tspan x="0 6.521" y="-0.977" style="font-size: 10.3px; font-family: 'DejaVu Sans', 'Liberation Sans', sans-serif">10</tspan><tspan x="13.138" y="-4.805" style="font-size: 7.21px; font-family: 'DejaVu Sans', 'Liberation Sans', sans-serif">3</tspan></text>
      </g>
     </g>
    </g>
    <g id="ytick_178">
     <g id="line2d_329">
      <g>
       <path d="M 0 0 L 3.5 0" transform="translate(676.930909 402.545455)" style="stroke: #000000; stroke-width: 0.8; stroke: #000000; stroke-width: 0.8"/>
      </g>
     </g>
     <g id="text_94">
      <g transform="translate(683.930909 406.45865)">
       <text xml:space="preserve"><tspan x="0 6.521" y="-0.064" style="font-size: 10.3px; font-family: 'DejaVu Sans', 'Liberation Sans', sans-serif">10</tspan><tspan x="13.138" y="-3.892" style="font-size: 7.21px; font-family: 'DejaVu Sans', 'Liberation Sans', sans-serif">4</tspan></text>
      </g>
     </g>
    </g>
    <g id="ytick_179">
     <g id="line2d_330">
      <g>
       <path d="M 0 0 L 3.5 0" transform="translate(676.930909 370.014545)" style="stroke: #000000; stroke-width: 0.8; stroke: #000000; stroke-width: 0.8"/>
      </g>
     </g>
     <g id="text_95">
      <g transform="translate(683.930909 373.927741)">
       <text xml:space="preserve"><tspan x="0 6.521" y="-0.064" style="font-size: 10.3px; font-family: 'DejaVu Sans', 'Liberation Sans', sans-serif">10</tspan><tspan x="13.138" y="-3.892" style="font-size: 7.21px; font-family: 'DejaVu Sans', 'Liberation Sans', sans-serif">5</tspan></text>
      </g>
     </g>
    </g>
    <g id="ytick_180">
     <g id="line2d_331">
      <g>
       <path d="M 0 0 L 2 0" transform="translate(676.930909 457.814493)" style="stroke: #000000; stroke-width: 0.6; stroke: #000000; stroke-width: 0.6"/>
      </g>
     </g>
    </g>
    <g id="ytick_181">
     <g id="line2d_332">
      <g>
       <path d="M 0 0 L 2 0" transform="translate(676.930909 452.086085)" style="stroke: #000000; stroke-width: 0.6; stroke: #000000; stroke-width: 0.6"/>
      </g>
     </g>
    </g>
    <g id="ytick_182">
     <g id="line2d_333">
      <g>
       <path d="M 0 0 L 2 0" transform="translate(676.930909 448.021714)" style="stroke: #000000; stroke-width: 0.6; stroke: #000000; stroke-width: 0.6"/>
      </g>
     </g>
    </g>
    <g id="ytick_183">
     <g id="line2d_334">
      <g>
       <path d="M 0 0 L 2 0" transform="translate(676.930909 444.869143)" style="stroke: #000000; stroke-width: 0.6; stroke: #000000; stroke-width: 0.6"/>
      </g>
     </g>
    </g>
    <g id="ytick_184">
     <g id="line2d_335">
      <g>
       <path d="M 0 0 L 2 0" transform="translate(676.930909 442.293305)" style="stroke: #000000; stroke-width: 0.6; stroke: #000000; stroke-width: 0.6"/>
      </g>
     </g>
    </g>
    <g id="ytick_185">
     <g id="line2d_336">
      <g>
       <path d="M 0 0 L 2 0" transform="translate(676.930909 440.115465)" style="stroke: #000000; stroke-width: 0.6; stroke: #000000; stroke-width: 0.6"/>
      </g>
     </g>
    </g>
    <g id="ytick_186">
     <g id="line2d_337">
      <g>
       <path d="M 0 0 L 2 0" transform="translate(676.930909 438.228934)" style="stroke: #000000; stroke-width: 0.6; stroke: #000000; stroke-width: 0.6"/>
      </g>
     </g>
    </g>
    <g id="ytick_187">
     <g id="line2d_338">
      <g>
       <path d="M 0 0 L 2 0" transform="translate(676.930909 436.564896)" style="stroke: #000000; stroke-width: 0.6; stroke: #000000; stroke-width: 0.6"/>
      </g>
     </g>
    </g>
    <g id="ytick_188">
     <g id="line2d_339">
      <g>
       <path d="M 0 0 L 2 0" transform="translate(676.930909 425.283584)" style="stroke: #000000; stroke-width: 0.6; stroke: #000000; stroke-width: 0.6"/>
      </g>
     </g>
    </g>
    <g id="ytick_189">
     <g id="line2d_340">
      <g>
       <path d="M 0 0 L 2 0" transform="translate(676.930909 419.555175)" style="stroke: #000000; stroke-width: 0.6; stroke: #000000; stroke-width: 0.6"/>
      </g>
     </g>
    </g>
    <g id="ytick_190">
     <g id="line2d_341">
      <g>
       <path d="M 0 0 L 2 0" transform="translate(676.930909 415.490805)" style="stroke: #000000; stroke-width: 0.6; stroke: #000000; stroke-width: 0.6"/>
      </g>
     </g>
    </g>
    <g id="ytick_191">
     <g id="line2d_342">
      <g>
       <path d="M 0 0 L 2 0" transform="translate(676.930909 412.338234)" style="stroke: #000000; stroke-width: 0.6; stroke: #000000; stroke-width: 0.6"/>
      </g>
     </g>
    </g>
    <g id="ytick_192">
     <g id="line2d_343">
      <g>
       <path d="M 0 0 L 2 0" transform="translate(676.930909 409.762396)" style="stroke: #000000; stroke-width: 0.6; stroke: #000000; stroke-width: 0.6"/>
      </g>
     </g>
    </g>
    <g id="ytick_193">
     <g id="line2d_344">
      <g>
       <path d="M 0 0 L 2 0" transform="translate(676.930909 407.584556)" style="stroke: #000000; stroke-width: 0.6; stroke: #000000; stroke-width: 0.6"/>
      </g>
     </g>
    </g>
    <g id="ytick_194">
     <g id="line2d_345">
      <g>
       <path d="M 0 0 L 2 0" transform="translate(676.930909 405.698025)" style="stroke: #000000; stroke-width: 0.6; stroke: #000000; stroke-width: 0.6"/>
      </g>
     </g>
    </g>
    <g id="ytick_195">
     <g id="line2d_346">
      <g>
       <path d="M 0 0 L 2 0" transform="translate(676.930909 404.033987)" style="stroke: #000000; stroke-width: 0.6; stroke: #000000; stroke-width: 0.6"/>
      </g>
     </g>
    </g>
    <g id="ytick_196">
     <g id="line2d_347">
      <g>
       <path d="M 0 0 L 2 0" transform="translate(676.930909 392.752675)" style="stroke: #000000; stroke-width: 0.6; stroke: #000000; stroke-width: 0.6"/>
      </g>
     </g>
    </g>
    <g id="ytick_197">
     <g id="line2d_348">
      <g>
       <path d="M 0 0 L 2 0" transform="translate(676.930909 387.024266)" style="stroke: #000000; stroke-width: 0.6; stroke: #000000; stroke-width: 0.6"/>
      </g>
     </g>
    </g>
    <g id="ytick_198">
     <g id="line2d_349">
      <g>
       <path d="M 0 0 L 2 0" transform="translate(676.930909 382.959896)" style="stroke: #000000; stroke-width: 0.6; stroke: #000000; stroke-width: 0.6"/>
      </g>
     </g>
    </g>
    <g id="ytick_199">
     <g id="line2d_350">
      <g>
       <path d="M 0 0 L 2 0" transform="translate(676.930909 379.807325)" style="stroke: #000000; stroke-width: 0.6; stroke: #000000; stroke-width: 0.6"/>
      </g>
     </g>
    </g>
    <g id="ytick_200">
     <g id="line2d_351">
      <g>
       <path d="M 0 0 L 2 0" transform="translate(676.930909 377.231487)" style="stroke: #000000; stroke-width: 0.6; stroke: #000000; stroke-width: 0.6"/>
      </g>
     </g>
    </g>
    <g id="ytick_201">
     <g id="line2d_352">
      <g>
       <path d="M 0 0 L 2 0" transform="translate(676.930909 375.053647)" style="stroke: #000000; stroke-width: 0.6; stroke: #000000; stroke-width: 0.6"/>
      </g>
     </g>
    </g>
    <g id="ytick_202">
     <g id="line2d_353">
      <g>
       <path d="M 0 0 L 2 0" transform="translate(676.930909 373.167116)" style="stroke: #000000; stroke-width: 0.6; stroke: #000000; stroke-width: 0.6"/>
      </g>
     </g>
    </g>
    <g id="ytick_203">
     <g id="line2d_354">
      <g>
       <path d="M 0 0 L 2 0" transform="translate(676.930909 371.503078)" style="stroke: #000000; stroke-width: 0.6; stroke: #000000; stroke-width: 0.6"/>
      </g>
     </g>
    </g>
    <g id="text_96">
     <g transform="translate(713.8853 429.141318) rotate(-90)">
      <text xml:space="preserve"><tspan x="0" y="-0.406" style="font-style: oblique; font-size: 10.3px; font-family: 'DejaVu Sans', 'Liberation Sans', sans-serif">λ</tspan><tspan x="6.066 9.324 13.323 16.581 19.839" y="-0.406" style="font-size: 10.3px; font-family: 'DejaVu Sans', 'Liberation Sans', sans-serif"> (..)</tspan></text>
     </g>
    </g>
   </g>
   <g id="line2d_355">
    <path d="M 524.814545 370.014545 L 552.305455 370.014545 L 556.232727 392.858182 L 568.014545 392.858182 L 571.941818 412.363636 L 579.927273 412.363636 L 583.854545 431.869091 L 591.709091 431.869091 L 595.636364 448.494545 L 603.490909 448.494545 L 607.418182 464.465455 L 623.127273 464.465455 L 627.054545 459.36 L 638.836364 459.36 L 642.763636 453.338182 L 654.545455 453.338182 L 658.472727 447.316364 L 670.254545 447.316364" clip-path="url(#pf6d8da9178)" style="fill: none; stroke-dasharray: 2.1,2.1; stroke-dashoffset: 0; stroke: #000000; stroke-width: 2"/>
   </g>
   <g id="patch_63">
    <path d="M 517.483636 469.047273 L 517.483636 365.236364" style="fill: none; stroke: #000000; stroke-width: 0.5; stroke-linejoin: miter; stroke-linecap: square"/>
   </g>
   <g id="patch_64">
    <path d="M 676.930909 469.047273 L 676.930909 365.236364" style="fill: none; stroke: #000000; stroke-width: 0.5; stroke-linejoin: miter; stroke-linecap: square"/>
   </g>
   <g id="patch_65">
    <path d="M 517.483636 469.047273 L 676.930909 469.047273" style="fill: none; stroke: #000000; stroke-width: 0.5; stroke-linejoin: miter; stroke-linecap: square"/>
   </g>
   <g id="patch_66">
    <path d="M 517.483636 365.236364 L 676.930909 365.236364" style="fill: none; stroke: #000000; stroke-width: 0.5; stroke-linejoin: miter; stroke-linecap: square"/>
   </g>
   <g id="legend_9">
    <g id="patch_67">
     <path d="M 579.492909 403.713301 L 669.720909 403.713301 Q 671.780909 403.713301 671.780909 401.653301 L 671.780909 372.446364 Q 671.780909 370.386364 669.720909 370.386364 L 579.492909 370.386364 Q 577.432909 370.386364 577.432909 372.446364 L 577.432909 401.653301 Q 577.432909 403.713301 579.492909 403.713301 z" style="fill: #ffffff; opacity: 0.8; stroke: #cccccc; stroke-linejoin: miter"/>
    </g>
    <g id="line2d_356">
     <path d="M 581.552909 378.727754 L 591.852909 378.727754 L 602.152909 378.727754" style="fill: none; stroke-dasharray: 2.1,2.1; stroke-dashoffset: 0; stroke: #000000; stroke-width: 2"/>
    </g>
    <g id="text_97">
     <g transform="translate(610.392909 382.332754)">
      <text xml:space="preserve"><tspan x="0" y="-0.406" style="font-style: oblique; font-size: 10.3px; font-family: 'DejaVu Sans', 'Liberation Sans', sans-serif">λ</tspan><tspan x="6.066 9.324 15.63 21.696 27.967 30.815 37.311 41.33 44.178 50.449" y="-0.406" style="font-size: 10.3px; font-family: 'DejaVu Sans', 'Liberation Sans', sans-serif"> evolution</tspan></text>
     </g>
    </g>
    <g id="line2d_357">
     <path d="M 581.552909 393.846223 L 591.852909 393.846223 L 602.152909 393.846223" style="fill: none; stroke: #000000; stroke-width: 2; stroke-linecap: square"/>
    </g>
    <g id="text_98">
     <g transform="translate(610.392909 397.451223)">
      <text xml:space="preserve"><tspan x="0" y="-0.406" style="font-style: oblique; font-size: 10.3px; font-family: 'DejaVu Sans', 'Liberation Sans', sans-serif">ε</tspan><tspan x="5.54 8.799 15.105 21.171 27.442 30.29 36.786 40.805 43.653 49.924" y="-0.406" style="font-size: 10.3px; font-family: 'DejaVu Sans', 'Liberation Sans', sans-serif"> evolution</tspan></text>
     </g>
    </g>
   </g>
  </g>
  <g id="text_99">
   <text style="font-size: 10.3px; font-family: 'DejaVu Sans', 'Liberation Sans', sans-serif; text-anchor: start" x="52.101818" y="13.483636" transform="rotate(-0 52.101818 13.483636)">(a)</text>
  </g>
  <g id="plabel_b">
   <text style="font-weight: 700; font-size: 11.8px; font-family: 'Liberation Serif', serif; text-anchor: start" x="274.647273" y="13.483636" transform="rotate(-0 274.647273 13.483636)">(b)</text>
  </g>
  <g id="plabel_c">
   <text style="font-weight: 700; font-size: 11.8px; font-family: 'Liberation Serif', serif; text-anchor: start" x="497.192727" y="13.483636" transform="rotate(-0 497.192727 13.483636)">(c)</text>
  </g>
  <g id="plabel_d">
   <text style="font-weight: 700; font-size: 11.8px; font-family: 'Liberation Serif', serif; text-anchor: start" x="52.101818" y="184.32" transform="rotate(-0 52.101818 184.32)">(d)</text>
  </g>
  <g id="plabel_e">
   <text style="font-weight: 700; font-size: 11.8px; font-family: 'Liberation Serif', serif; text-anchor: start" x="274.647273" y="184.32" transform="rotate(-0 274.647273 184.32)">(e)</text>
  </g>
  <g id="plabel_f">
   <text style="font-weight: 700; font-size: 11.8px; font-family: 'Liberation Serif', serif; text-anchor: start" x="497.192727" y="184.32" transform="rotate(-0 497.192727 184.32)">(f)</text>
  </g>
  <g id="text_100">
   <text style="font-size: 10.3px; font-family: 'DejaVu Sans', 'Liberation Sans', sans-serif; text-anchor: start" x="52.101818" y="355.418182" transform="rotate(-0 52.101818 355.418182)">(g)</text>
  </g>
  <g id="plabel_h">
   <text style="font-weight: 700; font-size: 11.8px; font-family: 'Liberation Serif', serif; text-anchor: start" x="274.647273" y="355.418182" transform="rotate(-0 274.647273 355.418182)">(h)</text>
  </g>
  <g id="plabel_i">
   <text style="font-weight: 700; font-size: 11.8px; font-family: 'Liberation Serif', serif; text-anchor: start" x="497.192727" y="355.418182" transform="rotate(-0 497.192727 355.418182)">(i)</text>
  </g>
 </g>
 <defs>
  <clipPath id="pb1dede0f49">
   <rect x="72.392727" y="23.301818" width="159.447273" height="103.810909"/>
  </clipPath>
  <clipPath id="p7236c7cf03">
   <rect x="294.938182" y="23.301818" width="159.447273" height="103.810909"/>
  </clipPath>
  <clipPath id="p503ab55e07">
   <rect x="517.483636" y="23.301818" width="159.447273" height="103.810909"/>
  </clipPath>
  <clipPath id="p05bd576114">
   <rect x="72.392727" y="194.138182" width="159.447273" height="103.810909"/>
  </clipPath>
  <clipPath id="p1e324e6f9f">
   <rect x="294.938182" y="194.138182" width="159.447273" height="103.810909"/>
  </clipPath>
  <clipPath id="p9fcfd8e012">
   <rect x="517.483636" y="194.138182" width="159.447273" height="103.810909"/>
  </clipPath>
  <clipPath id="p233d3f415a">
   <rect x="72.392727" y="365.236364" width="159.447273" height="103.810909"/>
  </clipPath>
  <clipPath id="pea5244794f">
   <rect x="294.938182" y="365.236364" width="159.447273" height="103.810909"/>
  </clipPath>
  <clipPath id="pf6d8da9178">
   <rect x="517.483636" y="365.236364" width="159.447273" height="103.810909"/>
  </clipPath>
 </defs>
</svg>

</body>
</html>
